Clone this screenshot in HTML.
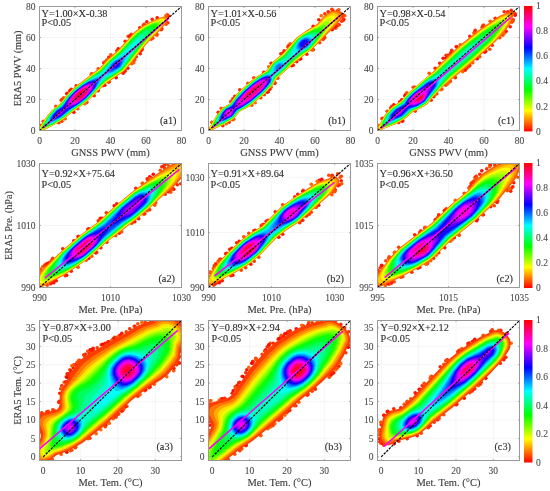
<!DOCTYPE html><html><head><meta charset="utf-8"><style>html,body{margin:0;padding:0;background:#fff;}svg{display:block;font-family:"Liberation Serif", "Times New Roman", serif;filter:blur(0.4px);} .tk{fill:#4a4a4a;stroke:#4a4a4a;stroke-width:0.1px;} .an{fill:#2e2e2e;stroke:#2e2e2e;stroke-width:0.12px;} .al{fill:#3c3c3c;stroke:#3c3c3c;stroke-width:0.12px;}</style></head><body><svg width="550" height="491" viewBox="0 0 550 491">
<defs><linearGradient id="hsv" x1="0" y1="1" x2="0" y2="0"><stop offset="0" stop-color="#ff0000"/><stop offset="0.1667" stop-color="#ffff00"/><stop offset="0.3333" stop-color="#00ff00"/><stop offset="0.5" stop-color="#00ffff"/><stop offset="0.6667" stop-color="#0000ff"/><stop offset="0.8333" stop-color="#ff00ff"/><stop offset="1" stop-color="#ff0000"/></linearGradient><filter id="bl" x="-5%" y="-5%" width="110%" height="110%"><feGaussianBlur stdDeviation="0.45"/></filter></defs>
<line x1="75.0" y1="6.5" x2="75.0" y2="130.5" stroke="#efefef" stroke-width="0.6"/><line x1="110.5" y1="6.5" x2="110.5" y2="130.5" stroke="#efefef" stroke-width="0.6"/><line x1="146.0" y1="6.5" x2="146.0" y2="130.5" stroke="#efefef" stroke-width="0.6"/><line x1="39.5" y1="99.5" x2="181.5" y2="99.5" stroke="#efefef" stroke-width="0.6"/><line x1="39.5" y1="68.5" x2="181.5" y2="68.5" stroke="#efefef" stroke-width="0.6"/><line x1="39.5" y1="37.5" x2="181.5" y2="37.5" stroke="#efefef" stroke-width="0.6"/>
<g><clipPath id="cp00"><rect x="39.5" y="6.5" width="142.0" height="124.0"/></clipPath><g clip-path="url(#cp00)"><g filter="url(#bl)"><circle cx="134.8" cy="59.8" r="1.8" fill="#ff4800"/><circle cx="65.2" cy="118.8" r="1.8" fill="#ff6200"/><circle cx="166.2" cy="23.7" r="1.8" fill="#ff5900"/><circle cx="64.2" cy="118.8" r="1.8" fill="#ff5f00"/><circle cx="151.2" cy="39.2" r="1.8" fill="#ff4700"/><circle cx="141.2" cy="50.8" r="1.8" fill="#ff1a00"/><circle cx="63.8" cy="97.8" r="1.8" fill="#ff5200"/><circle cx="142.2" cy="49.2" r="1.8" fill="#ff1700"/><circle cx="131.8" cy="63.8" r="1.8" fill="#ff5900"/><circle cx="168.2" cy="15.8" r="1.8" fill="#ff0700"/><circle cx="103.2" cy="85.8" r="1.8" fill="#ff5800"/><circle cx="103.8" cy="62.8" r="1.8" fill="#ff1200"/><circle cx="125.2" cy="41.2" r="1.8" fill="#ff2800"/><circle cx="98.2" cy="90.8" r="1.8" fill="#ff2200"/><circle cx="152.8" cy="38.2" r="1.8" fill="#ff4a00"/><circle cx="140.2" cy="53.8" r="1.8" fill="#ff1300"/><circle cx="167.8" cy="22.8" r="1.8" fill="#ff2a00"/><circle cx="118.2" cy="48.8" r="1.8" fill="#ff0100"/><circle cx="161.8" cy="28.8" r="1.8" fill="#ff1c00"/><circle cx="156.8" cy="34.2" r="1.8" fill="#ff2d00"/><circle cx="104.8" cy="85.2" r="1.8" fill="#ff0b00"/><circle cx="128.2" cy="36.2" r="1.8" fill="#ff4400"/><circle cx="108.8" cy="57.2" r="1.8" fill="#ff2900"/><circle cx="40.8" cy="125.2" r="1.8" fill="#ff4e00"/><circle cx="43.2" cy="121.2" r="1.8" fill="#ff4600"/><circle cx="108.8" cy="82.2" r="1.8" fill="#ff2e00"/><circle cx="133.8" cy="62.8" r="1.8" fill="#ff5d00"/><circle cx="130.2" cy="35.8" r="1.8" fill="#ff4400"/><circle cx="143.2" cy="25.2" r="1.8" fill="#ff5700"/><circle cx="58.8" cy="122.8" r="1.8" fill="#ff2500"/><circle cx="133.8" cy="60.2" r="1.8" fill="#ff3a00"/><circle cx="146.8" cy="21.7" r="1.8" fill="#ff1500"/><circle cx="124.8" cy="71.8" r="1.8" fill="#ff6b00"/><circle cx="71.2" cy="89.2" r="1.8" fill="#ff1a00"/><circle cx="125.2" cy="70.8" r="1.8" fill="#ff1c00"/><circle cx="73.8" cy="112.2" r="1.8" fill="#ff0800"/><circle cx="168.2" cy="16.2" r="1.8" fill="#ff1c00"/><circle cx="104.8" cy="61.8" r="1.8" fill="#ff5200"/><circle cx="110.8" cy="54.8" r="1.8" fill="#ff4b00"/><circle cx="157.2" cy="17.7" r="1.8" fill="#ff0e00"/><circle cx="91.8" cy="73.8" r="1.8" fill="#ff2800"/><circle cx="86.8" cy="102.2" r="1.8" fill="#ff2d00"/><circle cx="98.2" cy="68.8" r="1.8" fill="#ff4700"/><circle cx="131.2" cy="34.2" r="1.8" fill="#ff3100"/><circle cx="61.2" cy="100.2" r="1.8" fill="#ff3f00"/><circle cx="106.8" cy="59.8" r="1.8" fill="#ff5a00"/><circle cx="134.2" cy="59.8" r="1.8" fill="#ff4e00"/><circle cx="76.2" cy="85.8" r="1.8" fill="#ff2700"/><circle cx="144.2" cy="24.2" r="1.8" fill="#ff3000"/><circle cx="94.2" cy="95.8" r="1.8" fill="#ff2700"/><circle cx="116.2" cy="77.8" r="1.8" fill="#ff0c00"/><circle cx="69.8" cy="90.8" r="1.8" fill="#ff1600"/><circle cx="139.8" cy="27.8" r="1.8" fill="#ff1e00"/><circle cx="67.2" cy="93.2" r="1.8" fill="#ff2200"/><circle cx="152.2" cy="19.2" r="1.8" fill="#ff2200"/><circle cx="86.2" cy="102.8" r="1.8" fill="#ff3e00"/><circle cx="84.8" cy="103.8" r="1.8" fill="#ff6800"/><circle cx="55.8" cy="106.2" r="1.8" fill="#ff5300"/><circle cx="111.2" cy="55.8" r="1.8" fill="#ff5500"/><circle cx="156.8" cy="35.2" r="1.8" fill="#ff5100"/><circle cx="167.2" cy="14.8" r="1.8" fill="#ff4000"/><circle cx="91.2" cy="74.2" r="1.8" fill="#ff6200"/><circle cx="109.3" cy="81.8" r="1.8" fill="#ff4a00"/><circle cx="62.2" cy="99.2" r="1.8" fill="#ff3600"/><circle cx="129.8" cy="36.2" r="1.8" fill="#ff0800"/><circle cx="161.2" cy="29.8" r="1.8" fill="#ff3400"/><circle cx="123.2" cy="73.2" r="1.8" fill="#ff1700"/><circle cx="66.8" cy="93.8" r="1.8" fill="#ff0e00"/><circle cx="61.8" cy="121.2" r="1.8" fill="#ff3600"/><circle cx="166.2" cy="24.2" r="1.8" fill="#ff5400"/><circle cx="136.2" cy="56.8" r="1.8" fill="#ff2000"/><circle cx="77.8" cy="108.8" r="1.8" fill="#ff5200"/><circle cx="116.8" cy="50.8" r="1.8" fill="#ff3800"/><circle cx="127.8" cy="68.2" r="1.8" fill="#ff1000"/><circle cx="165.8" cy="15.8" r="1.8" fill="#ff6700"/><path d="M43.8 130.3L39.8 130.3L39.8 126.8L47.2 115.7L51.8 110.2L59.8 103.8L66.3 95.2L73.7 87.8L99.2 68.2L107.8 59.2L119.7 48.2L134.2 32.2L139.8 27.8L145.2 24.3L157.6 18.2L166.2 15.9L168.3 16.8L168.8 18.8L166.3 23.2L158.8 31.8L149.5 40.8L140.9 50.8L132.2 62.2L124.3 71.2L104.8 84.4L87.7 101.2L74.8 110.4L63.6 119.2L57.2 123.3L43.8 130.3Z" fill="#ff5c00" fill-rule="evenodd"/><path d="M43.2 130.3L40.2 130.2L39.8 129.7L39.8 127.3L47.5 115.8L52.0 110.2L59.8 104.2L67.1 94.8L73.2 88.6L99.9 68.2L108.5 59.2L119.0 49.8L134.2 33.0L141.2 27.5L150.8 22.0L161.2 17.6L164.2 17.3L166.8 18.0L167.0 20.2L165.3 23.2L157.9 31.8L148.8 40.7L124.2 70.6L104.3 84.2L86.8 101.7L74.5 110.2L62.8 119.5L56.2 123.6L43.2 130.3Z" fill="#ff9500" fill-rule="evenodd"/><path d="M42.2 130.3L41.2 130.2L40.0 129.2L40.1 127.2L47.5 116.2L52.4 110.2L60.1 104.2L67.0 95.2L73.2 88.9L100.1 68.8L108.8 59.6L119.2 50.2L135.2 32.8L142.2 27.4L151.2 22.4L161.2 18.3L164.1 18.2L165.6 19.2L165.6 21.2L164.0 23.8L158.1 30.8L150.2 38.3L143.2 46.3L130.9 62.2L123.8 70.5L104.3 83.8L87.2 100.9L74.1 110.2L63.2 118.9L55.8 123.6L42.2 130.3Z" fill="#ffcb00" fill-rule="evenodd"/><path d="M42.8 129.9L40.8 129.3L40.2 127.8L48.1 115.8L53.2 109.7L60.4 104.2L66.5 96.2L72.8 89.7L99.8 69.5L109.2 59.7L119.8 50.3L132.8 35.8L139.2 30.1L145.2 26.1L152.2 22.4L160.8 19.2L162.8 19.1L164.1 19.8L164.6 20.8L164.1 22.2L159.1 28.8L149.8 38.2L142.8 46.2L130.4 62.2L123.5 70.2L104.8 83.0L86.8 101.0L73.7 110.2L62.8 119.0L55.8 123.4L42.8 129.9Z" fill="#feff00" fill-rule="evenodd"/><path d="M43.2 129.4L41.2 129.2L40.5 128.2L40.7 127.2L48.3 115.8L53.8 109.4L60.6 104.2L67.2 95.8L73.2 89.5L100.0 69.8L109.6 59.8L119.2 51.3L132.3 36.8L139.2 30.6L145.2 26.6L151.8 23.1L159.8 20.3L161.8 20.2L162.6 20.8L162.7 22.8L158.1 29.2L149.2 38.1L142.2 46.2L130.3 61.8L123.2 70.0L116.2 75.1L109.2 79.1L103.8 83.4L88.8 98.9L83.2 103.5L74.1 109.8L60.8 120.1L54.2 124.0L43.2 129.4Z" fill="#c8ff00" fill-rule="evenodd"/><path d="M43.8 128.9L41.8 128.9L41.1 128.2L41.1 127.2L48.5 115.8L53.8 109.7L60.8 104.4L67.0 96.2L73.2 89.8L100.2 69.9L109.8 60.0L119.3 51.8L132.8 36.8L139.2 31.1L144.8 27.3L151.2 23.8L158.2 21.6L160.8 21.9L161.2 22.8L160.7 24.2L157.5 29.2L149.0 37.8L141.8 46.2L123.1 69.8L116.2 74.8L109.2 78.8L104.2 82.6L88.8 98.7L83.8 102.9L73.8 109.8L60.8 119.9L53.8 124.1L43.8 128.9Z" fill="#93ff00" fill-rule="evenodd"/><path d="M42.8 128.8L41.8 128.2L41.5 127.2L44.6 121.8L49.1 115.2L53.9 109.8L60.8 104.6L67.2 96.2L73.2 90.0L100.4 70.2L109.9 60.2L119.8 51.8L132.8 37.2L139.2 31.5L144.8 27.8L151.2 24.3L156.2 22.8L158.9 23.2L159.2 25.2L156.8 29.2L148.8 37.5L141.8 45.7L122.8 69.7L105.2 81.5L100.8 85.5L86.8 100.3L73.8 109.6L62.8 118.3L53.8 123.9L42.8 128.8Z" fill="#5dff00" fill-rule="evenodd"/><path d="M44.8 127.8L42.4 127.8L42.6 125.8L48.2 116.6L54.1 109.8L60.9 104.8L65.8 98.2L73.2 90.2L82.2 83.2L100.8 70.3L110.3 60.2L120.2 51.8L133.2 37.4L139.6 31.8L144.8 28.2L151.5 24.8L155.2 23.8L157.3 24.2L157.8 26.2L155.8 29.8L148.0 37.8L141.6 45.2L122.8 69.3L104.8 81.5L100.8 85.1L88.7 98.2L82.8 103.3L74.2 109.0L60.4 119.8L52.8 124.3L44.8 127.8Z" fill="#28ff00" fill-rule="evenodd"/><path d="M45.2 127.3L43.5 126.8L43.3 125.2L48.8 116.2L54.2 109.9L61.2 104.8L67.3 96.8L73.5 90.2L83.2 82.8L100.8 70.9L110.8 60.4L120.4 52.2L133.2 38.1L139.2 32.8L144.3 29.2L150.0 26.2L153.2 25.3L155.3 25.8L155.9 27.2L154.6 29.8L140.6 45.8L122.3 69.2L104.8 81.0L100.7 84.8L88.8 97.9L83.2 102.6L73.2 109.5L60.2 119.6L52.3 124.2L45.2 127.3Z" fill="#00ff0e" fill-rule="evenodd"/><path d="M47.2 126.3L44.8 126.3L44.0 124.8L48.8 116.8L54.3 110.2L61.2 105.1L67.6 96.8L73.3 90.8L83.2 83.1L100.8 71.5L111.0 60.8L121.2 52.2L133.8 38.5L138.8 34.0L143.5 30.8L148.2 28.3L151.2 27.4L152.8 27.9L153.0 29.2L151.8 31.2L139.4 46.2L122.2 68.8L104.8 80.4L100.2 84.7L92.0 94.2L83.8 101.9L73.1 109.2L60.8 119.0L54.6 122.8L47.2 126.3Z" fill="#00ff44" fill-rule="evenodd"/><path d="M47.2 125.8L45.3 125.2L44.9 123.8L49.5 116.2L54.7 110.2L61.4 105.2L67.9 96.8L73.7 90.8L83.8 83.0L101.2 71.8L111.1 61.2L121.0 53.2L133.8 39.5L137.9 35.8L145.0 31.2L147.2 30.6L148.8 31.1L148.2 33.2L144.3 38.8L121.8 68.6L115.2 73.2L108.2 77.0L105.2 79.3L100.2 84.1L91.6 94.2L83.2 102.0L72.8 109.2L60.2 119.0L53.1 123.2L47.2 125.8Z" fill="#00ff79" fill-rule="evenodd"/><path d="M48.8 124.8L46.8 124.8L45.8 123.2L49.4 116.8L54.8 110.5L61.8 105.3L67.8 97.2L73.5 91.2L84.8 82.6L101.2 72.6L111.2 61.7L121.9 53.2L135.8 38.8L140.8 35.2L142.8 34.5L143.8 34.8L144.1 36.2L142.3 39.8L121.5 68.2L114.8 73.0L105.2 78.5L99.8 84.1L92.2 93.2L83.8 101.3L72.8 108.9L60.2 118.7L54.4 122.2L48.8 124.8Z" fill="#00ffaf" fill-rule="evenodd"/><path d="M50.2 123.8L48.2 124.2L46.7 122.8L47.3 120.8L49.8 116.8L54.9 110.8L61.8 105.7L68.1 97.2L73.8 91.3L86.2 82.0L101.8 73.1L112.4 61.2L121.9 54.2L135.8 40.7L137.8 39.4L139.3 39.2L139.6 40.2L138.4 42.8L121.2 67.8L114.3 72.8L107.2 76.2L104.8 78.1L99.8 83.5L92.8 92.2L83.8 101.1L72.5 108.8L60.5 118.2L50.2 123.8Z" fill="#00ffe4" fill-rule="evenodd"/><path d="M49.8 123.3L48.2 122.6L47.8 121.2L50.8 116.0L55.3 110.8L62.1 105.8L68.9 96.8L74.7 90.8L87.2 81.6L102.2 74.0L113.0 61.2L121.2 55.9L128.8 49.8L130.2 49.0L131.0 49.2L130.8 51.1L128.8 55.0L123.1 64.8L120.7 67.8L113.8 72.5L104.8 76.7L93.4 91.2L83.8 100.8L72.1 108.8L60.1 118.2L54.1 121.8L49.8 123.3Z" fill="#00e4ff" fill-rule="evenodd"/><path d="M108.2 73.8L106.2 73.6L105.7 72.8L105.8 71.8L107.7 68.2L112.2 62.8L117.8 58.7L123.8 56.1L125.1 56.2L125.3 57.8L123.6 62.2L120.8 67.0L113.8 71.8L108.2 73.8ZM51.2 122.3L49.8 122.0L48.8 120.8L49.7 118.2L51.8 115.2L55.8 110.7L62.2 106.1L68.8 97.2L75.1 90.8L82.2 85.2L88.8 81.1L97.8 77.1L100.2 76.6L101.6 77.2L101.0 79.8L95.5 88.2L85.8 98.8L79.2 103.8L71.6 108.8L60.3 117.8L55.2 120.8L51.2 122.3Z" fill="#00afff" fill-rule="evenodd"/><path d="M111.8 71.9L109.2 72.2L107.8 70.8L108.7 68.2L111.6 64.2L114.0 61.8L117.2 59.7L120.2 58.8L122.1 59.2L122.8 60.2L122.7 62.2L120.7 66.2L117.7 68.8L111.8 71.9ZM52.8 121.3L51.2 121.2L50.0 119.8L50.6 117.8L52.6 114.8L56.1 110.8L62.6 106.2L69.1 97.2L74.8 91.4L82.2 85.5L88.2 81.7L95.8 78.6L97.8 78.3L98.9 78.8L99.4 79.8L99.2 80.8L95.5 87.8L85.8 98.5L79.0 103.8L70.8 109.0L60.5 117.2L52.8 121.3Z" fill="#0079ff" fill-rule="evenodd"/><path d="M112.8 70.3L110.8 70.4L109.9 69.2L110.8 66.8L112.9 63.8L117.2 60.6L119.2 60.1L120.8 60.7L121.4 61.8L121.4 63.2L119.8 66.2L117.2 68.3L112.8 70.3ZM53.2 120.3L51.8 119.6L51.2 118.2L53.8 113.8L56.6 110.8L62.8 106.6L69.2 97.4L75.2 91.2L82.3 85.8L88.8 81.8L95.2 79.8L97.2 80.5L97.6 81.2L97.2 83.2L95.1 87.8L91.1 92.8L85.2 98.6L78.8 103.6L70.2 109.0L59.9 117.2L53.2 120.3Z" fill="#0044ff" fill-rule="evenodd"/><path d="M114.8 68.3L113.2 68.3L112.6 67.8L112.4 66.8L113.2 64.8L116.2 62.0L117.8 61.5L119.2 61.9L120.1 63.2L119.5 65.2L117.3 67.2L114.8 68.3ZM55.8 118.8L53.8 118.9L52.7 117.8L52.9 116.2L54.4 113.8L57.2 110.8L63.2 106.8L69.3 97.8L75.0 91.8L82.8 85.8L88.8 82.2L93.2 80.9L95.8 81.9L96.2 84.2L94.7 87.8L90.7 92.8L85.3 98.2L78.8 103.3L68.5 109.8L60.2 116.6L55.8 118.8Z" fill="#000eff" fill-rule="evenodd"/><path d="M116.8 65.8L115.7 65.8L115.3 64.8L116.2 63.7L117.2 63.6L117.9 64.8L116.8 65.8ZM57.8 117.3L55.8 117.6L54.4 116.8L54.3 115.2L55.2 113.5L57.3 111.2L63.3 107.8L69.3 98.2L75.2 91.9L82.5 86.2L88.4 82.8L92.2 81.7L94.8 82.9L95.3 84.8L94.2 87.8L90.8 92.2L85.5 97.8L78.2 103.4L67.2 109.9L60.8 115.6L57.8 117.3Z" fill="#2800ff" fill-rule="evenodd"/><path d="M68.2 108.3L66.8 108.4L65.5 107.2L66.2 103.8L70.0 97.8L74.8 92.7L82.2 86.7L88.2 83.3L91.8 82.5L93.8 83.8L94.5 85.2L93.7 87.8L90.9 91.8L85.6 97.2L77.8 103.4L68.2 108.3ZM57.8 116.3L56.4 115.8L55.8 114.8L57.2 112.2L60.8 110.4L62.2 110.2L63.1 110.8L63.3 111.8L61.8 113.8L59.8 115.5L57.8 116.3Z" fill="#5d00ff" fill-rule="evenodd"/><path d="M69.8 106.8L68.2 106.7L67.1 105.8L67.1 103.2L70.4 97.8L75.6 92.2L82.7 86.8L87.2 84.2L90.8 83.3L93.1 84.8L93.5 86.8L92.2 89.2L85.2 97.3L77.4 103.2L69.8 106.8Z" fill="#9300ff" fill-rule="evenodd"/><path d="M71.8 105.3L69.2 105.2L68.2 104.2L68.2 102.8L70.5 98.2L75.0 93.2L79.7 89.2L85.8 85.4L89.8 84.2L91.8 85.2L92.6 86.8L91.7 89.2L85.9 96.2L77.8 102.7L71.8 105.3Z" fill="#c800ff" fill-rule="evenodd"/><path d="M72.8 104.3L70.2 103.6L69.5 102.8L69.5 101.2L71.3 97.8L75.2 93.4L79.6 89.8L85.2 86.1L88.8 85.1L90.8 86.2L91.5 87.8L90.8 89.8L85.4 96.2L77.8 102.3L72.8 104.3Z" fill="#fe00ff" fill-rule="evenodd"/><path d="M74.2 103.3L71.8 102.9L70.8 101.9L70.5 100.8L71.8 97.9L74.9 94.2L78.8 90.8L84.8 86.8L87.8 86.1L89.8 87.2L90.4 88.2L89.9 90.2L85.4 95.8L79.3 100.8L74.2 103.3Z" fill="#ff00cb" fill-rule="evenodd"/><path d="M75.8 102.3L73.2 102.3L71.7 100.8L71.9 98.8L74.1 95.8L78.1 91.8L83.2 88.2L86.2 87.1L88.2 87.8L89.1 88.8L89.1 90.2L86.3 94.2L81.5 98.8L75.8 102.3Z" fill="#ff0095" fill-rule="evenodd"/><path d="M76.2 101.3L74.2 101.2L72.8 99.2L75.7 94.8L78.9 91.8L83.8 88.7L85.8 88.2L87.2 89.0L87.8 89.8L87.7 91.2L84.7 95.2L80.8 98.7L76.2 101.3Z" fill="#ff0060" fill-rule="evenodd"/><path d="M78.2 99.3L76.2 99.7L74.9 98.8L74.8 97.8L75.8 95.8L80.8 91.2L83.2 90.1L85.0 90.2L85.9 91.8L84.6 94.2L81.8 97.2L78.2 99.3Z" fill="#ff002a" fill-rule="evenodd"/><path d="M80.2 96.8L78.3 96.8L77.9 95.2L79.8 93.2L82.0 92.8L82.8 94.2L80.2 96.8Z" fill="#ff0008" fill-rule="evenodd"/></g><line x1="43.0" y1="128.0" x2="169.1" y2="17.9" stroke="#ff00ff" stroke-width="1.6"/><line x1="39.5" y1="130.5" x2="181.5" y2="6.5" stroke="#000" stroke-width="1.15" stroke-dasharray="2.5 1.1"/></g></g>
<path d="M39.5 130.5v-1.5M39.5 6.5v1.5M75.0 130.5v-1.5M75.0 6.5v1.5M110.5 130.5v-1.5M110.5 6.5v1.5M146.0 130.5v-1.5M146.0 6.5v1.5M181.5 130.5v-1.5M181.5 6.5v1.5M39.5 130.5h1.5M181.5 130.5h-1.5M39.5 99.5h1.5M181.5 99.5h-1.5M39.5 68.5h1.5M181.5 68.5h-1.5M39.5 37.5h1.5M181.5 37.5h-1.5M39.5 6.5h1.5M181.5 6.5h-1.5" stroke="#999" stroke-width="0.8" fill="none"/>
<rect x="39.5" y="6.5" width="142.0" height="124.0" fill="none" stroke="#999" stroke-width="1"/>
<g font-size="9.5" class="tk"><text x="39.5" y="143.5" text-anchor="middle">0</text><text x="75.0" y="143.5" text-anchor="middle">20</text><text x="110.5" y="143.5" text-anchor="middle">40</text><text x="146.0" y="143.5" text-anchor="middle">60</text><text x="181.5" y="143.5" text-anchor="middle">80</text><text x="35.5" y="133.7" text-anchor="end">0</text><text x="35.5" y="102.7" text-anchor="end">20</text><text x="35.5" y="71.7" text-anchor="end">40</text><text x="35.5" y="40.7" text-anchor="end">60</text><text x="35.5" y="9.7" text-anchor="end">80</text></g>
<g font-size="10.3" class="an"><text x="41.5" y="16.5">Y=1.00×X-0.38</text><text x="41.5" y="26.3">P&lt;0.05</text><text x="176.5" y="123.5" text-anchor="end">(a1)</text></g>
<text x="110.5" y="155.5" text-anchor="middle" font-size="10.5" class="al">GNSS PWV (mm)</text>
<text transform="translate(20.7,68.5) rotate(-90)" text-anchor="middle" font-size="10.2" class="al">ERA5 PWV (mm)</text>
<line x1="244.0" y1="6.5" x2="244.0" y2="130.5" stroke="#efefef" stroke-width="0.6"/><line x1="279.5" y1="6.5" x2="279.5" y2="130.5" stroke="#efefef" stroke-width="0.6"/><line x1="315.0" y1="6.5" x2="315.0" y2="130.5" stroke="#efefef" stroke-width="0.6"/><line x1="208.5" y1="99.5" x2="350.5" y2="99.5" stroke="#efefef" stroke-width="0.6"/><line x1="208.5" y1="68.5" x2="350.5" y2="68.5" stroke="#efefef" stroke-width="0.6"/><line x1="208.5" y1="37.5" x2="350.5" y2="37.5" stroke="#efefef" stroke-width="0.6"/>
<g><clipPath id="cp01"><rect x="208.5" y="6.5" width="142.0" height="124.0"/></clipPath><g clip-path="url(#cp01)"><g filter="url(#bl)"><circle cx="313.2" cy="49.8" r="1.8" fill="#ff0300"/><circle cx="232.8" cy="119.8" r="1.8" fill="#ff4800"/><circle cx="321.2" cy="15.8" r="1.8" fill="#ff6200"/><circle cx="233.8" cy="119.2" r="1.8" fill="#ff5900"/><circle cx="335.8" cy="28.2" r="1.8" fill="#ff5f00"/><circle cx="323.2" cy="39.2" r="1.8" fill="#ff4700"/><circle cx="234.8" cy="96.2" r="1.8" fill="#ff1a00"/><circle cx="324.8" cy="37.8" r="1.8" fill="#ff5200"/><circle cx="306.8" cy="54.2" r="1.8" fill="#ff1700"/><circle cx="338.8" cy="9.7" r="1.8" fill="#ff5900"/><circle cx="274.8" cy="83.2" r="1.8" fill="#ff0700"/><circle cx="282.8" cy="53.2" r="1.8" fill="#ff5800"/><circle cx="332.2" cy="29.8" r="1.8" fill="#ff1200"/><circle cx="239.8" cy="89.8" r="1.8" fill="#ff2800"/><circle cx="334.2" cy="27.8" r="1.8" fill="#ff2200"/><circle cx="319.8" cy="42.8" r="1.8" fill="#ff4a00"/><circle cx="343.2" cy="14.8" r="1.8" fill="#ff1300"/><circle cx="324.2" cy="37.2" r="1.8" fill="#ff2a00"/><circle cx="343.2" cy="20.3" r="1.8" fill="#ff0100"/><circle cx="339.2" cy="24.8" r="1.8" fill="#ff1c00"/><circle cx="274.8" cy="82.8" r="1.8" fill="#ff2d00"/><circle cx="313.2" cy="26.3" r="1.8" fill="#ff0b00"/><circle cx="287.8" cy="46.8" r="1.8" fill="#ff4400"/><circle cx="222.8" cy="125.8" r="1.8" fill="#ff2900"/><circle cx="211.8" cy="122.2" r="1.8" fill="#ff4e00"/><circle cx="277.8" cy="78.2" r="1.8" fill="#ff4600"/><circle cx="280.8" cy="53.8" r="1.8" fill="#ff2e00"/><circle cx="337.8" cy="25.8" r="1.8" fill="#ff5d00"/><circle cx="342.2" cy="16.8" r="1.8" fill="#ff4400"/><circle cx="226.2" cy="123.8" r="1.8" fill="#ff5700"/><circle cx="284.2" cy="50.8" r="1.8" fill="#ff2500"/><circle cx="324.8" cy="13.7" r="1.8" fill="#ff3a00"/><circle cx="271.2" cy="63.2" r="1.8" fill="#ff1500"/><circle cx="271.2" cy="87.2" r="1.8" fill="#ff6b00"/><circle cx="296.8" cy="61.8" r="1.8" fill="#ff1a00"/><circle cx="218.2" cy="112.2" r="1.8" fill="#ff1c00"/><circle cx="332.8" cy="10.2" r="1.8" fill="#ff0800"/><circle cx="283.8" cy="52.2" r="1.8" fill="#ff1c00"/><circle cx="290.2" cy="43.8" r="1.8" fill="#ff5200"/><circle cx="337.2" cy="10.8" r="1.8" fill="#ff4b00"/><circle cx="291.8" cy="65.8" r="1.8" fill="#ff0e00"/><circle cx="231.2" cy="101.2" r="1.8" fill="#ff2800"/><circle cx="299.8" cy="59.2" r="1.8" fill="#ff2d00"/><circle cx="337.2" cy="24.8" r="1.8" fill="#ff4700"/><circle cx="232.8" cy="98.8" r="1.8" fill="#ff3100"/><circle cx="311.8" cy="49.8" r="1.8" fill="#ff3f00"/><circle cx="312.8" cy="49.8" r="1.8" fill="#ff5a00"/><circle cx="247.8" cy="83.2" r="1.8" fill="#ff4e00"/><circle cx="342.8" cy="15.8" r="1.8" fill="#ff2700"/><circle cx="264.2" cy="94.8" r="1.8" fill="#ff3000"/><circle cx="263.8" cy="72.2" r="1.8" fill="#ff2700"/><circle cx="269.8" cy="89.2" r="1.8" fill="#ff0c00"/><circle cx="318.8" cy="19.8" r="1.8" fill="#ff1600"/><circle cx="268.2" cy="91.8" r="1.8" fill="#ff1e00"/><circle cx="343.8" cy="19.2" r="1.8" fill="#ff2200"/><circle cx="328.2" cy="11.8" r="1.8" fill="#ff2200"/><circle cx="230.8" cy="101.8" r="1.8" fill="#ff3e00"/><circle cx="255.2" cy="102.8" r="1.8" fill="#ff6800"/><circle cx="251.8" cy="105.2" r="1.8" fill="#ff5300"/><circle cx="288.8" cy="45.2" r="1.8" fill="#ff5500"/><circle cx="335.8" cy="25.8" r="1.8" fill="#ff5100"/><circle cx="331.8" cy="9.2" r="1.8" fill="#ff4000"/><circle cx="268.8" cy="66.8" r="1.8" fill="#ff6200"/><circle cx="253.8" cy="77.8" r="1.8" fill="#ff4a00"/><circle cx="260.8" cy="97.8" r="1.8" fill="#ff3600"/><circle cx="335.8" cy="26.3" r="1.8" fill="#ff0800"/><circle cx="341.8" cy="21.2" r="1.8" fill="#ff3400"/><circle cx="293.2" cy="65.2" r="1.8" fill="#ff1700"/><circle cx="267.2" cy="92.2" r="1.8" fill="#ff0e00"/><circle cx="229.2" cy="122.2" r="1.8" fill="#ff3600"/><circle cx="344.8" cy="15.8" r="1.8" fill="#ff5400"/><circle cx="288.8" cy="46.2" r="1.8" fill="#ff2000"/><circle cx="221.2" cy="108.2" r="1.8" fill="#ff5200"/><circle cx="322.8" cy="39.2" r="1.8" fill="#ff3800"/><circle cx="300.8" cy="58.8" r="1.8" fill="#ff1000"/><path d="M211.8 130.3L209.2 130.2L208.8 129.8L208.8 127.7L210.4 125.8L216.2 115.8L220.8 109.7L223.4 107.2L229.8 103.6L236.8 93.7L249.7 81.8L255.8 77.2L266.8 70.2L272.3 62.2L282.8 53.4L296.3 37.8L306.8 30.2L317.2 24.0L323.8 16.0L330.5 11.2L332.2 10.7L337.8 11.1L339.8 10.7L342.2 12.4L343.0 14.2L341.3 19.2L335.8 25.5L312.7 48.8L296.2 61.4L277.8 77.8L276.0 79.8L273.2 84.8L264.2 94.6L250.8 105.7L239.2 112.0L235.2 117.4L232.3 119.8L224.8 124.1L211.8 130.3Z" fill="#ff5c00" fill-rule="evenodd"/><path d="M211.8 130.0L209.7 129.8L208.9 128.8L209.1 127.8L216.5 115.8L221.5 109.2L224.2 106.9L229.9 103.8L237.2 93.8L249.8 82.1L257.2 76.6L267.2 70.3L272.8 62.3L283.0 53.8L296.8 37.9L303.2 33.1L317.9 24.2L324.2 16.8L330.2 12.7L332.2 11.7L334.8 11.6L337.8 12.3L339.9 13.8L340.8 15.8L340.0 18.8L333.8 26.2L311.8 49.0L295.8 61.2L277.3 77.8L272.5 85.2L263.8 94.6L250.8 105.4L239.2 111.8L235.1 117.2L232.2 119.5L224.2 124.1L211.8 130.0Z" fill="#ff9500" fill-rule="evenodd"/><path d="M212.2 129.4L210.2 129.4L209.6 128.8L209.5 127.8L216.5 116.2L221.9 109.2L223.8 107.5L230.2 103.8L237.5 93.8L249.8 82.5L257.2 76.9L267.1 70.8L272.8 62.7L283.2 54.1L297.2 37.9L303.2 33.5L318.2 24.8L324.8 17.6L329.2 14.6L332.2 13.3L334.2 13.0L336.2 13.7L338.1 15.2L338.6 17.8L336.3 21.8L315.1 45.2L310.2 49.9L295.2 61.2L277.4 77.2L275.8 79.1L272.5 84.8L263.8 94.2L250.8 105.0L238.9 111.8L235.2 116.8L232.8 118.9L224.8 123.6L212.2 129.4Z" fill="#ffcb00" fill-rule="evenodd"/><path d="M212.2 129.0L210.4 128.8L210.2 127.2L216.1 117.2L222.1 109.2L224.2 107.4L230.2 103.9L237.4 94.2L250.2 82.4L256.8 77.5L267.5 70.8L273.0 62.8L283.5 54.2L297.3 38.2L303.8 33.6L318.8 25.0L326.8 17.4L332.2 15.3L333.8 15.5L335.3 16.8L335.9 17.8L335.9 19.2L333.4 23.8L314.6 45.2L309.8 49.9L294.7 61.2L284.8 70.7L277.0 77.2L275.3 79.2L272.6 84.2L263.8 93.9L250.2 105.1L238.8 111.7L234.9 116.8L232.2 119.0L223.8 123.9L212.2 129.0Z" fill="#feff00" fill-rule="evenodd"/><path d="M212.8 128.3L211.8 128.6L210.6 127.8L212.2 124.2L216.9 116.2L222.2 109.4L224.2 107.6L230.2 104.1L237.8 94.2L250.2 82.6L257.8 77.1L267.8 70.8L273.2 62.9L283.8 54.5L297.7 38.2L303.8 33.9L319.2 25.4L326.8 18.9L330.2 18.2L332.2 19.5L332.7 20.8L332.5 22.2L330.2 26.2L314.2 45.2L309.2 50.0L300.9 55.8L294.2 61.2L284.8 70.4L277.2 76.8L275.4 78.8L272.0 84.8L263.2 94.1L250.2 104.9L238.8 111.5L234.7 116.8L231.8 119.2L222.2 124.4L212.8 128.3Z" fill="#c8ff00" fill-rule="evenodd"/><path d="M214.8 127.3L213.2 127.7L212.0 127.2L211.7 126.2L212.2 124.8L216.5 117.2L222.1 109.8L224.3 107.8L230.3 104.2L237.9 94.2L250.8 82.4L258.2 76.9L267.8 71.1L273.2 63.2L283.9 54.8L297.8 38.6L303.2 34.5L319.2 26.1L325.2 21.8L327.2 21.3L328.9 22.2L329.5 23.2L329.3 24.8L327.3 28.8L313.9 45.2L309.2 49.7L301.1 55.2L293.8 61.2L284.6 70.2L276.8 76.9L275.2 78.6L272.1 84.2L263.8 93.4L249.8 105.0L238.8 111.3L234.5 116.8L232.2 118.6L223.8 123.5L214.8 127.3Z" fill="#93ff00" fill-rule="evenodd"/><path d="M215.8 126.8L213.8 127.2L212.8 126.8L212.3 125.8L212.7 124.2L216.7 117.2L222.2 109.8L224.5 107.8L230.5 104.2L238.1 94.2L250.8 82.7L258.2 77.1L267.9 71.2L273.5 63.2L284.2 54.8L297.9 38.8L302.8 35.1L312.2 29.9L323.2 25.0L324.8 24.9L325.9 25.8L326.3 27.8L324.3 31.8L313.6 45.2L309.2 49.4L300.7 55.2L293.9 60.8L284.3 70.2L276.6 76.8L275.2 78.2L271.9 84.2L263.1 93.8L250.2 104.4L238.8 111.2L234.3 116.8L232.2 118.5L223.8 123.3L215.8 126.8Z" fill="#5dff00" fill-rule="evenodd"/><path d="M214.2 126.8L212.9 125.8L213.7 122.8L217.2 116.7L222.8 109.5L224.8 107.8L230.7 104.2L238.2 94.4L249.8 83.7L257.8 77.7L268.2 71.2L273.7 63.2L284.2 55.2L298.2 38.8L304.8 34.2L313.8 29.7L320.8 27.4L322.2 27.5L323.4 28.2L323.8 30.2L322.2 33.7L312.8 45.8L308.4 49.8L301.2 54.5L294.2 60.0L290.2 63.5L284.5 69.8L276.3 76.8L274.9 78.2L271.3 84.8L262.3 94.2L250.2 104.2L238.8 111.0L234.2 116.6L232.2 118.3L222.5 123.8L214.2 126.8Z" fill="#28ff00" fill-rule="evenodd"/><path d="M216.8 125.8L214.2 125.7L213.6 124.8L213.9 123.2L217.5 116.8L222.8 109.8L230.8 104.4L238.2 94.7L251.2 82.8L259.2 77.0L268.2 71.7L273.8 63.7L284.8 55.4L298.2 39.2L303.2 35.5L312.8 30.8L318.2 29.5L320.8 30.8L321.3 32.8L320.2 35.2L312.2 45.8L308.2 49.5L300.2 54.8L293.2 60.3L289.8 63.4L284.1 69.8L276.2 76.3L274.6 78.2L271.8 83.8L263.1 93.2L250.8 103.6L238.2 111.2L234.2 116.3L232.2 118.1L224.2 122.7L216.8 125.8Z" fill="#00ff0e" fill-rule="evenodd"/><path d="M216.8 125.3L215.8 125.2L214.6 124.2L214.8 122.2L217.8 116.8L223.1 109.8L230.8 104.7L238.6 94.8L251.2 83.1L258.8 77.6L268.7 71.8L274.2 63.8L285.2 55.8L298.7 39.2L304.2 35.4L312.2 31.9L316.2 31.3L318.6 32.8L319.1 34.2L318.2 36.8L311.8 45.8L308.2 49.0L299.3 54.8L289.8 62.6L284.1 69.2L274.8 77.2L271.8 83.2L262.8 93.2L249.8 104.0L238.2 110.9L234.0 116.2L231.8 118.1L223.2 122.9L216.8 125.3Z" fill="#00ff44" fill-rule="evenodd"/><path d="M218.8 124.3L216.8 124.4L215.3 122.8L216.4 119.8L219.1 115.2L224.2 108.9L231.2 104.5L237.8 96.1L242.9 90.8L256.8 79.2L268.8 72.2L274.6 63.8L285.7 56.2L296.8 41.8L300.2 38.4L305.2 35.4L311.8 33.0L314.8 32.9L316.6 34.2L317.1 35.8L316.5 37.8L314.0 42.2L311.3 45.8L307.8 49.0L299.1 54.2L289.2 62.1L284.1 68.8L274.7 76.8L271.5 83.2L262.8 92.9L250.8 103.0L238.2 110.8L234.2 115.8L231.9 117.8L224.2 122.1L218.8 124.3Z" fill="#00ff79" fill-rule="evenodd"/><path d="M218.8 123.8L216.8 123.1L216.3 121.2L217.8 117.8L221.6 112.2L224.8 108.8L231.2 104.8L237.8 96.4L243.2 90.7L257.2 79.2L263.2 75.4L269.2 72.5L273.9 65.2L276.2 62.8L285.7 57.8L292.8 48.7L296.9 42.2L300.4 38.8L304.8 36.1L309.2 34.6L312.6 34.2L314.8 35.7L315.3 37.2L314.6 39.8L310.7 45.8L306.8 49.2L298.2 54.1L288.8 61.1L283.8 68.6L274.2 76.5L271.5 82.8L262.5 92.8L250.8 102.7L237.8 110.8L233.9 115.8L231.8 117.6L224.2 121.9L218.8 123.8Z" fill="#00ffaf" fill-rule="evenodd"/><path d="M292.8 55.9L291.0 55.2L291.4 52.8L296.4 43.8L299.8 39.8L303.8 37.1L308.2 35.5L311.2 35.6L313.2 37.1L313.8 38.8L313.2 41.2L311.4 44.2L308.8 47.2L304.2 50.3L292.8 55.9ZM220.8 122.9L218.2 122.8L217.1 121.8L217.0 120.8L218.2 117.8L221.1 113.2L225.1 108.8L231.6 104.8L237.8 96.8L243.0 91.2L252.2 83.2L257.8 79.1L263.8 75.5L270.0 72.8L274.2 65.5L277.0 62.8L282.8 60.3L284.2 60.3L285.8 61.2L286.3 62.2L286.1 63.8L284.3 67.2L281.8 69.9L273.8 76.0L271.2 82.8L262.8 92.2L250.8 102.4L237.8 110.5L231.9 117.2L224.9 121.2L220.8 122.9Z" fill="#00ffe4" fill-rule="evenodd"/><path d="M298.8 51.8L295.9 51.8L294.9 50.8L294.8 49.8L296.1 45.2L298.8 41.2L302.2 38.4L306.2 36.6L309.2 36.3L311.7 37.8L312.7 39.2L312.6 40.8L311.5 43.2L309.6 45.8L304.8 49.5L298.8 51.8ZM221.2 122.3L219.2 122.2L217.7 120.2L218.8 117.2L221.8 112.8L225.2 108.9L231.4 105.2L237.8 97.2L243.2 91.4L252.8 83.1L260.8 77.5L266.8 74.6L271.8 74.1L273.8 67.2L275.2 64.9L277.1 63.2L281.8 61.4L283.2 61.8L284.4 62.8L284.9 63.8L284.7 65.2L282.4 68.8L276.8 72.8L272.2 74.5L272.4 78.2L271.2 82.1L267.6 86.8L262.4 92.2L250.8 102.1L237.2 110.7L233.8 115.3L231.8 117.1L225.2 120.8L221.2 122.3Z" fill="#00e4ff" fill-rule="evenodd"/><path d="M301.8 50.3L298.8 50.5L296.5 48.8L296.5 46.2L297.9 43.2L300.4 40.2L303.8 38.1L307.2 37.1L309.7 37.8L311.7 40.2L310.6 43.8L306.8 47.8L301.8 50.3ZM276.2 71.8L274.8 71.2L273.9 69.8L275.4 65.8L276.8 64.2L279.2 62.8L280.8 62.5L282.2 63.0L283.6 64.8L282.9 67.2L279.8 70.1L276.2 71.8ZM221.2 121.8L219.2 121.0L218.5 119.2L219.5 116.8L222.4 112.2L225.2 109.2L231.7 105.2L237.8 97.5L243.8 91.2L253.8 82.6L263.2 76.4L268.2 74.7L269.8 75.0L271.2 76.2L271.9 78.8L270.8 82.2L267.2 86.8L261.8 92.5L250.8 101.8L237.2 110.3L231.8 116.8L224.8 120.7L221.2 121.8Z" fill="#00afff" fill-rule="evenodd"/><path d="M302.8 49.3L300.2 49.5L298.2 48.2L297.4 46.2L298.2 43.8L300.0 41.2L302.8 39.2L305.8 38.0L308.3 38.2L310.5 40.2L310.7 41.8L310.2 43.2L307.2 46.8L302.8 49.3ZM278.2 69.8L277.1 69.8L275.9 68.8L275.8 66.8L277.8 64.5L280.2 63.9L282.0 65.2L282.0 66.8L280.8 68.4L278.2 69.8ZM223.2 120.9L220.8 120.9L219.3 119.2L219.7 117.2L222.4 112.8L225.5 109.2L231.8 105.6L237.2 98.5L244.1 91.2L254.0 82.8L263.2 76.7L267.8 75.3L269.2 75.7L270.8 77.0L271.4 79.2L270.7 81.8L267.2 86.4L261.8 92.2L250.4 101.8L236.9 110.2L231.8 116.6L223.2 120.9Z" fill="#0079ff" fill-rule="evenodd"/><path d="M303.2 48.4L301.2 48.5L299.2 47.2L298.5 45.8L299.0 43.8L300.8 41.3L302.8 39.8L305.2 38.9L307.2 39.0L309.3 40.8L309.4 43.2L307.1 46.2L303.2 48.4ZM223.8 120.3L221.6 120.2L220.0 118.2L222.8 112.7L225.9 109.2L232.1 105.8L236.8 99.4L244.2 91.4L253.8 83.2L262.8 77.3L267.2 75.9L268.8 76.3L270.2 77.6L270.9 79.8L270.2 81.9L266.6 86.8L261.3 92.2L250.7 101.2L242.6 106.8L236.8 110.0L231.8 116.3L223.8 120.3Z" fill="#0044ff" fill-rule="evenodd"/><path d="M303.8 47.4L301.8 47.3L300.4 46.2L299.8 45.2L299.9 43.8L302.4 40.8L304.8 39.8L306.2 40.0L308.2 41.6L308.4 43.2L306.7 45.8L303.8 47.4ZM225.2 119.3L222.8 119.7L221.0 118.2L221.2 116.2L223.2 112.5L226.2 109.3L232.2 106.2L236.2 100.4L244.3 91.8L253.8 83.6L261.8 78.2L266.8 76.4L268.2 76.9L269.8 78.2L270.4 80.2L269.6 82.2L266.2 86.7L261.5 91.8L250.2 101.2L242.2 106.8L236.4 109.8L233.2 114.5L231.4 116.2L225.2 119.3Z" fill="#000eff" fill-rule="evenodd"/><path d="M304.8 45.9L302.8 45.9L301.3 44.2L302.0 42.2L304.2 41.1L306.1 41.8L307.0 43.2L306.4 44.8L304.8 45.9ZM225.2 118.8L223.2 118.7L221.8 117.2L222.1 115.2L223.8 112.2L226.8 109.3L232.8 106.6L236.2 100.9L244.7 91.8L253.9 83.8L261.4 78.8L266.2 76.9L267.8 77.4L269.2 78.7L269.7 80.8L268.5 83.2L261.1 91.8L252.5 99.2L246.2 103.8L241.2 107.0L235.8 109.5L233.4 113.8L231.6 115.8L225.2 118.8Z" fill="#2800ff" fill-rule="evenodd"/><path d="M238.2 107.8L236.2 107.9L234.8 106.9L234.3 105.8L234.8 103.8L237.2 100.1L244.5 92.2L253.7 84.2L260.2 79.7L265.2 77.6L266.8 77.7L268.2 78.8L269.1 80.2L268.3 82.8L261.7 90.8L250.7 100.2L241.9 106.2L238.2 107.8ZM226.8 117.9L224.8 118.1L222.9 116.8L222.8 115.2L223.9 112.8L227.3 109.2L230.8 108.1L232.8 108.2L234.3 110.2L233.0 113.8L230.4 116.2L226.8 117.9Z" fill="#5d00ff" fill-rule="evenodd"/><path d="M239.8 106.8L237.8 107.0L236.4 106.2L235.3 104.8L235.6 103.2L237.8 100.1L244.5 92.8L253.8 84.6L260.2 80.2L265.2 78.4L267.8 79.7L268.2 81.2L267.2 83.8L261.3 90.8L250.9 99.8L239.8 106.8ZM226.8 117.3L225.2 117.2L223.7 115.8L224.3 112.8L225.9 110.8L227.8 109.4L230.2 108.7L231.8 109.1L233.4 111.2L232.6 113.8L230.2 115.9L226.8 117.3Z" fill="#9300ff" fill-rule="evenodd"/><path d="M239.2 106.3L236.7 104.8L236.5 102.8L245.4 92.2L254.1 84.8L260.0 80.8L264.2 79.3L266.8 80.6L267.1 82.2L266.3 84.2L260.3 91.2L250.3 99.8L242.8 104.8L239.2 106.3ZM228.2 116.4L225.8 116.1L224.8 115.2L224.5 113.8L225.6 111.8L227.1 110.2L230.2 109.5L232.2 111.0L232.5 112.8L231.2 114.8L228.2 116.4Z" fill="#c800ff" fill-rule="evenodd"/><path d="M241.2 104.9L238.9 104.8L237.8 103.6L237.7 102.2L245.2 92.9L254.0 85.2L259.2 81.7L263.2 80.2L265.4 81.2L266.1 82.8L265.6 84.2L260.8 90.4L251.1 98.8L241.2 104.9ZM229.2 115.3L227.2 115.5L225.6 113.8L226.7 111.2L228.8 110.2L230.4 110.8L231.8 112.5L231.2 113.9L229.2 115.3Z" fill="#fe00ff" fill-rule="evenodd"/><path d="M242.2 103.3L241.2 103.2L240.0 102.2L239.8 100.8L246.0 92.8L254.0 85.8L258.2 82.9L261.8 81.3L263.2 81.5L264.2 82.3L264.8 83.8L264.3 85.2L259.8 90.8L250.4 98.8L242.2 103.3ZM229.8 113.9L228.8 114.2L227.4 113.2L227.6 111.8L228.8 111.4L230.0 112.2L230.4 113.2L229.8 113.9Z" fill="#ff00cb" fill-rule="evenodd"/><path d="M245.2 100.8L243.2 100.8L242.2 99.2L243.7 96.2L246.2 93.2L257.0 84.2L260.8 82.7L262.8 83.5L263.3 84.2L263.0 85.8L259.6 90.2L251.0 97.8L245.2 100.8Z" fill="#ff0095" fill-rule="evenodd"/><path d="M247.2 98.8L245.8 98.6L244.7 97.2L246.6 93.8L255.9 85.8L258.8 84.5L260.7 85.2L261.1 86.8L259.2 89.8L250.8 97.1L247.2 98.8Z" fill="#ff0060" fill-rule="evenodd"/><path d="M249.2 96.3L247.8 95.4L248.1 94.2L255.8 87.6L256.8 87.2L257.8 87.6L258.1 88.2L257.7 89.2L249.2 96.3Z" fill="#ff002a" fill-rule="evenodd"/></g><line x1="212.1" y1="128.2" x2="339.9" y2="15.5" stroke="#ff00ff" stroke-width="1.6"/><line x1="208.5" y1="130.5" x2="350.5" y2="6.5" stroke="#000" stroke-width="1.15" stroke-dasharray="2.5 1.1"/></g></g>
<path d="M208.5 130.5v-1.5M208.5 6.5v1.5M244.0 130.5v-1.5M244.0 6.5v1.5M279.5 130.5v-1.5M279.5 6.5v1.5M315.0 130.5v-1.5M315.0 6.5v1.5M350.5 130.5v-1.5M350.5 6.5v1.5M208.5 130.5h1.5M350.5 130.5h-1.5M208.5 99.5h1.5M350.5 99.5h-1.5M208.5 68.5h1.5M350.5 68.5h-1.5M208.5 37.5h1.5M350.5 37.5h-1.5M208.5 6.5h1.5M350.5 6.5h-1.5" stroke="#999" stroke-width="0.8" fill="none"/>
<rect x="208.5" y="6.5" width="142.0" height="124.0" fill="none" stroke="#999" stroke-width="1"/>
<g font-size="9.5" class="tk"><text x="208.5" y="143.5" text-anchor="middle">0</text><text x="244.0" y="143.5" text-anchor="middle">20</text><text x="279.5" y="143.5" text-anchor="middle">40</text><text x="315.0" y="143.5" text-anchor="middle">60</text><text x="350.5" y="143.5" text-anchor="middle">80</text><text x="204.5" y="133.7" text-anchor="end">0</text><text x="204.5" y="102.7" text-anchor="end">20</text><text x="204.5" y="71.7" text-anchor="end">40</text><text x="204.5" y="40.7" text-anchor="end">60</text><text x="204.5" y="9.7" text-anchor="end">80</text></g>
<g font-size="10.3" class="an"><text x="210.5" y="16.5">Y=1.01×X-0.56</text><text x="210.5" y="26.3">P&lt;0.05</text><text x="345.5" y="123.5" text-anchor="end">(b1)</text></g>
<text x="279.5" y="155.5" text-anchor="middle" font-size="10.5" class="al">GNSS PWV (mm)</text>
<line x1="413.0" y1="6.5" x2="413.0" y2="130.5" stroke="#efefef" stroke-width="0.6"/><line x1="448.5" y1="6.5" x2="448.5" y2="130.5" stroke="#efefef" stroke-width="0.6"/><line x1="484.0" y1="6.5" x2="484.0" y2="130.5" stroke="#efefef" stroke-width="0.6"/><line x1="377.5" y1="99.5" x2="519.5" y2="99.5" stroke="#efefef" stroke-width="0.6"/><line x1="377.5" y1="68.5" x2="519.5" y2="68.5" stroke="#efefef" stroke-width="0.6"/><line x1="377.5" y1="37.5" x2="519.5" y2="37.5" stroke="#efefef" stroke-width="0.6"/>
<g><clipPath id="cp02"><rect x="377.5" y="6.5" width="142.0" height="124.0"/></clipPath><g clip-path="url(#cp02)"><g filter="url(#bl)"><circle cx="448.8" cy="55.2" r="1.8" fill="#ff0700"/><circle cx="381.8" cy="118.8" r="1.8" fill="#ff5800"/><circle cx="512.2" cy="20.8" r="1.8" fill="#ff1200"/><circle cx="382.8" cy="118.2" r="1.8" fill="#ff2800"/><circle cx="469.8" cy="36.2" r="1.8" fill="#ff2200"/><circle cx="456.8" cy="46.8" r="1.8" fill="#ff4a00"/><circle cx="405.8" cy="94.2" r="1.8" fill="#ff1300"/><circle cx="492.2" cy="45.2" r="1.8" fill="#ff2a00"/><circle cx="477.2" cy="58.8" r="1.8" fill="#ff0100"/><circle cx="507.8" cy="11.8" r="1.8" fill="#ff1c00"/><circle cx="449.8" cy="81.8" r="1.8" fill="#ff2d00"/><circle cx="446.2" cy="57.8" r="1.8" fill="#ff0b00"/><circle cx="499.8" cy="37.8" r="1.8" fill="#ff4400"/><circle cx="414.8" cy="87.2" r="1.8" fill="#ff2900"/><circle cx="502.8" cy="35.2" r="1.8" fill="#ff4e00"/><circle cx="489.8" cy="49.2" r="1.8" fill="#ff4600"/><circle cx="513.2" cy="19.8" r="1.8" fill="#ff2e00"/><circle cx="460.2" cy="44.8" r="1.8" fill="#ff5d00"/><circle cx="482.8" cy="26.3" r="1.8" fill="#ff4400"/><circle cx="474.8" cy="31.8" r="1.8" fill="#ff5700"/><circle cx="450.2" cy="81.2" r="1.8" fill="#ff2500"/><circle cx="474.2" cy="33.2" r="1.8" fill="#ff3a00"/><circle cx="450.8" cy="52.8" r="1.8" fill="#ff1500"/><circle cx="379.2" cy="125.2" r="1.8" fill="#ff6b00"/><circle cx="402.8" cy="120.8" r="1.8" fill="#ff1a00"/><circle cx="455.2" cy="77.8" r="1.8" fill="#ff1c00"/><circle cx="443.2" cy="58.2" r="1.8" fill="#ff0800"/><circle cx="504.8" cy="32.8" r="1.8" fill="#ff1c00"/><circle cx="511.8" cy="22.3" r="1.8" fill="#ff5200"/><circle cx="398.8" cy="122.8" r="1.8" fill="#ff4b00"/><circle cx="447.8" cy="55.8" r="1.8" fill="#ff0e00"/><circle cx="495.2" cy="18.2" r="1.8" fill="#ff2800"/><circle cx="469.2" cy="66.2" r="1.8" fill="#ff2d00"/><circle cx="445.8" cy="85.2" r="1.8" fill="#ff4700"/><circle cx="469.8" cy="65.2" r="1.8" fill="#ff3100"/><circle cx="387.2" cy="111.2" r="1.8" fill="#ff3f00"/><circle cx="512.8" cy="12.3" r="1.8" fill="#ff5a00"/><circle cx="479.8" cy="56.8" r="1.8" fill="#ff4e00"/><circle cx="451.8" cy="50.2" r="1.8" fill="#ff2700"/><circle cx="515.2" cy="13.7" r="1.8" fill="#ff3000"/><circle cx="466.8" cy="68.2" r="1.8" fill="#ff2700"/><circle cx="401.8" cy="99.8" r="1.8" fill="#ff0c00"/><circle cx="439.8" cy="63.2" r="1.8" fill="#ff1600"/><circle cx="506.2" cy="31.2" r="1.8" fill="#ff1e00"/><circle cx="433.8" cy="96.8" r="1.8" fill="#ff2200"/><circle cx="446.2" cy="55.2" r="1.8" fill="#ff2200"/><circle cx="447.8" cy="55.2" r="1.8" fill="#ff3e00"/><circle cx="449.2" cy="81.8" r="1.8" fill="#ff6800"/><circle cx="490.2" cy="21.2" r="1.8" fill="#ff5300"/><circle cx="406.8" cy="92.8" r="1.8" fill="#ff5500"/><circle cx="429.2" cy="73.2" r="1.8" fill="#ff5100"/><circle cx="413.2" cy="87.2" r="1.8" fill="#ff4000"/><circle cx="483.8" cy="25.2" r="1.8" fill="#ff6200"/><circle cx="441.8" cy="89.2" r="1.8" fill="#ff4a00"/><circle cx="483.2" cy="25.2" r="1.8" fill="#ff3600"/><circle cx="515.2" cy="15.2" r="1.8" fill="#ff0800"/><circle cx="431.2" cy="100.2" r="1.8" fill="#ff3400"/><circle cx="399.8" cy="101.8" r="1.8" fill="#ff1700"/><circle cx="393.8" cy="104.8" r="1.8" fill="#ff0e00"/><circle cx="485.8" cy="51.2" r="1.8" fill="#ff3600"/><circle cx="474.2" cy="32.8" r="1.8" fill="#ff5400"/><circle cx="511.2" cy="10.2" r="1.8" fill="#ff2000"/><circle cx="465.8" cy="68.8" r="1.8" fill="#ff5200"/><circle cx="455.2" cy="77.2" r="1.8" fill="#ff3800"/><circle cx="404.8" cy="95.8" r="1.8" fill="#ff1000"/><circle cx="503.8" cy="33.2" r="1.8" fill="#ff6700"/><circle cx="482.2" cy="27.2" r="1.8" fill="#ff2b00"/><circle cx="435.2" cy="68.2" r="1.8" fill="#ff2000"/><circle cx="440.8" cy="89.8" r="1.8" fill="#ff5b00"/><circle cx="402.2" cy="121.2" r="1.8" fill="#ff0d00"/><circle cx="512.8" cy="21.2" r="1.8" fill="#ff4f00"/><circle cx="484.8" cy="52.2" r="1.8" fill="#ff1400"/><circle cx="390.8" cy="107.8" r="1.8" fill="#ff2a00"/><circle cx="456.2" cy="46.8" r="1.8" fill="#ff1900"/><circle cx="472.8" cy="62.8" r="1.8" fill="#ff5a00"/><circle cx="504.2" cy="11.8" r="1.8" fill="#ff2a00"/><circle cx="462.8" cy="71.8" r="1.8" fill="#ff6800"/><circle cx="415.2" cy="111.2" r="1.8" fill="#ff4300"/><circle cx="436.8" cy="93.8" r="1.8" fill="#ff4a00"/><circle cx="391.8" cy="106.2" r="1.8" fill="#ff3800"/><circle cx="465.2" cy="70.2" r="1.8" fill="#ff2100"/><circle cx="475.2" cy="30.3" r="1.8" fill="#ff2a00"/><circle cx="447.8" cy="83.8" r="1.8" fill="#ff6500"/><circle cx="510.2" cy="26.8" r="1.8" fill="#ff1600"/><circle cx="435.2" cy="94.8" r="1.8" fill="#ff6a00"/><path d="M381.2 130.3L378.2 130.2L377.8 129.8L377.8 127.2L379.1 125.8L384.2 115.7L388.8 109.9L392.8 106.2L401.2 100.8L406.6 94.2L432.8 71.9L441.2 62.8L459.2 45.8L479.8 29.2L499.7 15.8L509.0 11.8L510.8 11.8L512.8 13.2L513.6 15.2L510.8 23.3L505.8 30.3L496.2 41.0L473.3 61.8L445.2 84.8L432.4 97.8L427.2 104.2L419.9 108.8L413.2 111.4L406.5 117.8L402.8 120.2L395.2 124.2L383.2 129.0L381.2 130.3Z" fill="#ff5c00" fill-rule="evenodd"/><path d="M379.8 130.3L378.1 129.2L377.9 127.8L384.6 115.8L389.2 109.8L393.8 105.9L401.2 101.2L406.8 94.6L423.8 79.6L433.1 72.2L441.2 63.6L458.2 47.6L480.8 29.5L497.8 18.0L502.2 15.4L506.2 13.9L508.8 13.5L511.1 14.2L511.5 18.2L509.6 23.2L505.0 29.8L495.9 40.2L474.2 59.9L444.8 84.6L434.2 95.2L426.8 104.2L419.8 108.5L413.0 111.2L406.2 117.5L402.8 119.9L393.8 124.6L379.8 130.3Z" fill="#ff9500" fill-rule="evenodd"/><path d="M380.2 129.8L378.6 128.8L378.6 127.2L384.9 115.8L389.7 109.8L393.2 106.6L401.6 101.2L407.2 94.5L424.2 79.6L433.8 72.2L441.8 64.0L459.2 47.6L481.2 30.0L497.8 19.0L502.2 16.5L505.8 15.2L508.2 15.1L509.8 16.2L510.2 17.8L510.0 19.8L507.9 24.2L503.6 30.2L494.4 40.8L473.8 59.5L453.9 75.8L444.5 84.2L431.8 97.5L426.8 103.8L419.2 108.5L412.5 111.2L406.2 117.1L402.8 119.6L393.2 124.6L380.2 129.8Z" fill="#ffcb00" fill-rule="evenodd"/><path d="M380.8 129.3L379.2 128.6L379.0 127.2L384.9 116.2L389.8 110.1L393.8 106.6L401.8 101.5L405.3 96.8L408.2 93.9L424.8 79.5L433.8 72.8L459.8 47.9L480.8 31.1L496.8 20.5L504.2 16.7L506.8 16.5L508.2 17.5L508.8 18.8L508.5 20.8L506.3 25.2L501.8 31.2L493.6 40.8L478.8 54.5L453.8 75.2L444.2 83.9L431.7 97.2L426.8 103.5L419.2 108.2L412.8 110.8L405.8 117.2L402.2 119.6L392.8 124.5L380.8 129.3Z" fill="#feff00" fill-rule="evenodd"/><path d="M381.8 128.4L380.8 128.7L379.6 127.8L381.1 123.8L385.5 115.8L389.9 110.2L394.2 106.5L401.8 101.8L405.6 96.8L408.8 93.8L424.8 79.8L434.3 72.8L460.2 48.1L480.2 32.1L489.2 26.0L501.8 18.8L504.8 18.1L506.8 19.1L506.9 21.8L504.6 26.2L492.8 40.8L472.8 59.1L449.8 78.2L435.2 92.9L426.2 103.6L419.2 107.9L412.4 110.8L405.8 117.0L401.8 119.6L392.2 124.5L381.8 128.4Z" fill="#c8ff00" fill-rule="evenodd"/><path d="M382.8 127.8L381.2 127.5L380.7 126.8L381.8 122.8L386.4 114.8L391.8 108.7L402.1 101.8L405.8 96.9L409.2 93.6L424.8 80.1L434.8 72.8L457.2 51.4L469.8 40.9L482.8 30.9L492.8 24.6L501.2 20.2L503.2 19.9L504.8 20.6L505.1 22.8L503.2 26.8L497.7 34.2L492.1 40.8L472.8 58.5L450.2 77.2L434.8 93.2L426.2 103.3L418.8 108.0L412.1 110.8L405.7 116.8L401.8 119.4L391.8 124.6L382.8 127.8Z" fill="#93ff00" fill-rule="evenodd"/><path d="M383.8 127.3L382.2 127.3L381.2 126.2L382.0 122.8L386.6 114.8L392.2 108.5L402.2 101.9L405.8 97.2L410.2 92.9L425.2 80.0L434.7 73.2L458.2 51.0L469.8 41.4L482.2 31.9L490.8 26.5L499.2 22.3L501.2 21.9L502.8 22.6L502.9 24.8L501.2 28.2L491.4 40.8L473.2 57.4L450.2 76.7L434.8 92.9L426.1 103.2L418.8 107.8L411.8 110.8L405.8 116.4L402.2 118.9L392.8 123.9L383.8 127.3Z" fill="#5dff00" fill-rule="evenodd"/><path d="M384.8 126.8L382.8 126.8L381.8 126.0L382.2 122.9L386.2 115.6L391.8 109.2L402.2 102.1L406.0 97.2L410.2 93.2L425.2 80.2L436.2 72.4L458.6 51.2L470.1 41.8L482.7 32.2L489.2 28.1L497.2 24.4L499.2 24.1L500.4 24.8L500.6 26.8L498.8 30.2L495.0 35.8L490.2 41.1L472.8 57.3L450.2 76.1L434.5 92.8L425.8 103.2L418.4 107.8L411.8 110.5L405.7 116.2L401.3 119.2L392.7 123.8L384.8 126.8Z" fill="#28ff00" fill-rule="evenodd"/><path d="M384.8 126.3L383.2 126.0L382.3 124.8L383.2 121.5L387.2 114.7L392.7 108.8L402.5 102.2L406.3 97.2L410.6 93.2L425.7 80.2L436.6 72.8L459.6 51.2L469.2 43.2L481.8 33.9L487.5 30.2L493.8 27.5L495.8 27.4L496.8 28.0L497.0 29.8L495.7 32.8L489.5 40.8L473.5 55.8L450.2 75.3L442.6 83.2L425.8 103.0L418.2 107.6L411.7 110.2L405.3 116.2L401.8 118.7L392.2 123.7L384.8 126.3Z" fill="#00ff0e" fill-rule="evenodd"/><path d="M386.8 125.4L384.8 125.5L383.8 124.8L383.2 123.8L383.5 122.2L387.2 115.2L392.6 109.2L402.8 102.4L406.7 97.2L412.2 92.1L426.2 80.3L437.5 72.8L460.2 51.7L468.6 44.8L485.6 32.8L490.2 30.8L492.8 31.2L493.2 32.8L492.2 35.2L487.1 41.8L472.4 55.8L450.2 74.2L442.2 82.8L425.6 102.8L418.2 107.3L411.2 110.2L404.8 116.2L401.8 118.4L393.2 122.9L386.8 125.4Z" fill="#00ff44" fill-rule="evenodd"/><path d="M386.8 124.8L385.2 124.4L384.2 123.4L384.6 120.8L387.8 115.1L393.0 109.2L402.8 102.8L406.8 97.6L413.1 91.8L426.2 80.7L434.8 75.6L439.1 72.2L468.1 46.2L483.4 35.8L486.8 34.4L488.8 34.9L489.0 36.2L488.1 38.2L483.1 44.2L470.5 56.2L449.8 73.5L425.2 102.7L417.8 107.2L411.2 109.8L404.8 115.9L401.4 118.2L392.8 122.8L386.8 124.8Z" fill="#00ff79" fill-rule="evenodd"/><path d="M388.8 123.8L386.8 123.8L385.8 123.2L385.1 122.2L385.2 120.8L387.8 115.6L392.9 109.8L403.2 102.8L409.0 95.8L425.8 81.5L435.6 75.8L444.9 68.8L467.2 48.2L477.8 41.2L481.2 39.7L482.8 40.0L482.8 41.2L481.7 43.2L474.9 50.8L448.9 72.8L441.6 81.8L437.8 87.2L425.2 102.3L417.8 107.0L410.8 109.8L404.8 115.5L401.7 117.8L393.2 122.2L388.8 123.8Z" fill="#00ffaf" fill-rule="evenodd"/><path d="M455.2 63.9L454.7 63.2L456.5 60.8L464.8 52.2L470.9 47.8L473.2 46.7L474.6 46.8L474.6 47.8L473.7 49.2L468.3 54.8L460.6 60.8L455.2 63.9ZM390.2 122.8L387.3 122.8L386.2 121.8L386.0 120.2L388.1 115.8L392.8 110.2L395.9 107.8L403.2 103.2L407.0 98.2L410.0 95.2L426.8 81.2L443.2 72.1L445.2 71.3L446.2 71.4L446.3 72.8L444.8 75.8L438.0 86.2L425.2 102.0L417.6 106.8L410.8 109.4L401.8 117.4L390.2 122.8Z" fill="#00ffe4" fill-rule="evenodd"/><path d="M389.8 122.3L387.2 120.9L387.1 118.8L389.7 114.2L393.8 109.8L403.8 103.3L407.2 98.3L410.4 95.2L427.2 81.2L431.2 79.1L438.2 76.6L439.8 76.2L441.0 76.8L441.1 78.8L437.5 86.2L424.8 102.1L417.2 106.6L410.4 109.2L404.2 115.2L401.2 117.3L393.4 121.2L389.8 122.3Z" fill="#00e4ff" fill-rule="evenodd"/><path d="M391.8 121.3L390.2 121.4L389.0 120.8L388.1 119.8L388.0 118.2L390.2 114.2L393.8 110.2L403.8 103.8L407.3 98.8L410.7 95.2L427.2 81.7L430.2 80.0L433.8 78.9L436.2 78.8L438.0 79.8L438.5 82.2L436.9 86.2L424.8 101.8L417.2 106.3L410.2 108.9L402.2 116.3L391.8 121.3Z" fill="#00afff" fill-rule="evenodd"/><path d="M392.8 120.3L390.7 120.2L389.0 118.2L389.5 116.2L391.5 113.2L396.1 108.8L404.2 104.0L407.8 98.7L413.3 93.2L428.8 81.2L433.8 79.8L435.2 80.1L436.7 81.2L437.3 83.2L436.3 86.2L424.4 101.8L416.8 106.3L409.8 108.7L402.2 115.9L392.8 120.3Z" fill="#0079ff" fill-rule="evenodd"/><path d="M393.2 119.3L391.8 119.1L390.3 117.2L390.8 115.2L392.4 112.8L396.8 108.8L404.8 104.3L408.1 98.8L414.2 92.8L428.9 81.8L432.8 80.8L435.5 82.2L436.2 84.2L435.3 86.8L424.2 101.5L416.2 106.2L409.4 108.2L401.8 115.8L397.8 117.9L393.2 119.3Z" fill="#0044ff" fill-rule="evenodd"/><path d="M396.2 117.9L393.8 118.1L391.9 116.8L391.8 115.2L392.8 113.2L396.8 109.2L405.2 105.0L408.1 99.2L413.0 94.2L428.3 82.8L431.8 81.8L434.4 83.2L435.1 84.8L434.6 86.8L424.1 101.2L416.2 105.9L408.6 107.8L402.5 114.8L396.2 117.9Z" fill="#000eff" fill-rule="evenodd"/><path d="M413.8 106.3L409.8 106.6L407.2 105.0L407.1 102.2L408.8 99.0L415.2 92.6L426.8 84.4L430.2 82.9L432.6 83.8L433.7 85.2L433.3 87.2L424.8 100.2L420.8 103.3L413.8 106.3ZM397.2 116.8L394.8 116.8L393.2 115.3L393.4 113.8L394.7 111.8L396.9 109.8L399.8 108.2L402.8 107.4L404.8 107.9L405.4 108.8L405.4 109.8L403.7 112.8L400.9 115.2L397.2 116.8Z" fill="#2800ff" fill-rule="evenodd"/><path d="M414.2 105.8L410.8 105.9L408.2 104.2L407.7 102.2L409.0 99.2L415.6 92.8L425.2 86.2L428.8 84.5L430.8 84.9L431.9 86.2L431.7 88.2L424.8 99.8L421.1 102.8L414.2 105.8ZM399.2 115.3L396.2 115.4L395.0 114.2L395.1 112.8L398.2 109.8L401.8 109.0L403.3 110.2L403.3 111.8L401.8 113.8L399.2 115.3Z" fill="#5d00ff" fill-rule="evenodd"/><path d="M414.8 105.3L411.2 105.3L409.1 103.8L408.4 101.8L409.2 99.7L413.2 95.2L417.5 91.8L425.8 86.9L427.2 86.5L428.8 86.8L429.9 88.2L429.8 89.8L424.7 99.2L421.2 102.3L414.8 105.3ZM399.8 113.5L398.8 113.6L397.7 112.8L398.4 111.2L399.8 111.1L400.6 111.8L400.7 112.8L399.8 113.5Z" fill="#9300ff" fill-rule="evenodd"/><path d="M414.8 104.8L412.0 104.8L409.5 102.8L409.3 100.8L410.5 98.8L414.2 94.7L418.2 91.7L424.2 88.8L426.8 89.0L427.8 90.2L427.8 91.8L424.3 99.2L420.8 102.2L414.8 104.8Z" fill="#c800ff" fill-rule="evenodd"/><path d="M414.2 104.3L412.2 103.9L410.2 102.1L410.1 100.8L411.6 98.2L414.8 94.8L418.2 92.1L422.2 90.5L424.8 90.8L426.1 92.2L426.1 93.8L425.3 96.8L423.9 99.2L419.9 102.2L414.2 104.3Z" fill="#fe00ff" fill-rule="evenodd"/><path d="M415.8 103.3L413.3 103.2L411.5 101.8L411.3 100.2L412.2 98.2L414.8 95.2L418.1 92.8L421.2 91.6L423.2 91.9L425.1 94.2L424.9 96.2L423.7 98.8L420.8 101.3L415.8 103.3Z" fill="#ff00cb" fill-rule="evenodd"/><path d="M416.8 102.3L414.8 102.2L413.2 101.2L412.6 99.8L413.1 98.2L415.0 95.8L417.8 93.5L420.2 92.5L422.2 92.9L424.1 95.2L423.4 98.2L420.8 100.8L416.8 102.3Z" fill="#ff0095" fill-rule="evenodd"/><path d="M417.8 101.3L416.2 101.2L414.8 100.1L414.2 99.2L414.4 97.8L417.8 94.2L419.8 93.5L421.1 93.8L423.1 95.8L422.9 97.8L421.2 99.8L417.8 101.3Z" fill="#ff0060" fill-rule="evenodd"/><path d="M419.2 99.8L417.2 99.6L415.9 97.8L417.1 95.8L419.2 94.7L421.2 95.8L421.9 97.2L421.2 98.8L419.2 99.8Z" fill="#ff002a" fill-rule="evenodd"/></g><line x1="381.1" y1="128.3" x2="510.6" y2="17.4" stroke="#ff00ff" stroke-width="1.6"/><line x1="377.5" y1="130.5" x2="519.5" y2="6.5" stroke="#000" stroke-width="1.15" stroke-dasharray="2.5 1.1"/></g></g>
<path d="M377.5 130.5v-1.5M377.5 6.5v1.5M413.0 130.5v-1.5M413.0 6.5v1.5M448.5 130.5v-1.5M448.5 6.5v1.5M484.0 130.5v-1.5M484.0 6.5v1.5M519.5 130.5v-1.5M519.5 6.5v1.5M377.5 130.5h1.5M519.5 130.5h-1.5M377.5 99.5h1.5M519.5 99.5h-1.5M377.5 68.5h1.5M519.5 68.5h-1.5M377.5 37.5h1.5M519.5 37.5h-1.5M377.5 6.5h1.5M519.5 6.5h-1.5" stroke="#999" stroke-width="0.8" fill="none"/>
<rect x="377.5" y="6.5" width="142.0" height="124.0" fill="none" stroke="#999" stroke-width="1"/>
<g font-size="9.5" class="tk"><text x="377.5" y="143.5" text-anchor="middle">0</text><text x="413.0" y="143.5" text-anchor="middle">20</text><text x="448.5" y="143.5" text-anchor="middle">40</text><text x="484.0" y="143.5" text-anchor="middle">60</text><text x="519.5" y="143.5" text-anchor="middle">80</text><text x="373.5" y="133.7" text-anchor="end">0</text><text x="373.5" y="102.7" text-anchor="end">20</text><text x="373.5" y="71.7" text-anchor="end">40</text><text x="373.5" y="40.7" text-anchor="end">60</text><text x="373.5" y="9.7" text-anchor="end">80</text></g>
<g font-size="10.3" class="an"><text x="379.5" y="16.5">Y=0.98×X-0.54</text><text x="379.5" y="26.3">P&lt;0.05</text><text x="514.5" y="123.5" text-anchor="end">(c1)</text></g>
<text x="448.5" y="155.5" text-anchor="middle" font-size="10.5" class="al">GNSS PWV (mm)</text>
<line x1="110.5" y1="163.5" x2="110.5" y2="287.5" stroke="#efefef" stroke-width="0.6"/><line x1="39.5" y1="225.5" x2="181.5" y2="225.5" stroke="#efefef" stroke-width="0.6"/>
<g><clipPath id="cp10"><rect x="39.5" y="163.5" width="142.0" height="124.0"/></clipPath><g clip-path="url(#cp10)"><g filter="url(#bl)"><circle cx="138.2" cy="218.2" r="1.8" fill="#ff4700"/><circle cx="53.8" cy="281.3" r="1.8" fill="#ff1a00"/><circle cx="151.3" cy="177.7" r="1.8" fill="#ff5200"/><circle cx="56.3" cy="280.8" r="1.8" fill="#ff1700"/><circle cx="170.7" cy="192.2" r="1.8" fill="#ff5900"/><circle cx="114.2" cy="205.8" r="1.8" fill="#ff0700"/><circle cx="47.8" cy="263.8" r="1.8" fill="#ff5800"/><circle cx="116.8" cy="203.8" r="1.8" fill="#ff1200"/><circle cx="131.7" cy="223.2" r="1.8" fill="#ff2800"/><circle cx="163.8" cy="165.8" r="1.8" fill="#ff2200"/><circle cx="96.2" cy="252.7" r="1.8" fill="#ff4a00"/><circle cx="134.8" cy="221.7" r="1.8" fill="#ff1300"/><circle cx="165.2" cy="194.2" r="1.8" fill="#ff2a00"/><circle cx="88.8" cy="258.3" r="1.8" fill="#ff0100"/><circle cx="168.2" cy="191.8" r="1.8" fill="#ff1c00"/><circle cx="149.7" cy="209.7" r="1.8" fill="#ff2d00"/><circle cx="149.7" cy="176.7" r="1.8" fill="#ff0b00"/><circle cx="155.7" cy="202.7" r="1.8" fill="#ff4400"/><circle cx="180.8" cy="183.7" r="1.8" fill="#ff2900"/><circle cx="172.7" cy="188.3" r="1.8" fill="#ff4e00"/><circle cx="96.7" cy="252.2" r="1.8" fill="#ff4600"/><circle cx="170.7" cy="189.8" r="1.8" fill="#ff2e00"/><circle cx="143.8" cy="214.2" r="1.8" fill="#ff5d00"/><circle cx="47.3" cy="285.2" r="1.8" fill="#ff4400"/><circle cx="51.7" cy="282.8" r="1.8" fill="#ff5700"/><circle cx="62.8" cy="248.8" r="1.8" fill="#ff2500"/><circle cx="132.7" cy="222.3" r="1.8" fill="#ff3a00"/><circle cx="173.8" cy="189.2" r="1.8" fill="#ff1500"/><circle cx="147.7" cy="180.3" r="1.8" fill="#ff6b00"/><circle cx="50.7" cy="283.7" r="1.8" fill="#ff1a00"/><circle cx="138.7" cy="218.8" r="1.8" fill="#ff1c00"/><circle cx="153.3" cy="174.3" r="1.8" fill="#ff0800"/><circle cx="119.3" cy="233.2" r="1.8" fill="#ff1c00"/><circle cx="91.8" cy="256.2" r="1.8" fill="#ff5200"/><circle cx="121.7" cy="231.7" r="1.8" fill="#ff4b00"/><circle cx="66.7" cy="275.2" r="1.8" fill="#ff0e00"/><circle cx="161.8" cy="166.7" r="1.8" fill="#ff2800"/><circle cx="98.3" cy="220.8" r="1.8" fill="#ff2d00"/><circle cx="147.2" cy="210.8" r="1.8" fill="#ff4700"/><circle cx="164.7" cy="168.2" r="1.8" fill="#ff3100"/><circle cx="78.2" cy="236.3" r="1.8" fill="#ff3f00"/><circle cx="42.7" cy="266.7" r="1.8" fill="#ff5a00"/><circle cx="87.7" cy="229.3" r="1.8" fill="#ff4e00"/><circle cx="135.8" cy="188.3" r="1.8" fill="#ff2700"/><circle cx="44.8" cy="265.3" r="1.8" fill="#ff3000"/><circle cx="100.3" cy="218.2" r="1.8" fill="#ff2700"/><circle cx="101.8" cy="218.2" r="1.8" fill="#ff0c00"/><circle cx="95.7" cy="252.7" r="1.8" fill="#ff1600"/><circle cx="147.2" cy="178.8" r="1.8" fill="#ff1e00"/><circle cx="48.7" cy="262.7" r="1.8" fill="#ff2200"/><circle cx="106.8" cy="242.2" r="1.8" fill="#ff2200"/><circle cx="52.7" cy="258.3" r="1.8" fill="#ff3e00"/><circle cx="142.8" cy="183.2" r="1.8" fill="#ff6800"/><circle cx="86.2" cy="260.3" r="1.8" fill="#ff5300"/><circle cx="142.3" cy="183.2" r="1.8" fill="#ff5500"/><circle cx="160.3" cy="170.3" r="1.8" fill="#ff5100"/><circle cx="77.7" cy="266.7" r="1.8" fill="#ff4000"/><circle cx="78.2" cy="267.3" r="1.8" fill="#ff6200"/><circle cx="40.7" cy="269.3" r="1.8" fill="#ff4a00"/><circle cx="106.3" cy="212.7" r="1.8" fill="#ff3600"/><circle cx="171.2" cy="189.2" r="1.8" fill="#ff0800"/><circle cx="165.2" cy="164.2" r="1.8" fill="#ff3400"/><circle cx="78.2" cy="236.8" r="1.8" fill="#ff1700"/><circle cx="100.8" cy="247.7" r="1.8" fill="#ff0e00"/><circle cx="45.3" cy="264.7" r="1.8" fill="#ff3600"/><circle cx="171.7" cy="189.8" r="1.8" fill="#ff5400"/><circle cx="177.3" cy="184.8" r="1.8" fill="#ff2000"/><circle cx="115.8" cy="235.7" r="1.8" fill="#ff5200"/><circle cx="51.2" cy="260.8" r="1.8" fill="#ff3800"/><circle cx="53.8" cy="282.8" r="1.8" fill="#ff1000"/><circle cx="150.2" cy="178.8" r="1.8" fill="#ff6700"/><circle cx="144.8" cy="213.8" r="1.8" fill="#ff2b00"/><circle cx="71.3" cy="271.2" r="1.8" fill="#ff2000"/><circle cx="154.8" cy="205.3" r="1.8" fill="#ff5b00"/><circle cx="88.8" cy="228.7" r="1.8" fill="#ff0d00"/><circle cx="168.2" cy="165.2" r="1.8" fill="#ff4f00"/><circle cx="73.8" cy="240.7" r="1.8" fill="#ff1400"/><circle cx="65.3" cy="275.8" r="1.8" fill="#ff2a00"/><circle cx="46.8" cy="263.8" r="1.8" fill="#ff1900"/><circle cx="40.2" cy="270.2" r="1.8" fill="#ff5a00"/><path d="M41.8 287.3L39.7 287.2L39.8 272.8L43.9 267.8L62.8 249.8L80.8 234.7L98.2 221.7L114.8 206.2L132.8 191.2L159.2 172.2L172.5 163.8L181.3 163.8L181.2 178.8L173.8 186.8L158.8 199.4L150.2 207.8L136.8 219.3L108.2 240.9L84.2 261.7L64.2 275.2L41.8 287.3Z" fill="#ff5c00" fill-rule="evenodd"/><path d="M39.8 287.3L39.8 274.3L44.4 268.2L63.2 249.9L81.8 234.4L98.8 221.8L116.8 205.1L133.2 191.5L157.2 175.0L167.8 168.6L176.7 163.8L181.3 163.8L180.9 176.2L173.0 185.8L148.8 208.4L136.2 219.1L107.8 240.8L90.2 256.4L83.2 262.0L64.2 274.6L39.8 287.3Z" fill="#ff9500" fill-rule="evenodd"/><path d="M39.8 285.8L39.8 275.9L41.8 272.8L45.9 267.8L64.8 249.1L82.2 234.5L98.8 222.2L118.2 204.3L133.8 191.6L153.8 178.4L163.8 172.5L175.2 167.2L179.2 166.2L181.2 166.5L181.2 171.1L180.8 172.2L177.6 177.8L173.2 183.8L150.2 206.5L138.8 216.5L107.8 240.2L89.2 256.8L81.2 263.0L63.2 274.6L48.2 282.3L39.8 285.8Z" fill="#ffcb00" fill-rule="evenodd"/><path d="M42.8 283.3L39.8 283.0L39.8 277.9L41.1 275.2L45.7 268.8L59.7 254.2L81.2 235.6L99.9 221.8L116.8 206.1L126.2 198.0L135.2 191.0L159.8 175.8L171.8 170.9L174.8 170.6L176.6 171.8L176.9 173.8L175.7 177.2L173.1 181.8L169.6 186.2L150.0 206.2L137.8 216.9L107.3 240.2L88.8 256.9L80.8 263.0L62.8 274.4L48.8 281.2L42.8 283.3Z" fill="#feff00" fill-rule="evenodd"/><path d="M45.8 281.4L42.2 281.4L41.2 280.6L40.8 279.2L42.1 275.2L45.3 270.2L62.1 252.2L81.2 235.9L99.8 222.2L118.2 205.2L135.2 191.4L151.2 181.4L160.8 176.4L168.8 173.9L171.2 174.0L172.5 174.8L173.2 176.8L172.5 179.8L170.3 183.8L166.8 188.2L150.1 205.8L137.2 217.0L125.8 225.2L107.5 239.8L88.8 256.6L81.8 262.0L63.8 273.4L45.8 281.4Z" fill="#c8ff00" fill-rule="evenodd"/><path d="M47.2 279.8L44.2 279.8L42.7 277.8L43.7 274.2L46.5 269.8L62.0 252.8L80.8 236.6L100.2 222.3L118.8 205.1L134.8 192.0L150.2 182.6L159.2 178.1L166.2 176.2L168.2 176.4L169.8 177.4L170.4 179.2L169.6 182.2L164.6 189.8L149.7 205.8L136.8 217.0L126.0 224.8L107.1 239.8L89.2 255.9L82.8 261.0L73.2 267.4L63.8 273.0L47.2 279.8Z" fill="#93ff00" fill-rule="evenodd"/><path d="M49.2 278.3L46.2 278.3L44.5 276.2L45.2 273.2L47.6 269.2L62.4 252.8L81.2 236.5L100.1 222.8L119.2 205.0L135.2 192.0L149.8 183.5L157.8 179.7L163.8 178.1L165.8 178.3L167.3 179.2L168.0 180.8L167.6 183.2L163.0 190.8L149.3 205.8L136.2 217.1L125.6 224.8L106.8 239.7L88.8 256.0L82.2 261.1L72.8 267.4L63.2 272.8L49.2 278.3Z" fill="#5dff00" fill-rule="evenodd"/><path d="M51.2 276.8L48.2 276.9L46.2 275.2L46.7 272.2L49.2 268.2L62.7 252.8L81.2 236.7L100.2 223.0L118.8 205.7L134.8 192.6L149.2 184.2L155.8 181.2L161.8 179.7L163.8 180.0L165.2 181.0L166.0 182.8L165.6 184.8L161.4 191.8L149.4 205.2L136.2 216.8L124.8 225.0L107.2 239.0L88.8 255.8L82.2 260.8L73.2 266.8L63.6 272.2L57.8 274.8L51.2 276.8Z" fill="#28ff00" fill-rule="evenodd"/><path d="M54.2 274.8L50.8 274.9L48.8 273.2L49.0 270.8L51.0 267.2L62.7 253.2L81.1 237.2L100.8 223.0L119.8 205.3L135.2 192.8L147.8 185.8L153.8 183.1L159.2 182.0L160.9 182.2L162.3 183.2L163.1 184.8L162.7 187.2L159.2 193.2L148.9 205.2L137.2 215.5L124.8 224.6L106.8 239.0L90.8 253.7L83.2 259.7L66.8 270.0L60.2 273.1L54.2 274.8Z" fill="#00ff0e" fill-rule="evenodd"/><path d="M57.8 272.8L54.2 272.9L51.9 271.2L51.6 269.2L53.4 265.8L58.9 258.2L63.3 253.2L81.2 237.5L101.1 223.2L119.8 205.8L135.2 193.2L146.8 187.1L152.2 184.9L156.8 184.2L159.7 185.8L160.3 187.2L160.1 189.2L156.9 194.8L148.8 204.8L137.8 214.6L124.5 224.2L106.8 238.5L95.3 249.2L84.2 258.6L69.8 267.8L62.7 271.2L57.8 272.8Z" fill="#00ff44" fill-rule="evenodd"/><path d="M61.2 270.8L58.2 271.2L56.2 270.7L54.3 268.8L54.5 266.2L60.7 256.8L69.2 248.2L83.2 236.3L101.8 223.2L120.4 205.8L134.8 194.1L140.8 190.6L150.2 186.6L154.8 186.2L157.3 187.8L157.9 189.2L157.5 191.8L152.4 199.8L147.7 205.2L139.3 212.8L133.2 217.7L123.8 224.2L106.2 238.4L95.4 248.8L84.8 257.9L71.2 266.5L61.2 270.8Z" fill="#00ff79" fill-rule="evenodd"/><path d="M62.8 269.3L59.2 269.3L56.8 267.2L56.5 265.2L58.0 261.8L64.4 253.2L78.2 240.8L84.8 235.5L102.2 223.5L120.4 206.2L135.2 194.2L141.2 190.9L149.2 188.0L152.8 188.0L155.2 189.8L155.8 191.2L155.4 193.2L151.0 200.8L146.8 205.6L138.1 213.2L132.8 217.6L123.7 223.8L106.2 237.8L95.5 248.2L84.8 257.5L71.8 265.7L62.8 269.3Z" fill="#00ffaf" fill-rule="evenodd"/><path d="M65.2 267.8L62.2 268.0L60.5 267.2L58.6 265.2L58.6 262.8L60.2 259.2L62.7 255.8L71.3 247.2L83.8 236.6L102.7 223.8L121.0 206.2L135.2 194.8L141.2 191.5L147.8 189.6L150.8 189.6L153.1 191.2L153.7 192.8L153.5 194.2L150.3 200.8L146.6 205.2L139.3 211.8L132.8 217.2L123.2 223.5L106.8 236.9L95.6 247.8L85.2 256.8L73.2 264.4L65.2 267.8Z" fill="#00ffe4" fill-rule="evenodd"/><path d="M64.8 266.8L62.7 266.2L60.2 264.0L60.1 261.8L61.0 259.2L66.9 251.8L78.2 241.6L85.2 235.9L103.2 224.0L121.1 206.8L135.2 195.2L140.2 192.5L145.2 191.0L148.8 191.1L151.0 192.8L151.8 194.2L151.7 196.2L149.0 201.8L145.8 205.4L136.3 213.8L131.9 217.2L122.8 223.2L107.2 235.9L95.2 247.8L84.8 256.8L72.2 264.4L67.8 266.3L64.8 266.8Z" fill="#00e4ff" fill-rule="evenodd"/><path d="M68.2 265.3L65.8 265.6L63.6 264.8L61.7 262.8L61.6 260.2L65.2 254.2L73.9 245.8L84.8 236.6L103.8 224.3L121.7 206.8L135.2 195.7L139.8 193.3L144.2 192.1L147.2 192.4L149.6 194.2L150.3 195.8L150.3 197.2L148.3 201.8L145.3 205.2L138.0 211.8L131.9 216.8L122.2 222.9L108.2 234.3L103.2 238.8L95.3 247.2L85.2 256.1L74.2 262.8L68.2 265.3Z" fill="#00afff" fill-rule="evenodd"/><path d="M69.2 264.3L66.2 264.3L64.2 263.0L62.9 261.2L63.1 258.8L64.7 255.8L67.5 252.2L75.4 244.8L85.2 236.6L104.4 224.8L113.8 215.9L121.8 207.2L135.3 196.2L139.2 194.1L143.2 193.1L145.8 193.4L148.2 195.3L149.1 197.8L147.6 201.8L145.1 204.8L137.4 211.8L131.2 216.7L121.8 222.5L112.2 230.1L103.2 238.1L94.8 247.2L85.2 255.7L77.2 260.8L69.2 264.3Z" fill="#0079ff" fill-rule="evenodd"/><path d="M69.8 263.3L67.2 263.1L64.8 261.2L64.1 259.8L64.4 257.8L68.5 251.8L76.5 244.2L86.2 236.3L105.3 225.2L114.5 216.2L122.0 207.8L135.5 196.8L139.2 194.8L142.2 194.1L144.8 194.5L147.0 196.2L147.9 198.8L146.5 202.2L144.4 204.8L136.1 212.2L130.3 216.8L121.2 221.9L111.2 229.6L102.8 237.7L94.9 246.8L84.8 255.7L77.2 260.3L69.8 263.3Z" fill="#0044ff" fill-rule="evenodd"/><path d="M70.2 262.3L68.2 261.9L66.2 260.2L65.4 258.8L65.8 256.8L70.0 250.8L78.1 243.2L84.2 238.1L88.8 235.2L102.2 228.8L108.7 226.8L111.4 222.2L121.2 209.2L135.8 197.2L138.8 195.7L141.8 195.1L143.8 195.6L145.8 197.2L146.6 199.8L145.3 202.8L134.7 212.8L129.2 216.8L108.8 227.2L108.3 229.2L106.1 232.8L97.3 243.8L92.3 248.8L81.8 257.4L75.2 260.7L70.2 262.3Z" fill="#000eff" fill-rule="evenodd"/><path d="M123.8 218.3L120.4 218.2L118.8 216.8L118.5 215.8L119.8 212.2L123.2 208.1L132.2 200.8L137.8 196.9L141.2 196.3L144.5 198.2L145.2 199.8L145.1 201.2L142.6 204.8L131.3 214.8L127.8 216.8L123.8 218.3ZM73.2 260.8L70.8 261.1L69.2 260.6L67.2 258.8L66.8 257.2L68.6 253.2L72.9 248.2L83.8 238.9L88.2 235.9L98.8 231.7L100.8 231.6L102.2 232.5L102.8 233.8L102.3 235.2L98.3 241.8L94.0 246.8L83.2 256.1L78.2 258.9L73.2 260.8Z" fill="#2800ff" fill-rule="evenodd"/><path d="M126.2 216.4L123.2 216.4L121.1 214.2L121.5 211.8L123.6 208.8L130.2 203.2L137.2 198.2L140.2 197.6L142.8 199.2L143.6 201.2L141.8 204.2L131.5 213.8L126.2 216.4ZM73.8 259.8L71.8 259.9L70.3 259.2L68.7 257.8L68.3 256.2L69.6 252.8L73.4 248.2L83.8 239.2L88.2 236.3L95.2 234.0L97.2 234.1L98.9 235.2L99.6 236.8L98.8 239.8L96.7 243.2L93.5 246.8L83.1 255.8L78.2 258.4L73.8 259.8Z" fill="#5d00ff" fill-rule="evenodd"/><path d="M128.2 214.4L125.8 214.5L123.6 212.8L123.5 211.2L124.8 209.1L129.9 204.8L135.8 200.9L138.2 199.9L140.2 200.7L140.9 202.2L138.5 205.8L131.3 212.8L128.2 214.4ZM75.2 258.8L72.2 258.4L69.7 255.8L70.4 252.8L74.0 248.2L84.2 239.3L88.2 236.8L93.8 235.1L95.8 235.5L97.3 236.8L98.1 238.2L97.8 240.2L96.1 243.2L93.5 246.2L83.3 255.2L78.8 257.7L75.2 258.8Z" fill="#9300ff" fill-rule="evenodd"/><path d="M76.2 257.8L73.2 257.3L71.0 254.8L71.7 251.8L74.5 248.2L84.3 239.8L88.2 237.3L92.8 236.1L94.2 236.5L95.9 237.8L96.8 239.2L96.5 241.2L93.0 246.2L83.3 254.8L79.8 256.7L76.2 257.8Z" fill="#c800ff" fill-rule="evenodd"/><path d="M77.8 256.8L74.8 256.5L72.2 254.1L72.6 251.8L75.1 248.2L83.8 240.8L87.8 238.1L91.8 237.1L94.8 238.7L95.5 239.8L95.6 241.2L92.8 245.8L84.0 253.8L80.8 255.7L77.8 256.8Z" fill="#fe00ff" fill-rule="evenodd"/><path d="M78.8 255.8L75.8 255.5L73.5 253.2L73.7 251.2L75.4 248.8L86.8 239.2L90.8 238.1L93.2 239.2L94.2 240.5L94.4 241.8L92.6 245.2L83.9 253.2L78.8 255.8Z" fill="#ff00cb" fill-rule="evenodd"/><path d="M79.2 254.8L76.8 254.4L74.8 252.2L75.2 250.2L76.6 248.2L86.8 240.0L89.8 239.2L91.9 240.2L93.1 242.2L91.7 245.2L83.8 252.7L79.2 254.8Z" fill="#ff0095" fill-rule="evenodd"/><path d="M81.2 253.3L78.8 253.6L76.9 252.2L76.3 250.8L77.2 248.8L86.4 241.2L88.8 240.6L90.2 241.2L91.5 242.8L90.9 244.8L84.4 251.2L81.2 253.3Z" fill="#ff0060" fill-rule="evenodd"/><path d="M81.8 251.8L80.2 251.8L78.8 250.8L78.4 249.8L78.8 248.8L84.2 244.6L86.2 243.9L87.2 244.2L87.7 245.2L86.6 247.2L81.8 251.8Z" fill="#ff002a" fill-rule="evenodd"/></g><line x1="44.8" y1="278.2" x2="179.4" y2="169.4" stroke="#ff00ff" stroke-width="1.6"/><line x1="39.5" y1="287.5" x2="181.5" y2="163.5" stroke="#000" stroke-width="1.15" stroke-dasharray="2.5 1.1"/></g></g>
<path d="M39.5 287.5v-1.5M39.5 163.5v1.5M110.5 287.5v-1.5M110.5 163.5v1.5M181.5 287.5v-1.5M181.5 163.5v1.5M39.5 287.5h1.5M181.5 287.5h-1.5M39.5 225.5h1.5M181.5 225.5h-1.5M39.5 163.5h1.5M181.5 163.5h-1.5" stroke="#999" stroke-width="0.8" fill="none"/>
<rect x="39.5" y="163.5" width="142.0" height="124.0" fill="none" stroke="#999" stroke-width="1"/>
<g font-size="9.5" class="tk"><text x="39.5" y="300.5" text-anchor="middle">990</text><text x="110.5" y="300.5" text-anchor="middle">1010</text><text x="181.5" y="300.5" text-anchor="middle">1030</text><text x="35.5" y="290.7" text-anchor="end">990</text><text x="35.5" y="228.7" text-anchor="end">1010</text><text x="35.5" y="166.7" text-anchor="end">1030</text></g>
<g font-size="10.3" class="an"><text x="41.5" y="176.5">Y=0.92×X+75.64</text><text x="41.5" y="187.9">P&lt;0.05</text><text x="175.0" y="281.5" text-anchor="end">(a2)</text></g>
<text x="110.5" y="312.5" text-anchor="middle" font-size="10.5" class="al">Met. Pre. (hPa)</text>
<text transform="translate(11.5,225.5) rotate(-90)" text-anchor="middle" font-size="10.2" class="al">ERA5 Pre. (hPa)</text>
<line x1="271.6" y1="163.5" x2="271.6" y2="287.5" stroke="#efefef" stroke-width="0.6"/><line x1="334.7" y1="163.5" x2="334.7" y2="287.5" stroke="#efefef" stroke-width="0.6"/><line x1="208.5" y1="232.4" x2="350.5" y2="232.4" stroke="#efefef" stroke-width="0.6"/><line x1="208.5" y1="177.3" x2="350.5" y2="177.3" stroke="#efefef" stroke-width="0.6"/>
<g><clipPath id="cp11"><rect x="208.5" y="163.5" width="142.0" height="124.0"/></clipPath><g clip-path="url(#cp11)"><g filter="url(#bl)"><circle cx="302.8" cy="220.2" r="1.8" fill="#ff4700"/><circle cx="220.2" cy="281.3" r="1.8" fill="#ff1a00"/><circle cx="319.8" cy="180.7" r="1.8" fill="#ff5200"/><circle cx="222.3" cy="280.8" r="1.8" fill="#ff1700"/><circle cx="331.8" cy="194.8" r="1.8" fill="#ff5900"/><circle cx="316.2" cy="207.3" r="1.8" fill="#ff0700"/><circle cx="215.3" cy="264.7" r="1.8" fill="#ff5800"/><circle cx="318.7" cy="205.3" r="1.8" fill="#ff1200"/><circle cx="261.2" cy="225.8" r="1.8" fill="#ff2800"/><circle cx="332.2" cy="175.2" r="1.8" fill="#ff2200"/><circle cx="226.2" cy="253.8" r="1.8" fill="#ff4a00"/><circle cx="263.7" cy="224.3" r="1.8" fill="#ff1300"/><circle cx="294.8" cy="196.8" r="1.8" fill="#ff2a00"/><circle cx="220.7" cy="259.2" r="1.8" fill="#ff0100"/><circle cx="297.8" cy="194.2" r="1.8" fill="#ff1c00"/><circle cx="275.3" cy="211.8" r="1.8" fill="#ff2d00"/><circle cx="319.2" cy="180.3" r="1.8" fill="#ff0b00"/><circle cx="282.7" cy="204.7" r="1.8" fill="#ff4400"/><circle cx="339.7" cy="184.8" r="1.8" fill="#ff2900"/><circle cx="303.3" cy="190.2" r="1.8" fill="#ff4e00"/><circle cx="226.7" cy="253.3" r="1.8" fill="#ff4600"/><circle cx="333.2" cy="191.8" r="1.8" fill="#ff2e00"/><circle cx="305.8" cy="216.2" r="1.8" fill="#ff5d00"/><circle cx="213.8" cy="285.2" r="1.8" fill="#ff4400"/><circle cx="217.2" cy="282.8" r="1.8" fill="#ff5700"/><circle cx="229.7" cy="249.2" r="1.8" fill="#ff2500"/><circle cx="262.2" cy="224.7" r="1.8" fill="#ff3a00"/><circle cx="334.7" cy="191.3" r="1.8" fill="#ff1500"/><circle cx="318.2" cy="181.8" r="1.8" fill="#ff6b00"/><circle cx="215.3" cy="283.7" r="1.8" fill="#ff1a00"/><circle cx="266.2" cy="221.2" r="1.8" fill="#ff1c00"/><circle cx="321.8" cy="179.2" r="1.8" fill="#ff0800"/><circle cx="282.7" cy="234.3" r="1.8" fill="#ff1c00"/><circle cx="258.8" cy="257.2" r="1.8" fill="#ff5200"/><circle cx="248.8" cy="233.2" r="1.8" fill="#ff4b00"/><circle cx="232.8" cy="275.2" r="1.8" fill="#ff0e00"/><circle cx="331.8" cy="175.8" r="1.8" fill="#ff2800"/><circle cx="299.7" cy="222.8" r="1.8" fill="#ff2d00"/><circle cx="311.3" cy="212.3" r="1.8" fill="#ff4700"/><circle cx="341.2" cy="176.2" r="1.8" fill="#ff3100"/><circle cx="278.3" cy="236.8" r="1.8" fill="#ff3f00"/><circle cx="213.8" cy="267.8" r="1.8" fill="#ff5a00"/><circle cx="253.7" cy="230.8" r="1.8" fill="#ff4e00"/><circle cx="335.2" cy="189.8" r="1.8" fill="#ff2700"/><circle cx="214.8" cy="266.2" r="1.8" fill="#ff3000"/><circle cx="267.8" cy="220.2" r="1.8" fill="#ff2700"/><circle cx="301.7" cy="220.2" r="1.8" fill="#ff0c00"/><circle cx="225.8" cy="253.8" r="1.8" fill="#ff1600"/><circle cx="341.2" cy="180.7" r="1.8" fill="#ff1e00"/><circle cx="215.8" cy="263.8" r="1.8" fill="#ff2200"/><circle cx="236.7" cy="242.8" r="1.8" fill="#ff2200"/><circle cx="219.7" cy="259.2" r="1.8" fill="#ff3e00"/><circle cx="311.3" cy="184.3" r="1.8" fill="#ff6800"/><circle cx="218.2" cy="261.2" r="1.8" fill="#ff5300"/><circle cx="341.7" cy="183.7" r="1.8" fill="#ff5500"/><circle cx="340.2" cy="177.3" r="1.8" fill="#ff5100"/><circle cx="245.7" cy="267.8" r="1.8" fill="#ff4000"/><circle cx="213.3" cy="268.8" r="1.8" fill="#ff6200"/><circle cx="241.3" cy="270.2" r="1.8" fill="#ff4a00"/><circle cx="309.2" cy="214.2" r="1.8" fill="#ff3600"/><circle cx="302.8" cy="191.3" r="1.8" fill="#ff0800"/><circle cx="337.7" cy="173.7" r="1.8" fill="#ff3400"/><circle cx="278.8" cy="237.2" r="1.8" fill="#ff1700"/><circle cx="231.8" cy="248.3" r="1.8" fill="#ff0e00"/><circle cx="214.3" cy="265.8" r="1.8" fill="#ff3600"/><circle cx="334.7" cy="191.8" r="1.8" fill="#ff5400"/><circle cx="338.2" cy="185.7" r="1.8" fill="#ff2000"/><circle cx="243.8" cy="236.8" r="1.8" fill="#ff5200"/><circle cx="254.2" cy="261.2" r="1.8" fill="#ff3800"/><circle cx="219.2" cy="282.8" r="1.8" fill="#ff1000"/><circle cx="317.2" cy="181.3" r="1.8" fill="#ff6700"/><circle cx="306.8" cy="215.8" r="1.8" fill="#ff2b00"/><circle cx="210.2" cy="272.8" r="1.8" fill="#ff2000"/><circle cx="315.7" cy="207.3" r="1.8" fill="#ff5b00"/><circle cx="255.2" cy="230.2" r="1.8" fill="#ff0d00"/><circle cx="328.8" cy="175.2" r="1.8" fill="#ff4f00"/><circle cx="239.2" cy="241.3" r="1.8" fill="#ff1400"/><circle cx="230.8" cy="275.8" r="1.8" fill="#ff2a00"/><circle cx="250.8" cy="264.2" r="1.8" fill="#ff1900"/><circle cx="210.2" cy="271.7" r="1.8" fill="#ff5a00"/><path d="M210.2 285.8L208.8 285.9L208.8 276.0L214.8 266.8L220.8 259.8L230.5 249.8L242.8 238.8L250.2 233.2L261.8 226.2L282.2 205.8L308.8 187.7L318.1 182.2L328.2 178.4L332.2 176.3L335.2 176.3L338.6 178.8L339.5 180.8L339.1 183.2L333.2 191.2L329.9 194.8L298.8 222.2L286.8 229.9L277.2 237.3L261.5 253.8L254.2 260.2L247.8 265.3L234.2 273.2L210.2 285.8Z" fill="#ff5c00" fill-rule="evenodd"/><path d="M211.2 284.3L208.8 284.4L208.8 277.8L214.1 268.8L221.0 260.2L230.2 250.6L241.8 240.1L251.2 233.1L262.3 226.2L281.8 206.7L296.2 196.5L318.2 183.0L332.2 177.7L334.8 177.9L337.2 179.8L337.9 181.8L337.3 183.8L332.4 190.8L328.8 194.8L299.8 220.9L286.4 229.8L276.1 237.8L260.9 253.8L253.2 260.5L246.8 265.4L233.8 273.0L222.8 278.9L211.2 284.3Z" fill="#ff9500" fill-rule="evenodd"/><path d="M211.2 282.9L209.8 282.8L208.8 282.0L208.8 279.8L211.4 274.2L216.9 265.8L225.7 255.8L242.8 239.7L251.2 233.5L262.9 226.2L282.8 206.3L296.8 196.6L317.8 184.0L323.8 181.6L332.2 179.3L333.8 179.6L335.3 180.8L335.9 182.8L333.7 187.2L330.6 191.8L326.8 195.8L299.2 220.9L285.7 229.8L275.5 237.8L261.0 253.2L252.8 260.5L246.8 265.0L230.2 274.4L220.2 279.5L211.2 282.9Z" fill="#ffcb00" fill-rule="evenodd"/><path d="M216.2 280.3L212.8 280.5L211.0 278.8L211.8 275.2L215.0 269.2L219.4 263.2L227.1 254.8L242.2 240.4L251.8 233.5L262.2 227.2L281.8 207.5L296.8 197.0L312.2 187.5L320.8 183.3L328.8 181.5L330.8 181.8L332.7 183.2L333.1 185.2L331.7 188.8L328.8 192.8L325.0 196.8L299.2 220.5L285.9 229.2L275.6 237.2L261.1 252.8L254.8 258.5L249.2 263.0L243.8 266.5L225.2 276.6L216.2 280.3Z" fill="#feff00" fill-rule="evenodd"/><path d="M216.8 279.3L213.8 279.0L212.8 278.0L212.4 276.8L213.4 273.2L216.2 268.2L220.3 262.8L227.4 254.8L241.8 241.2L251.8 233.8L262.7 227.2L281.8 207.9L295.8 197.9L311.2 188.6L319.8 184.4L326.8 182.7L329.2 183.1L330.8 184.3L331.4 186.2L330.1 189.8L327.6 193.2L322.7 198.2L298.8 220.6L285.4 229.2L275.1 237.2L260.7 252.8L253.8 259.0L246.8 264.4L234.2 271.5L223.2 277.0L216.8 279.3Z" fill="#c8ff00" fill-rule="evenodd"/><path d="M217.8 278.3L215.8 278.1L214.0 276.8L213.7 275.2L214.4 272.8L218.8 265.2L226.9 255.8L234.2 248.3L243.8 239.8L251.8 234.1L263.7 226.8L283.2 206.9L297.8 197.0L316.2 186.6L320.8 184.7L324.8 183.9L327.2 184.1L329.2 185.6L329.7 187.8L328.2 191.2L320.1 200.2L298.8 220.3L285.0 229.2L274.8 237.2L260.4 252.8L253.2 259.1L246.2 264.4L233.8 271.4L223.2 276.5L217.8 278.3Z" fill="#93ff00" fill-rule="evenodd"/><path d="M218.8 277.3L216.8 277.0L215.2 275.7L214.9 274.2L215.5 271.8L219.6 264.8L227.7 255.2L243.8 240.1L252.2 234.0L263.6 227.2L283.2 207.2L297.2 197.6L315.2 187.6L319.8 185.8L323.2 185.0L325.8 185.3L327.7 186.8L328.1 189.2L325.9 193.2L311.4 208.2L297.8 220.8L285.3 228.8L274.9 236.8L260.6 252.2L254.2 258.0L246.8 263.8L234.8 270.6L224.2 275.6L218.8 277.3Z" fill="#5dff00" fill-rule="evenodd"/><path d="M220.2 276.3L217.8 275.9L216.0 273.8L216.6 270.8L218.7 266.8L222.7 261.2L229.2 253.9L242.6 241.2L252.3 234.2L263.8 227.5L281.8 208.8L294.2 199.7L308.2 191.6L317.4 187.2L322.8 186.1L324.8 186.6L326.1 187.8L326.6 190.2L324.3 194.2L310.5 208.8L296.8 221.2L285.2 228.4L274.8 236.5L260.3 252.2L254.2 257.8L247.3 263.2L241.2 266.8L228.8 273.3L220.2 276.3Z" fill="#28ff00" fill-rule="evenodd"/><path d="M222.2 274.8L219.8 274.6L217.8 272.6L217.8 270.2L219.7 266.2L229.4 254.2L242.5 241.8L252.1 234.8L263.8 227.9L282.2 208.8L294.8 199.8L308.2 192.2L315.8 188.8L320.8 187.8L322.2 188.1L323.8 189.2L324.4 190.2L324.3 191.8L322.4 195.2L309.5 209.2L297.2 220.6L284.8 228.4L274.2 236.4L260.2 251.9L254.8 257.0L248.2 262.2L243.8 265.0L230.2 272.0L222.2 274.8Z" fill="#00ff0e" fill-rule="evenodd"/><path d="M224.2 273.3L221.8 273.1L219.6 271.2L219.5 268.8L221.2 265.2L230.3 253.8L242.8 241.9L252.8 234.7L264.1 228.2L272.8 219.7L282.2 209.2L294.8 200.2L303.8 195.2L313.8 190.6L318.8 189.7L321.4 191.2L321.8 193.2L320.0 196.8L308.4 209.8L297.1 220.2L284.3 228.2L273.8 236.2L260.4 251.2L254.8 256.6L248.2 261.8L243.2 264.9L231.2 271.0L224.2 273.3Z" fill="#00ff44" fill-rule="evenodd"/><path d="M226.8 271.8L223.6 271.8L221.3 269.8L221.1 267.8L222.3 264.8L230.4 254.2L242.8 242.3L252.8 235.1L264.2 228.7L270.2 222.9L282.7 209.2L294.2 201.0L302.2 196.4L311.8 192.3L316.2 191.6L318.8 193.0L319.2 195.2L317.7 198.2L307.4 210.2L296.6 220.2L283.8 228.1L273.6 235.8L260.9 250.2L255.8 255.3L248.2 261.4L244.2 264.0L232.8 269.8L226.8 271.8Z" fill="#00ff79" fill-rule="evenodd"/><path d="M229.2 270.3L225.8 270.6L223.2 268.9L222.6 267.2L223.5 264.2L230.9 254.2L242.7 242.8L253.2 235.2L265.1 228.8L273.8 219.9L282.1 210.2L290.8 203.6L299.8 198.2L308.8 194.3L313.2 193.3L314.8 193.6L316.2 194.8L316.9 196.2L316.5 197.8L313.4 202.8L308.3 208.8L298.5 218.2L293.8 221.8L283.2 227.9L273.8 234.9L258.6 252.2L248.2 261.0L240.8 265.4L229.2 270.3Z" fill="#00ffaf" fill-rule="evenodd"/><path d="M230.2 269.3L227.2 269.3L224.9 267.8L224.1 265.8L224.9 263.2L231.3 254.2L242.8 243.1L253.8 235.3L265.4 229.2L274.0 220.2L282.1 210.8L290.8 204.0L299.2 198.9L306.8 195.8L311.2 195.0L312.8 195.5L314.2 196.8L314.6 198.2L314.2 199.8L311.1 204.8L306.8 209.8L298.0 218.2L293.2 221.8L282.8 227.7L273.0 234.8L258.7 251.8L248.1 260.8L240.8 265.0L230.2 269.3Z" fill="#00ffe4" fill-rule="evenodd"/><path d="M230.2 268.3L227.9 267.8L225.8 265.8L225.6 264.2L226.5 261.8L232.7 253.2L243.2 243.0L253.8 235.7L266.2 229.6L282.0 211.2L290.2 204.7L298.2 199.9L304.8 197.2L309.2 196.5L312.1 198.2L312.4 200.8L310.7 204.2L301.3 214.8L294.2 220.7L282.8 227.1L272.2 234.3L264.0 245.2L254.8 255.1L247.8 260.7L243.8 263.2L234.5 267.2L230.2 268.3Z" fill="#00e4ff" fill-rule="evenodd"/><path d="M233.8 266.8L230.8 267.1L228.9 266.2L227.2 264.2L227.4 261.8L229.6 257.8L232.7 253.8L242.8 243.8L254.8 235.5L267.2 230.4L281.6 212.2L285.2 208.8L289.8 205.5L297.8 200.7L303.6 198.2L307.8 197.9L310.2 199.5L310.9 201.8L308.9 205.8L297.6 217.8L292.2 221.6L282.8 226.5L271.8 233.1L270.2 234.7L264.7 243.8L255.8 253.8L245.2 261.9L239.8 264.7L233.8 266.8Z" fill="#00afff" fill-rule="evenodd"/><path d="M276.2 228.8L274.2 229.0L273.2 228.2L272.6 227.2L273.1 225.2L279.6 215.2L284.8 209.6L292.2 204.3L300.8 199.9L305.8 199.0L308.7 200.8L309.4 202.8L307.8 206.2L297.1 217.8L290.2 222.3L276.2 228.8ZM234.8 265.8L232.2 266.0L230.5 265.2L228.6 263.2L228.6 261.2L232.0 255.2L239.5 247.2L246.2 241.4L256.2 235.2L263.8 233.0L265.8 233.2L267.3 234.2L267.9 235.2L267.9 236.8L266.2 240.8L263.4 244.8L256.5 252.8L245.2 261.6L239.8 264.2L234.8 265.8Z" fill="#0079ff" fill-rule="evenodd"/><path d="M280.2 225.8L277.2 225.8L276.1 224.8L276.0 223.2L279.8 215.8L285.1 209.8L292.2 204.8L300.1 200.8L304.2 200.1L307.2 201.8L307.9 203.8L306.7 206.8L297.2 217.2L290.2 221.9L280.2 225.8ZM235.8 264.8L233.2 264.8L231.8 264.1L230.1 262.2L229.9 260.2L232.9 254.8L239.9 247.2L246.8 241.4L256.2 235.7L262.2 234.1L264.2 234.6L265.7 235.8L266.5 237.8L265.2 241.2L260.5 247.8L256.2 252.6L245.2 261.2L240.2 263.6L235.8 264.8Z" fill="#0044ff" fill-rule="evenodd"/><path d="M284.2 223.8L281.8 224.1L280.3 223.8L278.8 222.5L278.3 221.2L279.8 216.8L284.2 211.0L289.8 206.7L298.8 201.9L302.8 201.2L305.6 202.8L306.5 204.8L305.5 207.2L298.2 215.8L292.2 220.4L284.2 223.8ZM237.8 263.8L233.8 263.5L231.6 261.8L231.0 259.8L233.1 255.2L238.3 249.2L245.8 242.5L255.2 236.7L260.8 235.1L262.8 235.6L264.3 236.8L265.2 238.8L264.3 241.8L256.7 251.8L246.1 260.2L242.2 262.3L237.8 263.8Z" fill="#000eff" fill-rule="evenodd"/><path d="M284.8 222.8L281.6 222.2L280.1 220.8L279.7 219.2L281.4 215.2L285.1 210.8L290.8 206.6L298.2 202.8L301.8 202.4L304.2 204.0L305.0 205.8L304.3 207.8L297.7 215.8L291.8 220.2L284.8 222.8ZM239.2 262.8L235.1 262.8L233.1 261.2L232.2 259.8L233.1 256.2L237.4 250.8L245.8 242.8L254.8 237.4L259.8 236.1L261.2 236.4L263.1 237.8L264.0 239.8L263.3 242.2L256.7 251.2L246.2 259.7L239.2 262.8Z" fill="#2800ff" fill-rule="evenodd"/><path d="M285.8 221.8L282.8 221.0L281.5 219.8L281.0 218.2L282.3 214.8L285.2 211.2L290.5 207.2L297.2 204.1L300.2 203.6L302.8 205.2L303.3 206.8L302.6 208.8L297.1 215.8L291.8 219.7L285.8 221.8ZM238.8 262.3L236.8 262.1L235.1 261.2L233.6 259.8L233.3 257.8L235.3 253.8L240.7 247.8L247.1 242.2L255.2 237.8L259.2 237.1L262.0 238.8L262.8 240.2L262.3 242.8L259.1 247.8L255.8 251.8L245.8 259.6L242.2 261.4L238.8 262.3Z" fill="#5d00ff" fill-rule="evenodd"/><path d="M286.8 220.8L284.2 220.1L282.3 217.8L282.8 215.2L285.3 211.8L289.8 208.3L294.8 205.8L298.2 205.1L300.6 206.2L301.4 207.8L301.2 209.2L297.4 214.8L292.2 218.9L286.8 220.8ZM240.8 261.3L237.2 261.1L234.4 258.2L235.0 255.2L238.0 251.2L244.8 244.4L250.2 240.8L256.8 238.1L258.8 238.2L260.3 239.2L261.5 240.8L261.4 242.8L259.3 246.8L256.3 250.8L252.5 254.2L246.2 258.8L240.8 261.3Z" fill="#9300ff" fill-rule="evenodd"/><path d="M289.8 219.3L286.8 219.6L284.2 218.0L283.6 216.2L284.5 213.8L287.2 210.8L291.2 208.1L295.2 206.7L297.8 207.1L299.5 209.2L298.2 212.8L294.2 216.9L289.8 219.3ZM241.8 260.4L238.3 260.2L235.6 257.8L235.8 255.2L238.1 251.8L244.3 245.2L249.2 241.8L255.8 239.3L257.2 239.3L258.8 240.1L260.2 241.8L260.1 243.2L258.7 246.8L256.2 250.2L249.2 256.3L244.8 259.2L241.8 260.4Z" fill="#c800ff" fill-rule="evenodd"/><path d="M290.2 218.3L287.8 218.4L285.8 217.0L285.1 215.8L285.5 213.8L287.6 211.2L290.6 209.2L293.8 208.2L295.8 208.5L297.5 210.2L297.1 212.8L294.0 216.2L290.2 218.3ZM243.2 259.3L239.8 259.5L236.9 257.2L236.7 255.2L238.4 252.2L243.8 246.2L248.4 242.8L253.8 240.5L255.8 240.5L257.2 241.2L258.6 242.8L258.8 244.2L258.0 246.8L256.1 249.8L250.6 254.8L243.2 259.3Z" fill="#fe00ff" fill-rule="evenodd"/><path d="M291.2 216.8L289.8 217.1L288.2 216.5L287.0 215.2L287.0 213.8L289.8 210.8L293.2 210.0L295.0 211.2L295.4 212.8L293.8 215.2L291.2 216.8ZM243.8 258.3L240.8 258.5L238.2 256.5L237.9 254.8L239.5 251.8L243.9 246.8L248.2 243.3L252.8 241.6L255.8 242.2L257.2 243.6L257.6 244.8L257.3 246.8L255.8 249.4L251.2 253.8L243.8 258.3Z" fill="#ff00cb" fill-rule="evenodd"/><path d="M243.8 257.3L241.2 257.0L239.3 254.8L239.9 252.8L241.9 249.8L245.7 245.8L248.8 243.6L252.2 242.5L254.6 243.2L256.4 245.8L256.0 247.8L254.8 249.8L249.8 254.2L243.8 257.3Z" fill="#ff0095" fill-rule="evenodd"/><path d="M244.8 255.8L242.8 255.4L241.3 253.8L241.6 251.8L243.2 249.2L245.9 246.2L248.8 244.3L251.2 243.6L253.4 244.2L254.8 245.5L255.2 246.8L254.0 249.8L249.4 253.8L244.8 255.8Z" fill="#ff0060" fill-rule="evenodd"/><path d="M246.8 253.8L245.2 253.6L243.7 252.2L243.6 250.8L244.3 249.2L248.2 245.5L250.2 244.9L251.8 245.2L253.7 247.2L253.3 249.2L250.2 252.2L246.8 253.8Z" fill="#ff002a" fill-rule="evenodd"/><path d="M249.8 250.8L248.2 251.2L246.6 249.8L247.4 247.8L249.2 246.8L250.8 247.4L251.6 248.8L251.2 249.8L249.8 250.8Z" fill="#ff0008" fill-rule="evenodd"/></g><line x1="214.5" y1="276.0" x2="334.5" y2="182.4" stroke="#ff00ff" stroke-width="1.6"/><line x1="208.5" y1="287.5" x2="350.5" y2="163.5" stroke="#000" stroke-width="1.15" stroke-dasharray="2.5 1.1"/></g></g>
<path d="M208.5 287.5v-1.5M208.5 163.5v1.5M271.6 287.5v-1.5M271.6 163.5v1.5M334.7 287.5v-1.5M334.7 163.5v1.5M208.5 287.5h1.5M350.5 287.5h-1.5M208.5 232.4h1.5M350.5 232.4h-1.5M208.5 177.3h1.5M350.5 177.3h-1.5" stroke="#999" stroke-width="0.8" fill="none"/>
<rect x="208.5" y="163.5" width="142.0" height="124.0" fill="none" stroke="#999" stroke-width="1"/>
<g font-size="9.5" class="tk"><text x="208.5" y="300.5" text-anchor="middle">990</text><text x="271.6" y="300.5" text-anchor="middle">1010</text><text x="334.7" y="300.5" text-anchor="middle">1030</text><text x="204.5" y="290.7" text-anchor="end">990</text><text x="204.5" y="235.6" text-anchor="end">1010</text><text x="204.5" y="180.5" text-anchor="end">1030</text></g>
<g font-size="10.3" class="an"><text x="210.5" y="176.5">Y=0.91×X+89.64</text><text x="210.5" y="187.9">P&lt;0.05</text><text x="344.0" y="281.5" text-anchor="end">(b2)</text></g>
<text x="279.5" y="312.5" text-anchor="middle" font-size="10.5" class="al">Met. Pre. (hPa)</text>
<line x1="448.5" y1="163.5" x2="448.5" y2="287.5" stroke="#efefef" stroke-width="0.6"/><line x1="377.5" y1="225.5" x2="519.5" y2="225.5" stroke="#efefef" stroke-width="0.6"/>
<g><clipPath id="cp12"><rect x="377.5" y="163.5" width="142.0" height="124.0"/></clipPath><g clip-path="url(#cp12)"><g filter="url(#bl)"><circle cx="483.3" cy="214.7" r="1.8" fill="#ff0700"/><circle cx="394.3" cy="281.7" r="1.8" fill="#ff5800"/><circle cx="475.2" cy="177.3" r="1.8" fill="#ff1200"/><circle cx="392.3" cy="281.7" r="1.8" fill="#ff2800"/><circle cx="510.7" cy="191.3" r="1.8" fill="#ff2200"/><circle cx="497.3" cy="202.2" r="1.8" fill="#ff4a00"/><circle cx="427.3" cy="263.8" r="1.8" fill="#ff1300"/><circle cx="497.8" cy="200.7" r="1.8" fill="#ff2a00"/><circle cx="476.7" cy="220.8" r="1.8" fill="#ff0100"/><circle cx="490.2" cy="165.8" r="1.8" fill="#ff1c00"/><circle cx="438.8" cy="252.7" r="1.8" fill="#ff2d00"/><circle cx="477.2" cy="219.3" r="1.8" fill="#ff0b00"/><circle cx="464.3" cy="193.2" r="1.8" fill="#ff4400"/><circle cx="433.7" cy="258.3" r="1.8" fill="#ff2900"/><circle cx="507.2" cy="190.7" r="1.8" fill="#ff4e00"/><circle cx="494.3" cy="205.8" r="1.8" fill="#ff4600"/><circle cx="476.2" cy="176.2" r="1.8" fill="#ff2e00"/><circle cx="455.3" cy="200.3" r="1.8" fill="#ff5d00"/><circle cx="472.3" cy="182.2" r="1.8" fill="#ff4400"/><circle cx="469.2" cy="187.3" r="1.8" fill="#ff5700"/><circle cx="394.8" cy="252.2" r="1.8" fill="#ff2500"/><circle cx="508.2" cy="188.8" r="1.8" fill="#ff3a00"/><circle cx="444.3" cy="210.8" r="1.8" fill="#ff1500"/><circle cx="385.3" cy="285.7" r="1.8" fill="#ff6b00"/><circle cx="391.3" cy="283.2" r="1.8" fill="#ff1a00"/><circle cx="444.8" cy="247.7" r="1.8" fill="#ff1c00"/><circle cx="435.2" cy="219.7" r="1.8" fill="#ff0800"/><circle cx="511.3" cy="188.3" r="1.8" fill="#ff1c00"/><circle cx="475.2" cy="178.8" r="1.8" fill="#ff5200"/><circle cx="389.2" cy="284.3" r="1.8" fill="#ff4b00"/><circle cx="438.8" cy="215.8" r="1.8" fill="#ff0e00"/><circle cx="479.8" cy="174.3" r="1.8" fill="#ff2800"/><circle cx="419.8" cy="232.2" r="1.8" fill="#ff2d00"/><circle cx="389.2" cy="256.8" r="1.8" fill="#ff4700"/><circle cx="420.8" cy="230.8" r="1.8" fill="#ff3100"/><circle cx="402.8" cy="276.7" r="1.8" fill="#ff3f00"/><circle cx="489.7" cy="166.7" r="1.8" fill="#ff5a00"/><circle cx="437.3" cy="217.8" r="1.8" fill="#ff4e00"/><circle cx="490.7" cy="206.8" r="1.8" fill="#ff2700"/><circle cx="486.7" cy="168.8" r="1.8" fill="#ff3000"/><circle cx="458.7" cy="234.8" r="1.8" fill="#ff2700"/><circle cx="419.8" cy="267.3" r="1.8" fill="#ff0c00"/><circle cx="424.7" cy="227.8" r="1.8" fill="#ff1600"/><circle cx="512.8" cy="186.8" r="1.8" fill="#ff1e00"/><circle cx="381.7" cy="265.8" r="1.8" fill="#ff2200"/><circle cx="438.8" cy="214.7" r="1.8" fill="#ff2200"/><circle cx="482.3" cy="214.7" r="1.8" fill="#ff3e00"/><circle cx="394.3" cy="252.7" r="1.8" fill="#ff6800"/><circle cx="517.8" cy="177.3" r="1.8" fill="#ff5300"/><circle cx="427.8" cy="262.7" r="1.8" fill="#ff5500"/><circle cx="450.2" cy="241.3" r="1.8" fill="#ff5100"/><circle cx="388.7" cy="258.3" r="1.8" fill="#ff4000"/><circle cx="474.3" cy="181.3" r="1.8" fill="#ff6200"/><circle cx="385.8" cy="260.8" r="1.8" fill="#ff4a00"/><circle cx="473.8" cy="181.3" r="1.8" fill="#ff3600"/><circle cx="481.8" cy="170.7" r="1.8" fill="#ff0800"/><circle cx="380.2" cy="267.8" r="1.8" fill="#ff3400"/><circle cx="417.8" cy="268.2" r="1.8" fill="#ff1700"/><circle cx="377.8" cy="270.2" r="1.8" fill="#ff0e00"/><circle cx="446.3" cy="208.8" r="1.8" fill="#ff3600"/><circle cx="469.2" cy="188.3" r="1.8" fill="#ff5400"/><circle cx="490.2" cy="164.2" r="1.8" fill="#ff2000"/><circle cx="459.2" cy="235.2" r="1.8" fill="#ff5200"/><circle cx="398.7" cy="247.2" r="1.8" fill="#ff3800"/><circle cx="381.7" cy="265.3" r="1.8" fill="#ff1000"/><circle cx="509.7" cy="188.8" r="1.8" fill="#ff6700"/><circle cx="471.3" cy="183.3" r="1.8" fill="#ff2b00"/><circle cx="414.7" cy="234.8" r="1.8" fill="#ff2000"/><circle cx="430.8" cy="260.8" r="1.8" fill="#ff5b00"/><circle cx="387.7" cy="283.7" r="1.8" fill="#ff0d00"/><circle cx="476.7" cy="177.7" r="1.8" fill="#ff4f00"/><circle cx="444.8" cy="210.3" r="1.8" fill="#ff1400"/><circle cx="411.8" cy="272.3" r="1.8" fill="#ff2a00"/><circle cx="496.8" cy="202.2" r="1.8" fill="#ff1900"/><circle cx="425.2" cy="227.2" r="1.8" fill="#ff5a00"/><circle cx="494.8" cy="165.2" r="1.8" fill="#ff2a00"/><circle cx="452.2" cy="239.8" r="1.8" fill="#ff6800"/><circle cx="400.8" cy="277.3" r="1.8" fill="#ff4300"/><circle cx="425.7" cy="263.8" r="1.8" fill="#ff4a00"/><circle cx="378.2" cy="271.2" r="1.8" fill="#ff3800"/><circle cx="454.3" cy="237.8" r="1.8" fill="#ff2100"/><circle cx="470.7" cy="185.8" r="1.8" fill="#ff2a00"/><circle cx="436.3" cy="255.3" r="1.8" fill="#ff6500"/><circle cx="513.8" cy="182.8" r="1.8" fill="#ff1600"/><circle cx="426.2" cy="264.2" r="1.8" fill="#ff6a00"/><path d="M381.8 286.3L379.8 286.7L377.8 286.4L377.8 273.5L391.7 255.8L400.2 247.2L431.2 223.5L451.3 204.2L467.2 191.2L474.2 182.2L482.7 173.2L498.3 163.8L519.3 163.8L519.2 171.2L516.6 177.2L513.2 182.3L500.0 198.2L477.2 219.2L450.8 240.6L435.1 256.2L429.8 260.7L416.8 268.7L398.8 278.2L381.8 286.3Z" fill="#ff5c00" fill-rule="evenodd"/><path d="M382.2 284.8L379.8 285.2L377.8 284.6L377.8 275.6L389.1 259.8L399.8 248.4L431.8 223.8L452.8 203.6L468.5 190.8L475.8 182.0L484.2 174.0L496.8 166.6L503.3 163.8L517.8 163.8L518.6 166.8L516.2 173.2L514.3 177.2L510.5 182.8L497.6 199.2L476.2 219.4L450.9 239.8L434.2 256.4L429.2 260.5L418.8 267.0L403.8 274.9L382.2 284.8Z" fill="#ff9500" fill-rule="evenodd"/><path d="M381.2 283.3L379.5 283.2L377.8 282.0L377.8 278.4L382.7 269.8L388.3 261.8L395.0 253.8L400.2 248.5L432.4 223.8L453.8 203.3L468.7 191.2L476.2 182.7L483.8 175.9L495.8 169.1L502.8 165.9L509.8 164.6L512.2 165.0L513.8 166.0L514.6 167.8L514.6 169.8L512.8 175.8L500.8 193.8L494.1 201.8L474.8 220.2L450.2 239.8L434.2 255.9L429.2 260.0L418.8 266.5L403.2 274.5L394.2 278.6L381.2 283.3Z" fill="#ffcb00" fill-rule="evenodd"/><path d="M387.8 279.8L383.8 280.2L381.7 279.2L380.8 277.2L381.7 273.8L384.6 268.2L390.1 260.2L400.2 249.0L432.4 224.2L452.8 204.7L468.8 191.8L476.2 183.7L483.2 177.6L488.2 174.6L501.8 168.3L506.8 167.5L508.8 167.8L510.2 168.8L511.4 171.8L510.3 176.2L499.3 194.2L492.7 202.2L476.2 218.4L450.2 239.2L433.9 255.8L429.2 259.6L418.2 266.4L404.2 273.5L394.8 277.6L387.8 279.8Z" fill="#feff00" fill-rule="evenodd"/><path d="M389.2 278.3L386.2 278.2L383.8 276.6L383.1 274.8L383.8 271.8L390.7 260.2L400.8 249.0L432.4 224.8L453.2 204.7L468.8 192.2L476.8 184.1L482.8 179.1L488.2 175.9L499.8 171.2L504.2 170.5L507.1 171.8L508.0 174.2L507.1 177.8L497.6 195.2L491.1 203.2L475.8 218.4L449.7 239.2L433.8 255.4L428.8 259.6L418.2 266.1L404.2 273.0L395.2 276.7L389.2 278.3Z" fill="#c8ff00" fill-rule="evenodd"/><path d="M391.8 276.8L388.2 276.8L385.9 275.2L385.0 273.2L385.4 270.8L391.3 260.2L400.9 249.2L432.3 225.2L454.2 204.1L469.3 192.2L476.8 184.9L482.2 180.5L487.8 177.3L496.2 174.4L500.8 173.7L503.4 174.8L504.3 176.8L503.6 180.2L499.4 190.2L496.7 195.2L490.0 203.8L475.8 218.0L449.2 239.2L433.6 255.2L429.2 258.9L413.8 268.0L401.2 273.8L391.8 276.8Z" fill="#93ff00" fill-rule="evenodd"/><path d="M394.8 275.3L391.2 275.7L388.8 274.9L386.8 272.8L386.7 270.2L388.5 265.8L391.4 260.8L400.8 249.8L432.7 225.2L454.8 204.1L469.2 192.7L480.8 182.5L485.8 179.4L491.2 177.4L496.8 176.6L499.9 177.8L500.9 179.8L500.7 182.8L498.5 189.8L495.8 195.2L489.5 203.8L476.2 217.2L449.4 238.8L433.7 254.8L429.2 258.6L415.2 267.0L402.8 272.7L394.8 275.3Z" fill="#5dff00" fill-rule="evenodd"/><path d="M395.8 274.3L392.8 274.5L390.2 273.7L388.2 271.6L388.2 268.8L389.7 264.8L392.6 259.8L401.2 249.8L415.6 238.2L432.2 226.1L455.0 204.2L469.2 193.1L478.8 184.7L484.2 181.2L489.2 179.2L494.2 178.8L497.3 180.2L498.4 182.2L498.3 186.2L496.9 191.2L494.8 195.7L489.2 203.4L475.8 217.3L449.8 238.0L433.3 254.8L429.2 258.3L414.0 267.2L402.8 272.3L395.8 274.3Z" fill="#28ff00" fill-rule="evenodd"/><path d="M398.2 272.8L395.2 273.0L392.8 272.2L390.3 269.8L390.0 267.2L391.1 263.8L393.4 259.8L397.5 254.2L401.7 249.8L415.2 239.0L433.2 225.7L455.5 204.2L478.2 186.1L483.8 182.8L488.2 181.3L492.2 181.5L494.8 183.1L495.9 185.2L496.0 188.8L495.1 192.2L493.3 196.2L487.4 204.8L475.2 217.2L448.8 238.3L433.2 254.3L428.8 258.2L414.8 266.5L403.8 271.2L398.2 272.8Z" fill="#00ff0e" fill-rule="evenodd"/><path d="M400.8 271.3L397.2 271.5L394.9 270.8L392.3 268.2L391.8 265.8L392.6 262.8L394.2 259.8L398.2 254.2L401.8 250.2L415.8 239.1L433.4 226.2L456.1 204.2L476.8 188.3L482.2 185.0L486.2 183.6L489.8 183.7L492.3 185.2L493.7 187.8L493.8 190.8L492.9 194.2L490.7 198.8L486.2 205.2L475.2 216.8L448.2 238.1L432.8 254.2L428.8 257.8L415.8 265.5L405.8 269.7L400.8 271.3Z" fill="#00ff44" fill-rule="evenodd"/><path d="M400.2 270.3L397.8 269.9L395.2 268.3L393.8 266.6L393.4 264.2L394.3 261.2L396.6 257.2L403.0 249.8L415.8 239.5L433.8 226.6L456.2 204.7L475.8 190.0L480.8 187.1L485.2 185.7L488.2 185.9L490.7 187.8L491.8 189.8L491.8 192.8L488.7 200.8L484.6 206.2L473.8 217.5L448.0 237.8L432.8 253.8L428.2 257.7L414.2 265.7L404.8 269.4L400.2 270.3Z" fill="#00ff79" fill-rule="evenodd"/><path d="M403.8 268.8L400.8 269.0L398.3 268.2L395.5 265.8L394.8 263.8L395.3 261.2L397.4 257.2L403.2 250.1L416.2 239.6L434.3 226.8L455.1 206.2L464.2 198.9L475.8 190.9L480.2 188.6L485.2 187.7L487.2 188.2L488.8 189.5L489.8 191.2L490.0 193.8L489.0 197.8L487.5 201.2L483.9 206.2L474.0 216.8L447.8 237.3L428.8 256.9L415.8 264.6L403.8 268.8Z" fill="#00ffaf" fill-rule="evenodd"/><path d="M404.2 267.8L401.8 267.8L399.8 267.1L397.1 264.8L396.3 262.8L396.8 260.2L398.4 256.8L403.8 250.2L416.2 240.1L434.8 227.0L455.1 206.8L463.8 199.8L474.8 192.4L478.8 190.3L483.2 189.5L485.2 190.1L486.8 191.2L488.0 193.2L488.2 195.8L486.3 201.8L481.5 208.2L473.4 216.8L447.2 237.1L432.2 253.2L428.2 256.8L415.2 264.4L409.8 266.5L404.2 267.8Z" fill="#00ffe4" fill-rule="evenodd"/><path d="M404.2 266.8L402.2 266.5L400.2 265.2L398.2 263.2L397.7 261.2L398.3 258.8L399.7 255.8L404.8 249.8L416.8 240.1L435.3 227.2L455.2 207.2L463.8 200.3L474.2 193.5L478.2 191.7L482.2 191.3L485.4 193.2L486.3 194.8L486.7 197.2L484.9 202.8L479.1 210.2L472.3 217.2L446.8 236.8L432.2 252.8L427.8 256.8L414.8 264.1L408.8 266.1L404.2 266.8Z" fill="#00e4ff" fill-rule="evenodd"/><path d="M406.2 265.8L403.8 265.4L401.8 264.3L399.7 262.2L399.1 260.2L399.5 257.8L400.8 255.2L405.2 249.9L417.2 240.2L435.8 227.6L455.2 207.8L463.2 201.2L472.8 195.2L477.2 193.1L480.8 192.8L483.8 194.8L484.9 196.2L485.3 198.2L484.0 202.8L478.9 209.8L472.2 216.8L446.2 236.4L432.2 252.2L427.8 256.2L415.7 263.2L410.8 265.0L406.2 265.8Z" fill="#00afff" fill-rule="evenodd"/><path d="M408.8 264.8L405.9 264.8L403.8 263.9L401.2 261.7L400.3 259.8L400.4 257.8L401.5 255.2L405.5 250.2L417.8 240.3L436.2 228.1L455.3 208.2L463.2 201.7L470.8 197.1L476.2 194.6L479.8 194.5L482.8 196.6L483.8 199.8L482.6 203.8L477.8 210.2L472.2 216.2L445.8 236.0L432.1 251.8L427.9 255.8L416.8 262.3L408.8 264.8Z" fill="#0079ff" fill-rule="evenodd"/><path d="M410.8 263.8L407.8 264.0L405.8 263.5L403.2 261.7L401.6 259.8L401.4 257.8L402.2 255.2L406.2 250.2L417.8 240.7L437.2 228.3L455.4 208.8L463.2 202.3L469.8 198.4L475.2 196.0L478.2 195.9L481.2 198.0L482.3 200.8L481.5 203.8L477.5 209.8L472.1 215.8L466.2 220.5L445.2 235.4L432.1 251.2L427.8 255.4L416.8 261.8L410.8 263.8Z" fill="#0044ff" fill-rule="evenodd"/><path d="M412.2 262.9L409.2 263.2L406.9 262.8L404.1 260.8L402.8 259.0L402.5 257.2L403.0 255.2L406.9 250.2L418.8 240.5L437.8 229.2L455.1 209.8L462.8 203.2L468.8 199.6L474.2 197.5L477.2 197.7L479.8 199.6L480.7 202.2L479.6 205.2L476.0 210.8L471.4 215.8L465.1 220.8L444.8 234.4L432.4 250.2L427.8 255.0L417.2 261.0L412.2 262.9Z" fill="#000eff" fill-rule="evenodd"/><path d="M411.8 262.3L409.2 262.3L407.2 261.6L404.8 259.5L403.7 257.8L403.8 255.8L404.6 253.8L408.6 249.2L420.8 239.7L430.2 234.2L439.8 230.3L445.7 221.8L453.5 212.2L458.2 207.4L462.8 203.8L468.2 200.6L472.8 199.2L475.3 199.2L478.0 201.2L478.8 203.2L477.8 206.8L474.9 211.2L470.7 215.8L461.2 222.7L442.9 233.2L437.2 243.2L431.4 250.8L427.4 254.8L416.8 260.7L411.8 262.3Z" fill="#2800ff" fill-rule="evenodd"/><path d="M450.2 227.3L448.2 227.1L446.8 225.8L446.7 223.2L452.3 214.8L458.1 208.2L463.8 203.8L469.2 201.1L473.0 200.8L476.0 202.8L476.9 204.8L476.2 207.8L473.7 211.8L470.5 215.2L461.8 221.6L454.2 225.8L450.2 227.3ZM413.2 261.3L410.8 261.5L408.8 261.0L405.1 257.8L405.0 254.8L407.4 251.2L417.8 242.2L427.8 236.3L434.2 234.0L436.1 234.2L437.8 235.4L438.7 237.2L437.8 240.8L429.5 252.2L423.7 256.8L413.2 261.3Z" fill="#5d00ff" fill-rule="evenodd"/><path d="M453.8 223.8L452.2 223.5L450.8 222.3L450.7 219.8L453.7 214.2L458.9 208.2L464.2 204.3L468.8 202.4L471.8 202.4L474.3 204.2L475.2 206.2L474.8 208.2L473.2 211.2L470.1 214.8L461.8 220.7L457.2 222.8L453.8 223.8ZM414.2 260.4L410.0 260.2L406.4 257.2L405.9 255.8L406.2 254.2L408.6 250.8L417.2 243.1L423.2 239.4L431.2 236.0L433.2 236.0L435.3 237.2L436.6 239.2L436.1 241.8L429.4 251.8L423.8 256.2L414.2 260.4Z" fill="#9300ff" fill-rule="evenodd"/><path d="M458.8 220.8L455.8 220.5L453.8 218.2L454.2 215.8L456.7 211.8L460.5 207.8L464.8 204.9L468.8 203.7L471.2 204.6L472.9 206.2L473.4 207.8L472.9 209.8L471.4 212.2L465.8 217.4L458.8 220.8ZM415.2 259.3L411.2 259.4L407.8 256.5L407.4 254.2L409.5 250.8L417.2 243.6L422.2 240.5L429.8 237.7L431.8 237.9L433.2 238.9L434.5 240.8L434.3 242.8L431.7 247.8L429.2 251.2L423.8 255.7L415.2 259.3Z" fill="#c800ff" fill-rule="evenodd"/><path d="M461.8 218.3L459.2 218.4L457.0 216.8L456.5 215.2L457.4 212.8L460.1 209.2L463.2 206.8L466.2 205.6L468.8 205.8L471.2 208.2L470.8 211.2L467.2 215.2L461.8 218.3ZM415.2 258.3L411.8 258.0L409.0 255.2L409.0 253.2L411.4 249.8L417.8 243.9L422.2 241.2L428.2 239.6L429.8 239.8L431.2 240.9L432.3 242.2L432.1 244.8L430.6 248.2L428.0 251.8L422.8 255.6L415.2 258.3Z" fill="#fe00ff" fill-rule="evenodd"/><path d="M464.2 215.4L462.8 215.7L461.3 215.2L459.8 213.8L459.8 212.7L460.7 210.8L462.8 208.8L464.8 207.9L466.2 207.9L468.2 209.4L468.7 211.2L467.2 213.4L464.2 215.4ZM417.8 256.8L414.2 257.0L411.6 255.2L410.7 253.2L411.7 250.8L415.9 246.2L420.6 242.8L425.2 241.2L428.2 241.8L429.9 243.2L430.6 244.8L430.2 247.2L428.8 249.8L424.8 253.8L417.8 256.8Z" fill="#ff00cb" fill-rule="evenodd"/><path d="M419.8 255.3L416.8 255.6L414.7 254.8L412.9 252.8L413.4 250.2L416.4 246.8L420.2 243.8L423.8 242.5L426.2 242.9L428.9 245.8L428.2 249.2L425.1 252.8L419.8 255.3Z" fill="#ff0095" fill-rule="evenodd"/><path d="M420.8 253.9L418.8 254.0L416.9 253.2L415.2 251.5L415.4 249.8L419.5 245.2L421.8 244.2L424.2 244.1L426.9 246.2L427.2 248.8L425.0 251.8L420.8 253.9Z" fill="#ff0060" fill-rule="evenodd"/><path d="M421.8 251.8L419.5 251.2L418.2 249.2L419.8 246.8L421.8 246.0L423.7 246.8L425.0 248.8L423.9 250.8L421.8 251.8Z" fill="#ff002a" fill-rule="evenodd"/></g><line x1="384.6" y1="277.6" x2="516.0" y2="167.8" stroke="#ff00ff" stroke-width="1.6"/><line x1="377.5" y1="287.5" x2="519.5" y2="163.5" stroke="#000" stroke-width="1.15" stroke-dasharray="2.5 1.1"/></g></g>
<path d="M377.5 287.5v-1.5M377.5 163.5v1.5M448.5 287.5v-1.5M448.5 163.5v1.5M519.5 287.5v-1.5M519.5 163.5v1.5M377.5 287.5h1.5M519.5 287.5h-1.5M377.5 225.5h1.5M519.5 225.5h-1.5M377.5 163.5h1.5M519.5 163.5h-1.5" stroke="#999" stroke-width="0.8" fill="none"/>
<rect x="377.5" y="163.5" width="142.0" height="124.0" fill="none" stroke="#999" stroke-width="1"/>
<g font-size="9.5" class="tk"><text x="377.5" y="300.5" text-anchor="middle">995</text><text x="448.5" y="300.5" text-anchor="middle">1015</text><text x="519.5" y="300.5" text-anchor="middle">1035</text><text x="373.5" y="290.7" text-anchor="end">995</text><text x="373.5" y="228.7" text-anchor="end">1015</text><text x="373.5" y="166.7" text-anchor="end">1035</text></g>
<g font-size="10.3" class="an"><text x="379.5" y="176.5">Y=0.96×X+36.50</text><text x="379.5" y="187.9">P&lt;0.05</text><text x="513.0" y="281.5" text-anchor="end">(c2)</text></g>
<text x="448.5" y="312.5" text-anchor="middle" font-size="10.5" class="al">Met. Pre. (hPa)</text>
<line x1="43.2" y1="320.5" x2="43.2" y2="460.5" stroke="#efefef" stroke-width="0.6"/><line x1="80.6" y1="320.5" x2="80.6" y2="460.5" stroke="#efefef" stroke-width="0.6"/><line x1="118.0" y1="320.5" x2="118.0" y2="460.5" stroke="#efefef" stroke-width="0.6"/><line x1="155.3" y1="320.5" x2="155.3" y2="460.5" stroke="#efefef" stroke-width="0.6"/><line x1="39.5" y1="456.8" x2="181.5" y2="456.8" stroke="#efefef" stroke-width="0.6"/><line x1="39.5" y1="438.4" x2="181.5" y2="438.4" stroke="#efefef" stroke-width="0.6"/><line x1="39.5" y1="420.0" x2="181.5" y2="420.0" stroke="#efefef" stroke-width="0.6"/><line x1="39.5" y1="401.6" x2="181.5" y2="401.6" stroke="#efefef" stroke-width="0.6"/><line x1="39.5" y1="383.1" x2="181.5" y2="383.1" stroke="#efefef" stroke-width="0.6"/><line x1="39.5" y1="364.7" x2="181.5" y2="364.7" stroke="#efefef" stroke-width="0.6"/><line x1="39.5" y1="346.3" x2="181.5" y2="346.3" stroke="#efefef" stroke-width="0.6"/><line x1="39.5" y1="327.9" x2="181.5" y2="327.9" stroke="#efefef" stroke-width="0.6"/>
<g><clipPath id="cp20"><rect x="39.5" y="320.5" width="142.0" height="140.0"/></clipPath><g clip-path="url(#cp20)"><g filter="url(#bl)"><circle cx="69.8" cy="373.8" r="1.8" fill="#ff0800"/><circle cx="75.2" cy="447.8" r="1.8" fill="#ff1c00"/><circle cx="119.8" cy="336.2" r="1.8" fill="#ff5200"/><circle cx="75.8" cy="447.2" r="1.8" fill="#ff4b00"/><circle cx="85.2" cy="354.2" r="1.8" fill="#ff0e00"/><circle cx="176.7" cy="364.8" r="1.8" fill="#ff2800"/><circle cx="117.2" cy="414.8" r="1.8" fill="#ff2d00"/><circle cx="179.2" cy="363.2" r="1.8" fill="#ff4700"/><circle cx="67.8" cy="377.8" r="1.8" fill="#ff3100"/><circle cx="145.2" cy="322.2" r="1.8" fill="#ff3f00"/><circle cx="125.8" cy="406.8" r="1.8" fill="#ff5a00"/><circle cx="66.2" cy="376.8" r="1.8" fill="#ff4e00"/><circle cx="84.2" cy="355.8" r="1.8" fill="#ff2700"/><circle cx="122.8" cy="410.2" r="1.8" fill="#ff3000"/><circle cx="89.2" cy="353.2" r="1.8" fill="#ff2700"/><circle cx="73.2" cy="367.8" r="1.8" fill="#ff0c00"/><circle cx="119.8" cy="335.2" r="1.8" fill="#ff1600"/><circle cx="179.2" cy="362.8" r="1.8" fill="#ff1e00"/><circle cx="105.2" cy="343.2" r="1.8" fill="#ff2200"/><circle cx="93.2" cy="349.8" r="1.8" fill="#ff2200"/><circle cx="126.8" cy="406.2" r="1.8" fill="#ff3e00"/><circle cx="91.8" cy="351.2" r="1.8" fill="#ff6800"/><circle cx="173.8" cy="370.8" r="1.8" fill="#ff5300"/><circle cx="61.2" cy="454.2" r="1.8" fill="#ff5500"/><circle cx="71.8" cy="450.2" r="1.8" fill="#ff5100"/><circle cx="58.8" cy="402.2" r="1.8" fill="#ff4000"/><circle cx="166.8" cy="376.8" r="1.8" fill="#ff6200"/><circle cx="87.8" cy="351.2" r="1.8" fill="#ff4a00"/><circle cx="114.8" cy="338.2" r="1.8" fill="#ff3600"/><circle cx="66.8" cy="452.2" r="1.8" fill="#ff0800"/><circle cx="69.2" cy="374.2" r="1.8" fill="#ff3400"/><circle cx="121.8" cy="333.2" r="1.8" fill="#ff1700"/><circle cx="61.8" cy="385.8" r="1.8" fill="#ff0e00"/><circle cx="52.8" cy="409.8" r="1.8" fill="#ff3600"/><circle cx="154.2" cy="384.2" r="1.8" fill="#ff5400"/><circle cx="89.8" cy="438.2" r="1.8" fill="#ff2000"/><circle cx="137.8" cy="323.8" r="1.8" fill="#ff5200"/><circle cx="67.8" cy="375.8" r="1.8" fill="#ff3800"/><circle cx="173.8" cy="368.2" r="1.8" fill="#ff1000"/><circle cx="134.2" cy="326.2" r="1.8" fill="#ff6700"/><circle cx="149.2" cy="387.8" r="1.8" fill="#ff2b00"/><circle cx="108.8" cy="422.8" r="1.8" fill="#ff2000"/><circle cx="64.2" cy="382.2" r="1.8" fill="#ff5b00"/><circle cx="90.2" cy="349.8" r="1.8" fill="#ff0d00"/><circle cx="113.2" cy="418.8" r="1.8" fill="#ff4f00"/><circle cx="67.2" cy="373.8" r="1.8" fill="#ff1400"/><circle cx="68.8" cy="373.8" r="1.8" fill="#ff2a00"/><circle cx="125.2" cy="406.8" r="1.8" fill="#ff1900"/><circle cx="117.8" cy="336.8" r="1.8" fill="#ff5a00"/><circle cx="41.8" cy="412.8" r="1.8" fill="#ff2a00"/><circle cx="140.2" cy="394.8" r="1.8" fill="#ff6800"/><circle cx="54.2" cy="410.2" r="1.8" fill="#ff4300"/><circle cx="108.8" cy="341.8" r="1.8" fill="#ff4a00"/><circle cx="48.2" cy="411.2" r="1.8" fill="#ff3800"/><circle cx="108.2" cy="341.8" r="1.8" fill="#ff2100"/><circle cx="129.8" cy="328.8" r="1.8" fill="#ff2a00"/><circle cx="109.2" cy="423.2" r="1.8" fill="#ff6500"/><circle cx="105.8" cy="425.2" r="1.8" fill="#ff1600"/><circle cx="100.8" cy="429.8" r="1.8" fill="#ff6a00"/><circle cx="69.8" cy="369.8" r="1.8" fill="#ff5100"/><circle cx="91.8" cy="350.8" r="1.8" fill="#ff2700"/><circle cx="179.8" cy="320.8" r="1.8" fill="#ff4500"/><circle cx="60.8" cy="388.8" r="1.8" fill="#ff2900"/><circle cx="59.2" cy="401.2" r="1.8" fill="#ff2900"/><circle cx="115.8" cy="417.2" r="1.8" fill="#ff3600"/><circle cx="181.2" cy="351.2" r="1.8" fill="#ff0200"/><circle cx="101.2" cy="344.8" r="1.8" fill="#ff3500"/><circle cx="61.8" cy="387.8" r="1.8" fill="#ff6800"/><circle cx="121.8" cy="411.2" r="1.8" fill="#ff1f00"/><circle cx="70.2" cy="450.8" r="1.8" fill="#ff5000"/><circle cx="114.8" cy="337.2" r="1.8" fill="#ff2f00"/><circle cx="70.8" cy="370.8" r="1.8" fill="#ff1600"/><circle cx="96.2" cy="433.8" r="1.8" fill="#ff6100"/><circle cx="75.2" cy="364.8" r="1.8" fill="#ff0200"/><circle cx="65.8" cy="381.8" r="1.8" fill="#ff2100"/><circle cx="141.8" cy="322.2" r="1.8" fill="#ff6b00"/><circle cx="59.8" cy="393.2" r="1.8" fill="#ff1c00"/><circle cx="88.2" cy="438.8" r="1.8" fill="#ff5b00"/><circle cx="118.2" cy="414.2" r="1.8" fill="#ff4100"/><circle cx="39.8" cy="432.2" r="1.8" fill="#ff5600"/><circle cx="144.8" cy="390.8" r="1.8" fill="#ff4400"/><circle cx="93.2" cy="348.2" r="1.8" fill="#ff2700"/><circle cx="123.8" cy="408.8" r="1.8" fill="#ff5100"/><circle cx="102.8" cy="344.2" r="1.8" fill="#ff0300"/><circle cx="115.8" cy="416.2" r="1.8" fill="#ff3000"/><circle cx="134.8" cy="326.2" r="1.8" fill="#ff2800"/><circle cx="118.8" cy="413.8" r="1.8" fill="#ff3300"/><circle cx="113.2" cy="338.8" r="1.8" fill="#ff0e00"/><circle cx="79.2" cy="360.2" r="1.8" fill="#ff1800"/><circle cx="83.8" cy="354.8" r="1.8" fill="#ff3c00"/><circle cx="137.8" cy="396.2" r="1.8" fill="#ff2a00"/><circle cx="111.8" cy="340.2" r="1.8" fill="#ff5500"/><circle cx="77.2" cy="362.2" r="1.8" fill="#ff4100"/><circle cx="150.8" cy="320.8" r="1.8" fill="#ff5c00"/><circle cx="73.8" cy="364.8" r="1.8" fill="#ff4e00"/><circle cx="126.2" cy="331.8" r="1.8" fill="#ff4000"/><circle cx="150.2" cy="386.8" r="1.8" fill="#ff1f00"/><circle cx="78.8" cy="360.8" r="1.8" fill="#ff5400"/><circle cx="59.2" cy="402.2" r="1.8" fill="#ff1b00"/><circle cx="145.8" cy="389.8" r="1.8" fill="#ff0800"/><circle cx="71.8" cy="365.8" r="1.8" fill="#ff6700"/><circle cx="105.2" cy="426.8" r="1.8" fill="#ff3a00"/><circle cx="62.8" cy="386.8" r="1.8" fill="#ff5300"/><circle cx="46.8" cy="411.8" r="1.8" fill="#ff3900"/><circle cx="181.2" cy="356.8" r="1.8" fill="#ff4200"/><circle cx="66.8" cy="377.2" r="1.8" fill="#ff0400"/><circle cx="108.2" cy="342.2" r="1.8" fill="#ff1400"/><circle cx="52.2" cy="459.2" r="1.8" fill="#ff4800"/><circle cx="97.2" cy="347.8" r="1.8" fill="#ff3d00"/><circle cx="92.2" cy="349.2" r="1.8" fill="#ff1100"/><path d="M49.8 460.3L39.7 460.2L39.8 439.6L40.6 437.8L40.7 435.8L40.6 433.2L39.8 431.5L39.8 414.0L42.6 412.8L55.2 410.2L57.2 409.2L58.6 407.8L59.6 404.2L59.8 394.3L60.8 391.2L72.8 369.2L79.2 360.8L87.8 354.2L124.8 333.6L134.8 327.3L143.2 323.2L151.7 320.8L179.0 320.8L181.2 322.6L181.2 348.8L180.8 349.8L180.2 358.2L178.8 361.8L168.2 374.3L161.3 379.8L148.2 387.4L137.8 395.4L131.2 400.8L105.2 425.2L82.8 442.8L69.0 450.8L56.8 454.9L49.8 460.3Z" fill="#ff3d00" fill-rule="evenodd"/><path d="M45.2 460.3L39.8 460.2L39.8 443.4L42.1 440.2L43.4 434.8L42.8 431.2L39.8 424.8L40.2 419.2L41.5 417.2L43.7 415.8L56.8 412.3L60.6 409.8L61.8 406.8L61.5 396.8L63.0 391.2L78.2 369.7L83.2 363.8L92.8 356.6L110.8 345.5L126.6 336.8L137.2 330.2L144.8 326.4L154.2 323.4L158.1 320.8L172.7 320.8L176.8 322.9L180.2 325.8L181.2 327.0L181.2 344.5L178.9 347.8L177.7 357.2L174.6 362.2L165.2 373.2L160.2 377.3L145.8 386.8L133.9 396.2L105.2 422.6L81.8 441.3L70.8 448.0L64.2 451.0L55.2 454.1L50.2 458.0L45.2 460.3Z" fill="#ff7700" fill-rule="evenodd"/><path d="M44.2 458.8L41.8 458.6L39.8 457.0L39.8 446.8L43.3 441.8L45.3 435.2L45.2 431.8L43.0 424.8L43.5 421.8L45.1 419.2L47.2 417.6L58.2 413.6L62.2 410.7L63.7 407.2L63.1 396.8L64.7 391.2L67.2 387.6L75.4 378.8L85.8 366.2L92.8 360.5L112.2 347.5L128.3 338.8L140.2 331.5L146.2 328.6L156.2 325.3L160.8 322.6L165.2 321.7L168.8 322.0L172.2 323.1L178.4 327.2L181.2 331.9L181.2 339.6L179.9 342.8L177.4 346.2L176.1 355.8L172.3 361.8L163.8 371.9L158.8 376.1L144.9 385.8L131.2 396.8L104.8 421.1L80.2 441.0L67.2 448.5L54.8 453.1L49.2 457.1L44.2 458.8Z" fill="#ffac00" fill-rule="evenodd"/><path d="M46.8 456.8L44.2 457.2L42.2 456.5L40.8 454.5L40.2 451.8L41.1 447.8L44.4 442.8L46.7 436.2L47.0 432.2L46.0 425.8L46.6 422.8L50.2 418.8L59.9 414.2L64.0 410.8L65.4 407.2L64.5 396.8L65.9 391.8L68.9 387.8L78.7 378.2L87.8 368.2L94.2 362.7L114.2 348.4L146.8 330.6L157.8 327.0L161.8 324.6L165.2 323.9L168.2 324.1L171.8 325.1L177.1 328.8L179.3 332.2L179.9 336.8L178.9 340.8L176.1 344.8L174.8 354.8L170.2 361.8L162.2 371.2L129.7 396.8L106.2 418.4L80.2 439.9L71.2 445.4L62.8 449.4L53.8 452.4L50.2 455.1L46.8 456.8Z" fill="#ffe200" fill-rule="evenodd"/><path d="M47.2 455.3L44.8 455.5L43.4 454.8L42.2 452.8L42.0 450.8L42.8 447.8L45.4 443.8L48.1 436.2L48.6 424.2L51.8 420.2L61.8 414.2L65.9 410.2L66.9 406.8L65.9 399.8L66.1 394.8L67.6 391.2L71.0 387.2L81.3 378.2L93.4 366.2L111.8 351.9L118.8 347.4L131.7 341.2L146.2 332.9L152.8 330.4L159.8 328.4L163.2 326.4L166.2 325.9L169.8 326.4L172.8 327.8L175.8 330.0L177.7 333.2L178.1 336.8L177.2 340.2L174.9 343.8L173.6 353.8L168.3 361.8L160.8 370.7L128.3 396.8L106.8 416.6L79.2 439.7L70.2 445.0L61.8 448.8L53.2 451.6L49.8 454.1L47.2 455.3Z" fill="#e7ff00" fill-rule="evenodd"/><path d="M46.8 453.8L44.6 452.8L44.0 449.8L44.8 447.5L46.4 445.2L49.2 436.6L50.4 424.8L53.6 420.8L63.8 413.8L67.6 409.8L68.4 406.8L67.1 399.8L67.3 395.2L68.8 391.6L72.0 387.8L84.0 378.2L93.2 369.2L106.5 357.8L113.8 351.9L119.2 348.4L133.2 342.2L147.8 334.2L154.8 331.6L161.2 330.1L164.2 328.4L166.8 328.0L169.2 328.3L171.8 329.3L174.3 331.2L175.9 333.8L176.3 336.8L175.5 339.8L173.8 342.2L173.2 349.2L172.3 353.2L166.7 361.8L159.2 370.4L127.1 396.8L107.8 414.6L78.2 439.6L72.8 443.0L65.2 446.5L52.2 450.9L49.2 453.0L46.8 453.8Z" fill="#b1ff00" fill-rule="evenodd"/><path d="M48.8 451.4L47.1 451.2L46.5 449.2L47.8 446.8L50.5 436.2L51.8 425.2L55.3 420.8L65.6 413.2L68.9 409.8L69.8 406.2L68.3 399.8L68.6 395.2L70.0 391.8L73.1 388.2L86.1 378.8L107.7 358.2L114.2 352.8L119.2 349.5L133.8 343.6L146.2 336.7L154.2 333.5L163.2 331.8L166.8 330.3L169.8 330.8L172.8 332.8L174.1 334.8L174.3 336.8L173.9 338.8L172.4 341.2L172.2 347.8L171.2 352.2L165.5 361.2L157.8 370.2L137.8 387.6L126.0 396.8L109.2 412.2L90.2 428.1L78.2 438.9L72.8 442.4L64.2 446.1L56.8 448.8L51.2 449.9L48.8 451.4Z" fill="#7cff00" fill-rule="evenodd"/><path d="M54.8 448.3L51.2 448.2L50.1 447.2L49.6 445.8L49.9 442.8L51.9 435.2L52.7 426.2L53.9 423.8L56.1 421.2L67.4 412.8L70.5 409.2L71.3 405.8L69.7 400.2L69.6 396.8L70.9 392.8L73.6 389.2L77.3 386.2L88.2 379.2L108.0 359.2L114.2 353.9L119.2 350.5L124.2 348.1L135.2 344.4L146.8 338.2L154.2 335.3L159.2 334.1L165.2 334.1L167.8 333.4L170.9 334.8L171.7 336.8L170.7 339.2L171.0 346.2L169.9 351.8L164.0 361.2L156.3 370.2L138.2 386.4L124.3 397.2L108.2 412.1L89.8 427.5L78.2 438.3L70.2 442.9L60.8 446.7L54.8 448.3Z" fill="#46ff00" fill-rule="evenodd"/><path d="M57.2 446.8L53.2 447.0L52.1 446.2L51.4 444.8L53.8 426.4L55.0 423.8L57.7 420.8L69.2 412.2L71.9 409.2L72.8 405.8L71.0 399.8L71.0 396.8L72.4 392.8L74.8 389.8L78.2 387.0L86.2 382.7L90.2 379.8L98.2 371.9L108.8 359.8L114.8 354.5L119.8 351.1L125.2 348.6L136.2 345.4L147.8 339.5L155.2 336.7L162.8 336.0L165.7 336.8L167.8 338.2L169.1 340.8L169.6 344.2L169.4 348.2L168.4 351.8L164.9 357.8L160.6 363.8L149.9 375.2L136.8 387.0L123.9 396.8L108.2 411.1L89.8 426.5L77.5 438.2L70.2 442.3L57.2 446.8Z" fill="#11ff00" fill-rule="evenodd"/><path d="M59.8 444.8L55.8 445.1L54.8 444.6L54.0 443.2L54.9 426.8L56.3 423.8L58.9 420.8L71.7 411.8L74.0 409.2L74.9 407.2L75.2 404.8L73.2 399.2L73.1 396.8L74.2 393.7L76.5 390.8L80.0 388.2L88.4 384.2L92.4 381.2L99.2 374.2L109.3 360.8L115.3 355.2L120.2 351.8L126.2 349.4L137.8 346.8L148.8 341.5L154.8 339.5L161.2 338.9L163.8 339.6L165.8 341.1L167.1 343.8L167.3 347.2L166.7 350.2L164.6 354.8L157.8 364.8L146.1 377.8L135.8 386.9L123.7 395.8L107.8 410.2L90.2 424.7L77.8 437.3L70.8 441.4L59.8 444.8Z" fill="#00ff25" fill-rule="evenodd"/><path d="M61.2 442.8L57.8 442.2L56.4 439.8L55.7 429.8L56.1 426.8L57.2 424.2L59.7 421.2L63.2 418.3L73.8 412.2L76.1 410.2L77.9 407.2L78.6 404.2L78.4 401.8L76.6 397.2L77.5 394.2L80.8 391.2L90.8 386.6L96.2 382.0L100.8 376.9L106.9 365.8L111.8 359.8L118.8 353.9L125.2 350.8L139.2 348.7L149.8 344.4L154.2 343.2L159.2 343.2L162.5 344.8L163.5 346.8L163.5 349.2L160.7 356.8L150.5 371.2L143.9 378.8L134.8 386.7L122.2 395.5L107.8 408.5L89.8 423.3L81.1 433.2L77.2 436.8L70.8 440.5L61.2 442.8Z" fill="#00ff5b" fill-rule="evenodd"/><path d="M66.8 440.8L61.2 440.8L59.8 440.1L58.7 438.8L57.5 435.2L56.8 430.8L57.0 427.8L58.1 424.8L60.3 421.8L64.8 418.1L68.8 415.9L76.7 412.8L79.2 410.8L82.9 403.8L85.0 395.8L94.2 388.7L101.2 381.5L103.5 377.8L107.4 367.2L112.7 360.2L119.8 354.4L126.2 351.6L130.8 351.0L141.3 350.8L152.8 347.8L155.8 348.1L157.8 349.2L158.8 352.2L157.0 357.8L148.9 371.2L143.2 378.2L133.8 386.6L120.8 395.2L107.2 407.2L89.2 421.7L86.2 424.9L81.0 432.2L77.2 435.9L72.2 439.1L66.8 440.8Z" fill="#00ff90" fill-rule="evenodd"/><path d="M67.2 439.8L62.2 439.4L59.6 436.8L58.4 433.8L57.8 430.2L58.1 427.2L59.0 424.8L62.2 420.9L67.2 417.5L71.8 415.8L79.6 414.2L82.7 412.2L92.2 397.6L104.2 383.5L105.6 380.2L108.1 368.8L110.2 364.8L113.5 360.8L120.8 354.8L124.2 353.2L127.8 352.3L132.8 352.1L148.8 353.6L152.0 354.8L152.8 356.2L152.7 358.2L149.8 366.8L146.7 372.8L142.2 378.2L132.8 386.4L119.2 394.7L105.2 406.8L88.4 419.8L85.9 422.8L80.9 431.2L76.8 435.5L72.2 438.3L67.2 439.8Z" fill="#00ffc6" fill-rule="evenodd"/><path d="M94.2 410.8L93.7 410.8L93.3 409.2L95.3 404.2L107.6 386.8L108.2 383.8L108.1 374.8L108.8 370.2L111.0 365.2L114.7 360.8L121.8 355.2L125.2 353.8L128.8 353.1L133.2 353.3L138.2 354.4L144.2 356.5L147.2 358.5L148.8 361.8L147.9 367.8L145.2 373.2L140.7 378.8L132.2 385.9L118.2 393.4L102.8 405.7L94.2 410.8ZM68.2 438.8L65.2 438.9L63.2 438.3L61.3 436.8L60.0 434.8L59.0 431.8L58.8 428.8L59.3 426.2L60.6 423.8L65.2 419.4L70.8 416.9L76.8 416.5L82.6 418.2L83.9 419.8L83.9 422.2L82.5 426.8L80.3 430.8L74.7 436.2L71.8 437.8L68.2 438.8Z" fill="#00fffb" fill-rule="evenodd"/><path d="M118.8 390.9L115.8 391.0L113.9 389.2L112.0 385.2L109.9 378.2L109.4 374.2L109.9 370.2L111.1 366.8L113.1 363.8L120.2 357.0L123.8 355.1L127.2 354.2L131.2 354.1L135.2 354.9L139.8 356.6L143.5 358.8L146.2 361.8L146.9 365.2L145.8 370.2L142.8 375.2L137.0 381.2L131.8 385.5L126.2 388.4L118.8 390.9ZM69.8 437.8L64.9 437.8L61.8 435.4L59.7 430.8L59.7 428.2L60.3 425.8L63.4 421.8L68.2 418.6L73.2 417.5L77.8 418.4L80.2 419.8L81.8 421.8L82.0 424.2L81.1 427.8L79.1 431.2L76.2 434.2L73.2 436.4L69.8 437.8Z" fill="#00cdff" fill-rule="evenodd"/><path d="M123.2 388.4L120.2 388.7L118.2 388.3L115.8 386.2L113.8 383.3L111.8 379.2L110.7 375.2L110.6 371.8L111.4 368.2L113.0 365.2L115.4 362.2L119.2 358.7L122.8 356.4L125.8 355.3L129.2 354.9L135.8 356.2L141.2 359.1L144.3 362.2L145.4 366.2L144.5 370.8L141.1 376.2L134.8 382.4L129.2 386.1L123.2 388.4ZM68.2 437.3L64.8 436.6L61.8 433.8L60.5 429.8L61.1 425.8L63.8 422.2L68.2 419.3L72.8 418.4L76.8 419.3L79.2 421.1L80.6 423.2L80.7 425.8L79.8 428.8L77.9 431.8L74.6 434.8L71.2 436.6L68.2 437.3Z" fill="#0098ff" fill-rule="evenodd"/><path d="M122.8 387.3L120.2 387.0L118.2 385.8L115.8 383.2L113.5 379.8L111.6 373.8L112.4 368.2L115.9 362.8L119.7 359.2L122.8 357.2L125.8 356.1L128.8 355.7L134.8 356.9L139.9 359.8L143.2 363.2L144.2 366.8L143.4 371.2L140.2 376.2L133.3 382.8L128.2 385.8L122.8 387.3ZM69.8 436.3L66.2 436.2L63.3 434.2L61.5 430.8L61.4 427.2L63.2 423.8L66.8 420.8L70.2 419.4L74.2 419.5L76.9 420.8L78.9 422.8L79.7 424.8L79.5 427.2L78.1 430.2L76.0 432.8L72.8 435.2L69.8 436.3Z" fill="#0062ff" fill-rule="evenodd"/><path d="M125.8 385.8L123.2 386.1L121.0 385.8L116.8 382.3L113.2 376.2L112.6 373.2L112.7 370.2L113.7 367.2L115.2 364.8L120.8 359.4L125.8 356.9L131.2 356.7L136.2 358.7L140.8 362.1L142.8 365.2L143.0 369.2L141.2 373.8L136.9 378.8L131.2 383.4L125.8 385.8ZM70.8 435.3L67.2 435.6L64.6 434.2L62.5 431.2L62.1 427.8L63.4 424.8L66.2 421.9L69.2 420.4L72.8 420.1L75.2 421.0L77.2 422.4L78.4 424.2L78.7 426.8L77.9 429.2L76.1 431.8L73.2 434.2L70.8 435.3Z" fill="#002dff" fill-rule="evenodd"/><path d="M126.2 384.9L121.8 384.7L117.8 381.6L114.1 375.8L113.5 372.8L113.6 370.2L115.8 365.2L120.8 360.2L125.2 357.8L130.2 357.4L134.8 358.9L139.4 362.2L141.8 365.8L142.1 369.2L140.7 373.2L137.1 377.8L131.2 382.7L126.2 384.9ZM69.8 434.8L67.2 434.7L64.8 433.1L63.1 430.2L63.0 427.2L64.3 424.8L67.0 422.2L69.8 421.1L72.8 421.0L75.2 422.1L77.0 423.8L77.7 425.8L77.6 427.8L76.4 430.2L74.6 432.2L72.2 434.0L69.8 434.8Z" fill="#0900ff" fill-rule="evenodd"/><path d="M127.2 383.8L123.2 384.0L119.2 381.6L115.4 376.2L114.4 371.2L116.0 366.2L120.2 361.6L124.8 358.8L129.2 358.1L133.8 359.4L138.2 362.5L140.7 365.8L141.2 369.2L140.1 372.8L137.2 376.8L131.8 381.6L127.2 383.8ZM70.8 433.8L68.2 434.0L65.8 432.8L64.2 430.8L63.7 428.2L64.5 425.8L66.8 423.3L69.2 422.0L71.8 421.8L73.8 422.3L75.7 423.8L76.6 425.2L76.8 427.2L76.2 429.2L74.8 431.2L70.8 433.8Z" fill="#3e00ff" fill-rule="evenodd"/><path d="M127.8 382.8L123.8 383.1L119.9 380.8L116.2 375.8L115.3 371.2L116.7 366.8L120.2 362.6L124.2 359.8L128.8 358.9L132.8 359.9L137.1 362.8L139.6 365.8L140.3 369.2L139.3 372.8L136.7 376.2L131.8 380.8L127.8 382.8ZM71.2 432.8L69.2 433.2L67.2 432.7L65.6 431.2L64.7 428.8L65.0 426.8L66.4 424.8L68.4 423.2L70.8 422.6L74.2 423.8L75.4 425.2L75.8 426.8L74.8 429.9L71.2 432.8Z" fill="#7400ff" fill-rule="evenodd"/><path d="M126.2 382.3L122.8 381.6L119.4 378.8L116.7 374.2L116.3 370.2L118.0 366.2L122.2 361.9L125.8 360.1L129.8 359.9L133.5 361.2L137.3 364.2L139.1 367.2L139.3 370.2L137.5 374.2L133.8 378.2L129.8 381.2L126.2 382.3ZM71.2 431.8L69.2 432.2L67.8 431.7L66.3 430.2L65.8 428.8L66.8 425.8L68.6 424.2L70.2 423.7L73.2 424.5L74.7 426.8L74.1 429.2L71.2 431.8Z" fill="#aa00ff" fill-rule="evenodd"/><path d="M127.2 381.3L124.2 381.1L120.7 378.8L117.9 374.8L117.1 370.8L118.3 367.2L121.8 363.4L125.2 361.2L128.8 360.6L132.2 361.6L136.0 364.2L137.9 366.8L138.4 369.8L137.5 372.8L134.8 376.2L130.8 379.7L127.2 381.3ZM70.2 430.8L68.1 430.2L67.2 428.2L68.2 426.1L70.8 425.1L72.8 426.0L73.3 427.8L72.2 429.6L70.2 430.8Z" fill="#df00ff" fill-rule="evenodd"/><path d="M127.2 380.3L124.2 380.0L121.2 377.9L118.8 374.2L118.1 370.8L119.2 367.5L122.2 364.1L125.2 362.1L128.8 361.6L131.8 362.4L135.1 364.8L137.0 367.2L137.5 369.8L136.6 372.8L134.3 375.8L130.8 378.8L127.2 380.3Z" fill="#ff00e9" fill-rule="evenodd"/><path d="M127.2 379.3L124.8 379.0L122.2 377.2L119.8 373.8L119.2 370.8L120.3 367.8L123.0 364.8L125.8 363.0L128.8 362.6L131.8 363.6L134.6 365.8L136.0 367.8L136.4 370.2L135.5 372.8L133.2 375.6L130.2 378.1L127.2 379.3Z" fill="#ff00b4" fill-rule="evenodd"/><path d="M128.8 377.8L126.2 378.1L123.8 377.1L121.4 374.2L120.5 371.8L120.8 369.2L122.2 367.0L124.8 364.8L127.8 363.8L130.2 364.2L132.9 365.8L134.6 367.8L135.2 369.8L134.9 371.8L133.7 373.8L131.2 376.2L128.8 377.8Z" fill="#ff007e" fill-rule="evenodd"/><path d="M128.8 376.4L126.8 376.7L124.4 375.8L122.8 373.7L122.0 371.2L122.2 369.7L123.5 367.8L125.8 365.9L127.8 365.3L129.8 365.6L131.9 366.8L133.2 368.2L133.8 369.8L132.8 373.0L128.8 376.4Z" fill="#ff0049" fill-rule="evenodd"/><path d="M128.8 374.3L127.2 374.6L125.9 374.2L124.4 371.8L125.1 369.2L127.8 367.6L130.5 368.2L131.7 370.2L131.0 372.2L128.8 374.3Z" fill="#ff001f" fill-rule="evenodd"/></g><line x1="39.5" y1="449.0" x2="177.8" y2="330.4" stroke="#ff00ff" stroke-width="1.6"/><line x1="43.2" y1="456.8" x2="181.5" y2="320.5" stroke="#000" stroke-width="1.15" stroke-dasharray="2.5 1.1"/></g></g>
<path d="M43.2 460.5v-1.5M43.2 320.5v1.5M80.6 460.5v-1.5M80.6 320.5v1.5M118.0 460.5v-1.5M118.0 320.5v1.5M155.3 460.5v-1.5M155.3 320.5v1.5M39.5 456.8h1.5M181.5 456.8h-1.5M39.5 438.4h1.5M181.5 438.4h-1.5M39.5 420.0h1.5M181.5 420.0h-1.5M39.5 401.6h1.5M181.5 401.6h-1.5M39.5 383.1h1.5M181.5 383.1h-1.5M39.5 364.7h1.5M181.5 364.7h-1.5M39.5 346.3h1.5M181.5 346.3h-1.5M39.5 327.9h1.5M181.5 327.9h-1.5" stroke="#999" stroke-width="0.8" fill="none"/>
<rect x="39.5" y="320.5" width="142.0" height="140.0" fill="none" stroke="#999" stroke-width="1"/>
<g font-size="9.5" class="tk"><text x="43.2" y="473.5" text-anchor="middle">0</text><text x="80.6" y="473.5" text-anchor="middle">10</text><text x="118.0" y="473.5" text-anchor="middle">20</text><text x="155.3" y="473.5" text-anchor="middle">30</text><text x="35.5" y="460.0" text-anchor="end">0</text><text x="35.5" y="441.6" text-anchor="end">5</text><text x="35.5" y="423.2" text-anchor="end">10</text><text x="35.5" y="404.8" text-anchor="end">15</text><text x="35.5" y="386.3" text-anchor="end">20</text><text x="35.5" y="367.9" text-anchor="end">25</text><text x="35.5" y="349.5" text-anchor="end">30</text><text x="35.5" y="331.1" text-anchor="end">35</text></g>
<g font-size="10.3" class="an"><text x="42.5" y="330.5">Y=0.87×X+3.00</text><text x="42.5" y="341.8">P&lt;0.05</text><text x="173.0" y="449.5" text-anchor="end">(a3)</text></g>
<text x="110.5" y="485.5" text-anchor="middle" font-size="10.5" class="al">Met. Tem. (°C)</text>
<text transform="translate(20.7,390.5) rotate(-90)" text-anchor="middle" font-size="10.2" class="al">ERA5 Tem. (°C)</text>
<line x1="212.2" y1="320.5" x2="212.2" y2="460.5" stroke="#efefef" stroke-width="0.6"/><line x1="249.6" y1="320.5" x2="249.6" y2="460.5" stroke="#efefef" stroke-width="0.6"/><line x1="287.0" y1="320.5" x2="287.0" y2="460.5" stroke="#efefef" stroke-width="0.6"/><line x1="324.3" y1="320.5" x2="324.3" y2="460.5" stroke="#efefef" stroke-width="0.6"/><line x1="208.5" y1="456.8" x2="350.5" y2="456.8" stroke="#efefef" stroke-width="0.6"/><line x1="208.5" y1="438.4" x2="350.5" y2="438.4" stroke="#efefef" stroke-width="0.6"/><line x1="208.5" y1="420.0" x2="350.5" y2="420.0" stroke="#efefef" stroke-width="0.6"/><line x1="208.5" y1="401.6" x2="350.5" y2="401.6" stroke="#efefef" stroke-width="0.6"/><line x1="208.5" y1="383.1" x2="350.5" y2="383.1" stroke="#efefef" stroke-width="0.6"/><line x1="208.5" y1="364.7" x2="350.5" y2="364.7" stroke="#efefef" stroke-width="0.6"/><line x1="208.5" y1="346.3" x2="350.5" y2="346.3" stroke="#efefef" stroke-width="0.6"/><line x1="208.5" y1="327.9" x2="350.5" y2="327.9" stroke="#efefef" stroke-width="0.6"/>
<g><clipPath id="cp21"><rect x="208.5" y="320.5" width="142.0" height="140.0"/></clipPath><g clip-path="url(#cp21)"><g filter="url(#bl)"><circle cx="333.8" cy="372.8" r="1.8" fill="#ff1c00"/><circle cx="245.8" cy="445.8" r="1.8" fill="#ff5200"/><circle cx="287.8" cy="331.8" r="1.8" fill="#ff4b00"/><circle cx="246.2" cy="445.2" r="1.8" fill="#ff0e00"/><circle cx="264.8" cy="350.8" r="1.8" fill="#ff2800"/><circle cx="252.2" cy="363.2" r="1.8" fill="#ff2d00"/><circle cx="281.8" cy="417.8" r="1.8" fill="#ff4700"/><circle cx="253.2" cy="361.8" r="1.8" fill="#ff3100"/><circle cx="329.2" cy="377.2" r="1.8" fill="#ff3f00"/><circle cx="308.8" cy="322.2" r="1.8" fill="#ff5a00"/><circle cx="210.8" cy="400.8" r="1.8" fill="#ff4e00"/><circle cx="242.2" cy="376.2" r="1.8" fill="#ff2700"/><circle cx="345.8" cy="352.8" r="1.8" fill="#ff3000"/><circle cx="295.8" cy="405.8" r="1.8" fill="#ff2700"/><circle cx="265.8" cy="349.8" r="1.8" fill="#ff0c00"/><circle cx="338.8" cy="366.2" r="1.8" fill="#ff1600"/><circle cx="290.2" cy="330.8" r="1.8" fill="#ff1e00"/><circle cx="252.8" cy="361.2" r="1.8" fill="#ff2200"/><circle cx="280.2" cy="337.8" r="1.8" fill="#ff2200"/><circle cx="349.2" cy="345.2" r="1.8" fill="#ff3e00"/><circle cx="219.2" cy="400.2" r="1.8" fill="#ff6800"/><circle cx="268.8" cy="347.2" r="1.8" fill="#ff5300"/><circle cx="335.8" cy="369.8" r="1.8" fill="#ff5500"/><circle cx="234.8" cy="454.2" r="1.8" fill="#ff5100"/><circle cx="241.8" cy="448.8" r="1.8" fill="#ff4000"/><circle cx="221.2" cy="398.8" r="1.8" fill="#ff6200"/><circle cx="329.8" cy="376.2" r="1.8" fill="#ff4a00"/><circle cx="348.8" cy="346.8" r="1.8" fill="#ff3600"/><circle cx="286.8" cy="333.2" r="1.8" fill="#ff0800"/><circle cx="239.8" cy="450.8" r="1.8" fill="#ff3400"/><circle cx="332.8" cy="373.2" r="1.8" fill="#ff1700"/><circle cx="296.2" cy="328.8" r="1.8" fill="#ff0e00"/><circle cx="235.2" cy="386.8" r="1.8" fill="#ff3600"/><circle cx="298.8" cy="402.2" r="1.8" fill="#ff5400"/><circle cx="237.2" cy="385.2" r="1.8" fill="#ff2000"/><circle cx="260.8" cy="435.2" r="1.8" fill="#ff5200"/><circle cx="312.2" cy="322.8" r="1.8" fill="#ff3800"/><circle cx="331.2" cy="374.8" r="1.8" fill="#ff1000"/><circle cx="248.8" cy="367.2" r="1.8" fill="#ff6700"/><circle cx="308.2" cy="324.2" r="1.8" fill="#ff2b00"/><circle cx="315.2" cy="388.8" r="1.8" fill="#ff2000"/><circle cx="274.8" cy="423.8" r="1.8" fill="#ff5b00"/><circle cx="238.8" cy="382.8" r="1.8" fill="#ff0d00"/><circle cx="269.2" cy="345.2" r="1.8" fill="#ff4f00"/><circle cx="208.8" cy="421.8" r="1.8" fill="#ff1400"/><circle cx="245.8" cy="372.8" r="1.8" fill="#ff2a00"/><circle cx="332.8" cy="372.8" r="1.8" fill="#ff1900"/><circle cx="210.2" cy="400.8" r="1.8" fill="#ff5a00"/><circle cx="348.8" cy="331.8" r="1.8" fill="#ff2a00"/><circle cx="284.8" cy="415.2" r="1.8" fill="#ff6800"/><circle cx="308.2" cy="394.2" r="1.8" fill="#ff4300"/><circle cx="294.2" cy="405.8" r="1.8" fill="#ff4a00"/><circle cx="283.8" cy="336.2" r="1.8" fill="#ff3800"/><circle cx="289.8" cy="410.2" r="1.8" fill="#ff2100"/><circle cx="303.2" cy="325.8" r="1.8" fill="#ff2a00"/><circle cx="273.2" cy="424.2" r="1.8" fill="#ff6500"/><circle cx="209.8" cy="425.2" r="1.8" fill="#ff1600"/><circle cx="270.2" cy="427.2" r="1.8" fill="#ff6a00"/><circle cx="337.2" cy="368.2" r="1.8" fill="#ff5100"/><circle cx="267.2" cy="346.8" r="1.8" fill="#ff2700"/><circle cx="335.8" cy="320.8" r="1.8" fill="#ff4500"/><circle cx="315.2" cy="389.2" r="1.8" fill="#ff2900"/><circle cx="224.8" cy="398.2" r="1.8" fill="#ff2900"/><circle cx="278.8" cy="420.2" r="1.8" fill="#ff3600"/><circle cx="348.2" cy="347.2" r="1.8" fill="#ff0200"/><circle cx="278.2" cy="339.2" r="1.8" fill="#ff3500"/><circle cx="235.2" cy="388.8" r="1.8" fill="#ff6800"/><circle cx="288.2" cy="411.2" r="1.8" fill="#ff1f00"/><circle cx="240.8" cy="449.2" r="1.8" fill="#ff5000"/><circle cx="288.8" cy="332.2" r="1.8" fill="#ff2f00"/><circle cx="246.8" cy="369.8" r="1.8" fill="#ff1600"/><circle cx="209.8" cy="430.2" r="1.8" fill="#ff6100"/><circle cx="251.8" cy="363.2" r="1.8" fill="#ff0200"/><circle cx="239.8" cy="382.2" r="1.8" fill="#ff2100"/><circle cx="317.2" cy="321.8" r="1.8" fill="#ff6b00"/><circle cx="232.2" cy="393.2" r="1.8" fill="#ff1c00"/><circle cx="260.8" cy="435.8" r="1.8" fill="#ff5b00"/><circle cx="280.8" cy="417.8" r="1.8" fill="#ff4100"/><circle cx="267.8" cy="428.8" r="1.8" fill="#ff5600"/><circle cx="312.2" cy="391.2" r="1.8" fill="#ff4400"/><circle cx="273.2" cy="343.2" r="1.8" fill="#ff2700"/><circle cx="208.8" cy="401.8" r="1.8" fill="#ff5100"/><circle cx="278.8" cy="338.8" r="1.8" fill="#ff0300"/><circle cx="280.8" cy="418.8" r="1.8" fill="#ff3000"/><circle cx="340.8" cy="324.2" r="1.8" fill="#ff2800"/><circle cx="281.2" cy="417.2" r="1.8" fill="#ff3300"/><circle cx="284.8" cy="333.8" r="1.8" fill="#ff0e00"/><circle cx="255.8" cy="358.2" r="1.8" fill="#ff1800"/><circle cx="265.2" cy="351.2" r="1.8" fill="#ff3c00"/><circle cx="307.2" cy="395.2" r="1.8" fill="#ff2a00"/><circle cx="281.2" cy="335.2" r="1.8" fill="#ff5500"/><circle cx="256.8" cy="360.2" r="1.8" fill="#ff4100"/><circle cx="321.2" cy="320.8" r="1.8" fill="#ff5c00"/><circle cx="340.2" cy="362.8" r="1.8" fill="#ff4e00"/><circle cx="344.8" cy="327.8" r="1.8" fill="#ff4000"/><circle cx="236.8" cy="387.8" r="1.8" fill="#ff1f00"/><circle cx="255.8" cy="358.8" r="1.8" fill="#ff5400"/><circle cx="222.2" cy="398.8" r="1.8" fill="#ff1b00"/><circle cx="233.2" cy="390.8" r="1.8" fill="#ff0800"/><circle cx="340.8" cy="363.8" r="1.8" fill="#ff6700"/><circle cx="272.8" cy="425.8" r="1.8" fill="#ff3a00"/><circle cx="235.8" cy="387.8" r="1.8" fill="#ff5300"/><circle cx="286.8" cy="412.8" r="1.8" fill="#ff3900"/><circle cx="262.2" cy="354.2" r="1.8" fill="#ff4200"/><circle cx="243.2" cy="376.8" r="1.8" fill="#ff0400"/><circle cx="283.2" cy="336.8" r="1.8" fill="#ff1400"/><circle cx="228.2" cy="459.2" r="1.8" fill="#ff4800"/><circle cx="270.2" cy="343.2" r="1.8" fill="#ff3d00"/><circle cx="268.8" cy="344.8" r="1.8" fill="#ff1100"/><circle cx="301.8" cy="325.2" r="1.8" fill="#ff6600"/><path d="M225.8 460.3L208.7 460.2L208.8 433.1L210.6 429.2L211.2 426.2L210.6 423.8L208.8 421.3L208.8 403.2L224.8 399.1L228.2 397.7L231.2 395.6L234.6 391.8L249.2 369.2L262.2 354.7L274.7 342.8L290.7 332.2L299.2 327.8L304.2 325.8L311.6 323.2L321.7 320.8L334.3 320.8L341.8 325.3L346.8 330.2L348.2 332.6L349.8 336.2L350.2 341.3L349.3 344.8L347.4 347.2L343.8 356.0L339.8 362.8L334.7 369.8L321.2 382.7L299.2 400.9L288.8 410.8L271.2 425.7L252.8 440.7L239.8 449.5L225.8 460.3Z" fill="#ff3d00" fill-rule="evenodd"/><path d="M223.2 460.3L208.7 460.2L208.8 437.7L213.1 430.2L214.5 425.8L213.8 422.0L210.1 416.8L209.1 414.2L209.2 410.2L210.7 407.2L215.1 404.8L228.9 400.8L233.8 397.8L237.3 393.8L251.9 372.8L268.9 353.8L279.2 344.4L292.8 335.5L299.8 331.5L306.8 328.4L314.8 325.5L323.2 323.6L327.2 321.9L330.8 322.0L334.2 323.0L338.2 325.1L342.2 328.1L345.2 331.2L347.2 334.8L348.1 338.2L347.8 341.8L341.4 355.2L336.4 363.2L332.2 368.8L316.2 384.6L298.9 398.8L285.2 411.1L255.2 436.5L249.2 441.2L237.0 449.2L223.2 460.3Z" fill="#ff7700" fill-rule="evenodd"/><path d="M220.8 460.3L208.7 460.2L208.8 441.0L215.2 430.4L216.9 425.8L216.7 421.8L213.7 414.2L214.2 411.8L216.1 408.8L220.2 406.1L231.2 402.5L235.8 399.4L239.2 395.3L254.1 374.8L270.5 356.2L279.2 347.9L290.2 340.1L299.8 334.4L306.8 331.0L314.8 327.9L325.2 325.4L328.2 324.0L331.2 324.0L334.8 325.0L338.2 326.8L341.8 329.6L344.2 332.4L345.9 335.8L346.5 338.8L346.0 341.8L340.8 352.8L335.6 361.2L331.5 366.8L322.4 376.8L311.8 386.9L297.4 398.2L252.8 437.1L236.7 447.8L220.8 460.3Z" fill="#ffac00" fill-rule="evenodd"/><path d="M219.2 460.3L208.7 460.2L208.8 443.8L216.6 431.2L218.5 427.2L219.1 422.8L217.8 414.8L218.4 412.8L220.2 410.2L223.2 408.1L232.8 404.1L237.2 400.8L255.1 377.2L272.1 357.8L279.8 350.2L288.8 343.5L301.2 335.9L308.2 332.5L316.8 329.2L326.8 326.9L329.2 325.7L331.8 325.6L334.8 326.4L338.2 328.3L341.2 330.7L344.2 334.8L345.1 338.8L344.7 340.8L340.7 349.8L332.4 363.2L319.1 378.8L309.2 387.9L295.7 398.2L251.8 436.8L235.5 447.2L219.2 460.3Z" fill="#ffe200" fill-rule="evenodd"/><path d="M217.2 460.3L208.7 460.2L208.8 446.5L219.8 428.0L220.8 423.8L220.8 416.2L221.6 413.8L224.2 411.0L234.5 405.2L239.2 401.3L256.2 379.1L276.2 355.9L283.2 349.5L291.2 343.9L304.8 336.1L315.2 331.6L331.8 327.2L336.2 328.5L340.7 331.8L343.1 335.2L343.7 338.8L339.0 350.2L331.6 362.2L317.0 379.8L307.8 388.2L294.2 398.2L262.8 425.5L250.8 436.7L235.2 446.2L217.2 460.3Z" fill="#e7ff00" fill-rule="evenodd"/><path d="M215.8 460.3L208.7 460.2L208.8 449.5L220.8 429.0L221.9 425.2L222.9 417.8L223.8 415.2L226.2 412.5L236.2 406.0L240.5 402.2L256.8 381.4L277.9 356.2L284.2 350.5L290.8 345.9L305.8 337.5L314.8 333.4L321.2 331.2L329.8 329.8L332.2 328.9L335.8 329.7L339.8 332.4L341.8 335.2L342.4 338.2L337.9 349.8L330.9 361.2L316.1 379.8L307.2 387.8L293.5 397.8L262.2 424.8L250.2 436.3L245.8 439.4L234.4 445.8L215.8 460.3Z" fill="#b1ff00" fill-rule="evenodd"/><path d="M213.2 460.3L210.8 460.2L208.8 458.4L208.8 453.2L212.9 444.2L221.7 429.8L224.3 418.8L225.7 415.8L228.2 413.1L238.3 406.2L242.1 402.8L279.6 356.2L285.2 351.2L291.2 347.0L307.8 338.2L316.2 334.5L323.2 332.3L333.2 330.7L336.2 331.5L339.2 333.7L340.6 335.8L340.8 338.2L336.4 350.2L329.9 360.8L319.1 375.2L314.8 380.2L306.8 387.5L292.8 397.3L262.2 423.7L249.8 436.0L245.2 439.1L234.2 444.8L213.2 460.3Z" fill="#7cff00" fill-rule="evenodd"/><path d="M212.8 458.8L211.2 458.6L209.9 456.8L211.2 451.2L214.6 443.8L222.4 430.8L225.3 419.8L226.7 416.8L230.0 413.2L239.6 406.8L243.5 403.2L258.2 384.8L267.8 373.9L275.8 362.2L280.8 356.6L286.2 351.7L291.8 347.9L316.2 336.1L322.8 334.0L328.2 333.1L335.2 333.2L337.9 334.8L338.9 336.8L338.2 341.8L335.1 350.2L330.3 358.2L319.4 373.8L313.5 380.8L305.8 387.6L291.7 397.2L262.2 422.6L253.3 432.2L249.2 435.8L244.2 439.0L233.5 444.2L218.8 455.2L212.8 458.8Z" fill="#46ff00" fill-rule="evenodd"/><path d="M216.2 454.8L214.2 455.2L213.3 454.2L213.1 452.2L213.8 449.3L216.4 443.2L223.2 431.5L226.0 420.8L227.7 417.2L231.6 413.2L241.6 406.8L245.2 403.4L268.6 375.2L276.7 362.8L281.9 356.8L287.2 352.0L292.8 348.4L317.2 337.3L323.2 335.5L328.8 334.8L332.8 335.4L335.8 337.2L336.6 339.2L336.5 342.8L333.5 350.8L318.4 374.2L312.8 380.8L305.2 387.3L291.1 396.8L261.8 422.0L253.2 431.6L248.6 435.8L244.2 438.5L233.2 443.4L220.8 452.3L216.2 454.8Z" fill="#11ff00" fill-rule="evenodd"/><path d="M220.2 449.8L218.8 450.1L218.0 449.8L217.5 448.2L217.8 446.2L224.2 433.0L226.9 421.8L228.8 417.8L233.2 413.3L243.7 407.2L247.5 403.8L269.8 377.3L277.5 363.8L282.9 357.2L288.2 352.6L293.2 349.5L317.2 339.6L323.2 337.9L327.2 337.5L330.8 338.0L333.2 339.6L334.1 341.8L334.0 344.2L331.1 351.8L317.5 374.2L311.9 380.8L304.2 387.3L291.2 395.4L263.2 419.2L259.2 423.1L252.7 431.2L248.2 435.3L243.2 438.3L232.2 442.5L220.2 449.8Z" fill="#00ff25" fill-rule="evenodd"/><path d="M226.2 442.8L224.8 442.6L224.4 440.8L226.1 433.8L227.5 423.8L229.8 418.5L234.8 413.6L245.8 408.2L250.1 404.8L271.2 379.8L273.2 376.4L278.1 365.2L280.9 361.2L284.2 357.6L289.2 353.3L294.2 350.4L307.8 346.3L317.2 342.7L325.2 341.4L327.8 341.8L329.8 343.1L330.4 344.8L330.3 346.8L327.8 353.2L322.2 362.8L317.1 373.2L310.9 380.8L303.2 387.1L290.0 394.8L262.8 417.7L258.8 421.7L252.2 430.8L247.2 435.2L241.8 438.1L226.2 442.8Z" fill="#00ff5b" fill-rule="evenodd"/><path d="M237.8 438.3L231.2 438.6L229.8 437.9L228.8 436.4L228.1 432.8L228.0 427.2L228.7 423.2L230.1 419.8L232.8 416.5L236.2 413.8L240.2 411.9L248.8 409.2L253.2 405.8L273.1 382.2L274.8 378.8L278.4 367.2L280.7 363.2L283.8 359.6L290.8 353.6L297.2 350.5L309.8 348.4L319.2 346.1L322.7 346.2L324.8 347.2L325.7 349.8L324.6 353.8L316.9 371.8L311.9 378.8L303.2 386.3L288.4 394.2L261.8 416.3L258.2 420.0L252.1 429.8L247.8 434.0L243.2 436.7L237.8 438.3Z" fill="#00ff90" fill-rule="evenodd"/><path d="M238.2 437.3L232.8 436.8L231.2 435.7L230.0 433.8L229.2 430.8L229.0 426.8L229.6 423.2L230.9 420.2L234.2 416.4L238.2 413.8L243.2 412.3L252.3 411.2L254.6 410.2L256.2 408.7L275.2 385.6L276.8 381.8L278.0 372.8L279.0 368.8L281.3 364.2L284.8 359.9L291.8 354.1L298.8 351.3L304.2 350.7L314.8 351.2L317.8 351.7L319.5 352.8L320.2 354.2L320.1 356.2L317.4 368.2L314.9 373.8L311.0 378.8L302.2 386.1L290.2 391.5L286.4 393.8L261.2 413.6L257.8 417.3L253.3 426.8L249.9 431.2L244.2 435.5L238.2 437.3Z" fill="#00ffc6" fill-rule="evenodd"/><path d="M281.2 393.4L280.2 393.4L279.7 392.2L279.3 372.8L281.2 366.2L285.2 360.8L292.2 354.8L295.8 353.1L299.2 352.2L303.8 352.1L308.2 352.8L312.7 354.2L315.7 356.2L316.8 357.8L317.3 360.2L316.7 367.2L314.7 372.8L310.8 378.1L305.2 383.2L300.2 386.5L281.2 393.4ZM239.8 436.3L236.8 436.4L234.2 435.9L232.6 434.8L231.1 432.8L230.2 429.8L229.9 426.8L230.4 423.8L231.6 420.8L235.7 416.2L240.8 413.8L246.8 413.4L252.2 414.9L254.2 416.7L254.7 418.8L253.9 423.2L252.1 427.2L249.8 430.5L246.2 433.6L243.2 435.3L239.8 436.3Z" fill="#00fffb" fill-rule="evenodd"/><path d="M291.8 388.3L287.8 388.6L285.8 388.0L283.8 385.7L282.0 382.2L280.7 377.8L280.4 373.2L281.0 369.2L282.8 365.2L285.4 361.8L289.5 357.8L292.8 355.5L296.2 353.9L299.8 353.2L303.8 353.3L307.2 354.1L310.9 355.8L314.5 358.8L315.8 362.2L315.5 368.2L313.3 373.8L309.3 378.8L303.2 384.0L298.2 386.6L291.8 388.3ZM240.8 435.4L235.8 435.2L232.8 433.0L230.9 428.8L231.3 423.2L233.8 419.1L238.2 415.6L242.8 414.4L247.8 414.9L250.8 416.5L252.7 418.8L253.1 421.2L252.5 424.8L250.7 428.2L247.8 431.6L244.2 434.1L240.8 435.4Z" fill="#00cdff" fill-rule="evenodd"/><path d="M294.8 386.8L290.8 387.2L288.2 386.7L284.4 382.8L282.6 379.2L281.6 375.2L281.5 371.8L282.3 368.2L286.0 362.2L289.8 358.6L293.2 356.1L296.2 354.8L299.8 354.1L306.2 355.1L311.0 357.8L314.0 361.2L314.9 365.8L314.0 370.8L310.8 376.2L305.2 381.7L300.2 385.0L294.8 386.8ZM239.8 434.8L235.8 434.1L232.8 431.2L231.6 427.2L232.2 422.9L234.6 419.2L238.2 416.4L242.2 415.3L246.8 415.9L249.8 417.6L251.5 419.8L252.0 422.2L251.5 425.2L249.6 428.8L246.7 431.8L243.2 433.9L239.8 434.8Z" fill="#0098ff" fill-rule="evenodd"/><path d="M295.8 385.8L292.2 386.1L289.8 385.6L286.0 382.2L284.1 379.2L282.8 375.8L282.5 372.2L282.9 369.2L284.1 366.2L286.2 363.2L292.8 357.3L298.2 355.2L304.2 355.6L308.8 357.7L312.5 361.2L313.9 365.2L313.5 369.8L311.1 374.8L306.0 380.2L301.2 383.7L295.8 385.8ZM241.2 433.9L237.8 433.9L234.8 432.2L232.7 428.8L232.5 424.8L233.9 421.2L237.2 417.9L240.8 416.4L244.8 416.3L247.2 417.3L249.8 419.3L250.8 421.2L250.9 424.2L249.8 427.2L247.4 430.2L244.2 432.7L241.2 433.9Z" fill="#0062ff" fill-rule="evenodd"/><path d="M296.8 384.8L291.2 384.8L289.2 383.8L287.2 381.8L285.1 378.8L283.9 375.8L283.4 372.8L283.7 369.8L286.3 364.2L292.2 358.6L297.2 356.2L302.8 356.2L307.2 358.1L311.4 361.8L312.9 365.2L312.8 369.2L311.0 373.8L307.2 378.3L301.8 382.7L296.8 384.8ZM240.8 433.3L237.2 432.8L234.8 430.8L233.3 427.8L233.4 424.2L234.8 421.2L237.8 418.4L240.8 417.1L244.2 417.1L246.9 418.2L249.1 420.2L250.0 422.2L250.0 424.8L248.7 427.8L246.6 430.2L243.8 432.3L240.8 433.3Z" fill="#002dff" fill-rule="evenodd"/><path d="M294.8 384.3L290.5 383.2L286.4 378.8L284.4 373.8L284.8 368.8L287.7 363.8L293.2 358.8L298.2 356.9L303.2 357.3L307.2 359.3L310.8 362.8L312.1 366.2L311.7 370.8L309.2 375.2L303.8 380.6L299.2 383.3L294.8 384.3ZM241.8 432.3L238.8 432.4L236.4 431.2L234.5 428.8L233.9 425.8L234.7 422.8L236.8 420.2L239.8 418.2L242.8 417.8L245.2 418.4L247.8 420.2L249.0 422.2L249.2 424.2L248.5 426.8L246.8 429.2L244.2 431.3L241.8 432.3Z" fill="#0900ff" fill-rule="evenodd"/><path d="M296.8 383.3L292.2 382.9L288.4 379.8L285.6 374.8L285.4 369.8L287.8 364.9L292.8 360.0L297.2 357.9L301.8 357.8L305.8 359.5L309.8 363.0L311.2 366.2L311.2 369.8L309.2 374.2L305.2 378.6L301.0 381.8L296.8 383.3ZM240.8 431.8L238.2 431.4L236.2 429.8L234.9 427.2L234.9 424.8L235.9 422.2L238.2 419.9L240.8 418.8L243.2 418.7L245.2 419.4L247.4 421.2L248.3 423.2L248.2 425.2L247.2 427.5L245.2 429.7L243.2 431.0L240.8 431.8Z" fill="#3e00ff" fill-rule="evenodd"/><path d="M297.8 382.3L293.8 382.4L290.2 380.3L286.9 375.8L286.1 370.8L287.8 366.2L292.2 361.4L296.2 359.0L300.8 358.5L304.8 359.9L308.8 363.2L310.2 365.9L310.5 369.2L309.2 372.9L306.2 376.7L301.8 380.6L297.8 382.3ZM241.8 430.8L239.8 430.9L237.8 430.0L236.2 428.2L235.6 425.8L236.3 423.2L237.9 421.2L239.8 420.0L242.2 419.5L244.2 420.0L246.1 421.2L247.1 422.8L247.4 424.8L245.7 428.2L241.8 430.8Z" fill="#7400ff" fill-rule="evenodd"/><path d="M296.2 381.8L292.8 381.0L289.2 377.7L287.2 373.8L287.1 369.8L289.0 365.8L293.2 361.5L297.2 359.6L301.2 359.5L304.8 361.0L308.4 364.2L309.6 367.2L309.5 370.2L307.6 374.2L303.8 378.3L300.1 380.8L296.2 381.8ZM242.2 429.8L240.2 430.0L238.5 429.2L237.2 427.8L236.6 425.8L237.1 423.8L238.2 422.2L239.8 421.0L241.8 420.5L244.8 421.5L246.4 424.2L245.5 427.2L242.2 429.8Z" fill="#aa00ff" fill-rule="evenodd"/><path d="M297.8 380.8L294.2 380.6L291.4 378.8L288.5 374.8L287.8 370.8L289.3 366.8L293.0 362.8L296.8 360.6L300.2 360.2L303.8 361.5L307.1 364.2L308.6 366.8L308.8 369.8L307.7 372.8L304.9 376.2L301.2 379.3L297.8 380.8ZM241.8 428.8L239.2 428.3L237.8 425.8L238.1 424.2L239.2 422.8L241.8 421.7L244.2 422.7L245.2 424.8L244.2 427.2L241.8 428.8Z" fill="#df00ff" fill-rule="evenodd"/><path d="M298.2 379.8L294.8 379.8L292.2 378.2L289.4 374.2L288.8 370.8L290.0 367.2L293.2 363.7L296.2 361.7L299.8 361.1L302.8 362.0L305.8 364.2L307.6 366.8L308.0 369.2L307.1 372.2L305.2 374.9L301.6 378.2L298.2 379.8ZM242.2 426.8L240.8 426.9L239.8 425.8L240.2 424.3L241.2 423.6L242.4 423.8L243.3 424.8L243.2 425.8L242.2 426.8Z" fill="#ff00e9" fill-rule="evenodd"/><path d="M298.8 378.8L295.8 379.0L293.3 377.8L290.8 374.7L289.8 371.2L290.5 368.2L292.9 365.2L296.2 362.8L299.2 362.1L301.9 362.8L304.8 364.8L306.5 366.8L307.0 369.2L306.4 371.8L304.8 374.2L301.6 377.2L298.8 378.8Z" fill="#ff00b4" fill-rule="evenodd"/><path d="M298.8 377.8L296.2 378.0L293.8 376.6L291.6 373.8L291.0 370.8L291.8 368.2L294.2 365.4L296.8 363.7L299.2 363.3L301.8 363.9L304.2 365.8L305.7 367.8L306.0 369.8L305.4 371.8L303.8 374.1L301.2 376.5L298.8 377.8Z" fill="#ff007e" fill-rule="evenodd"/><path d="M297.8 376.8L295.8 376.4L293.9 374.8L292.6 372.8L292.4 370.2L293.3 368.2L295.8 365.8L297.8 364.8L299.8 364.7L301.8 365.5L303.8 367.2L304.6 368.8L304.7 370.2L303.9 372.2L301.8 374.7L299.8 376.2L297.8 376.8Z" fill="#ff0049" fill-rule="evenodd"/><path d="M299.2 374.8L297.8 375.1L296.2 374.6L294.8 372.8L294.3 371.2L294.5 369.8L295.6 368.2L298.8 366.5L301.8 367.7L303.0 369.8L302.1 372.2L299.2 374.8Z" fill="#ff001f" fill-rule="evenodd"/></g><line x1="209.2" y1="448.6" x2="343.0" y2="331.2" stroke="#ff00ff" stroke-width="1.6"/><line x1="212.2" y1="456.8" x2="350.5" y2="320.5" stroke="#000" stroke-width="1.15" stroke-dasharray="2.5 1.1"/></g></g>
<path d="M212.2 460.5v-1.5M212.2 320.5v1.5M249.6 460.5v-1.5M249.6 320.5v1.5M287.0 460.5v-1.5M287.0 320.5v1.5M324.3 460.5v-1.5M324.3 320.5v1.5M208.5 456.8h1.5M350.5 456.8h-1.5M208.5 438.4h1.5M350.5 438.4h-1.5M208.5 420.0h1.5M350.5 420.0h-1.5M208.5 401.6h1.5M350.5 401.6h-1.5M208.5 383.1h1.5M350.5 383.1h-1.5M208.5 364.7h1.5M350.5 364.7h-1.5M208.5 346.3h1.5M350.5 346.3h-1.5M208.5 327.9h1.5M350.5 327.9h-1.5" stroke="#999" stroke-width="0.8" fill="none"/>
<rect x="208.5" y="320.5" width="142.0" height="140.0" fill="none" stroke="#999" stroke-width="1"/>
<g font-size="9.5" class="tk"><text x="212.2" y="473.5" text-anchor="middle">0</text><text x="249.6" y="473.5" text-anchor="middle">10</text><text x="287.0" y="473.5" text-anchor="middle">20</text><text x="324.3" y="473.5" text-anchor="middle">30</text><text x="204.5" y="460.0" text-anchor="end">0</text><text x="204.5" y="441.6" text-anchor="end">5</text><text x="204.5" y="423.2" text-anchor="end">10</text><text x="204.5" y="404.8" text-anchor="end">15</text><text x="204.5" y="386.3" text-anchor="end">20</text><text x="204.5" y="367.9" text-anchor="end">25</text><text x="204.5" y="349.5" text-anchor="end">30</text><text x="204.5" y="331.1" text-anchor="end">35</text></g>
<g font-size="10.3" class="an"><text x="211.5" y="330.5">Y=0.89×X+2.94</text><text x="211.5" y="341.8">P&lt;0.05</text><text x="342.0" y="449.5" text-anchor="end">(b3)</text></g>
<text x="279.5" y="485.5" text-anchor="middle" font-size="10.5" class="al">Met. Tem. (°C)</text>
<line x1="381.2" y1="320.5" x2="381.2" y2="460.5" stroke="#efefef" stroke-width="0.6"/><line x1="418.6" y1="320.5" x2="418.6" y2="460.5" stroke="#efefef" stroke-width="0.6"/><line x1="456.0" y1="320.5" x2="456.0" y2="460.5" stroke="#efefef" stroke-width="0.6"/><line x1="493.3" y1="320.5" x2="493.3" y2="460.5" stroke="#efefef" stroke-width="0.6"/><line x1="377.5" y1="456.8" x2="519.5" y2="456.8" stroke="#efefef" stroke-width="0.6"/><line x1="377.5" y1="438.4" x2="519.5" y2="438.4" stroke="#efefef" stroke-width="0.6"/><line x1="377.5" y1="420.0" x2="519.5" y2="420.0" stroke="#efefef" stroke-width="0.6"/><line x1="377.5" y1="401.6" x2="519.5" y2="401.6" stroke="#efefef" stroke-width="0.6"/><line x1="377.5" y1="383.1" x2="519.5" y2="383.1" stroke="#efefef" stroke-width="0.6"/><line x1="377.5" y1="364.7" x2="519.5" y2="364.7" stroke="#efefef" stroke-width="0.6"/><line x1="377.5" y1="346.3" x2="519.5" y2="346.3" stroke="#efefef" stroke-width="0.6"/><line x1="377.5" y1="327.9" x2="519.5" y2="327.9" stroke="#efefef" stroke-width="0.6"/>
<g><clipPath id="cp22"><rect x="377.5" y="320.5" width="142.0" height="140.0"/></clipPath><g clip-path="url(#cp22)"><g filter="url(#bl)"><circle cx="419.8" cy="389.2" r="1.8" fill="#ff4700"/><circle cx="379.8" cy="441.8" r="1.8" fill="#ff1a00"/><circle cx="469.8" cy="342.8" r="1.8" fill="#ff5200"/><circle cx="398.8" cy="441.2" r="1.8" fill="#ff1700"/><circle cx="443.8" cy="364.2" r="1.8" fill="#ff5900"/><circle cx="485.8" cy="378.2" r="1.8" fill="#ff0700"/><circle cx="430.2" cy="425.8" r="1.8" fill="#ff5800"/><circle cx="431.8" cy="376.8" r="1.8" fill="#ff1200"/><circle cx="415.8" cy="393.8" r="1.8" fill="#ff2800"/><circle cx="500.8" cy="330.2" r="1.8" fill="#ff2200"/><circle cx="384.2" cy="415.2" r="1.8" fill="#ff4a00"/><circle cx="415.2" cy="392.8" r="1.8" fill="#ff1300"/><circle cx="440.2" cy="366.8" r="1.8" fill="#ff2a00"/><circle cx="437.8" cy="419.8" r="1.8" fill="#ff0100"/><circle cx="500.2" cy="363.2" r="1.8" fill="#ff1c00"/><circle cx="481.2" cy="382.2" r="1.8" fill="#ff2d00"/><circle cx="472.8" cy="341.2" r="1.8" fill="#ff0b00"/><circle cx="431.2" cy="376.2" r="1.8" fill="#ff4400"/><circle cx="459.2" cy="350.2" r="1.8" fill="#ff2900"/><circle cx="504.8" cy="357.8" r="1.8" fill="#ff4e00"/><circle cx="443.8" cy="414.8" r="1.8" fill="#ff4600"/><circle cx="445.8" cy="360.8" r="1.8" fill="#ff2e00"/><circle cx="478.2" cy="385.8" r="1.8" fill="#ff5d00"/><circle cx="383.8" cy="445.2" r="1.8" fill="#ff4400"/><circle cx="380.8" cy="443.2" r="1.8" fill="#ff5700"/><circle cx="387.2" cy="411.8" r="1.8" fill="#ff2500"/><circle cx="469.8" cy="392.8" r="1.8" fill="#ff3a00"/><circle cx="503.8" cy="359.8" r="1.8" fill="#ff1500"/><circle cx="467.8" cy="344.8" r="1.8" fill="#ff6b00"/><circle cx="394.2" cy="443.8" r="1.8" fill="#ff1a00"/><circle cx="473.2" cy="389.8" r="1.8" fill="#ff1c00"/><circle cx="474.8" cy="339.2" r="1.8" fill="#ff0800"/><circle cx="407.2" cy="402.2" r="1.8" fill="#ff1c00"/><circle cx="439.2" cy="418.2" r="1.8" fill="#ff5200"/><circle cx="407.2" cy="401.2" r="1.8" fill="#ff4b00"/><circle cx="378.8" cy="438.8" r="1.8" fill="#ff0e00"/><circle cx="490.8" cy="331.2" r="1.8" fill="#ff2800"/><circle cx="471.8" cy="391.2" r="1.8" fill="#ff2d00"/><circle cx="424.2" cy="383.2" r="1.8" fill="#ff4700"/><circle cx="506.8" cy="333.2" r="1.8" fill="#ff3100"/><circle cx="456.8" cy="404.2" r="1.8" fill="#ff3f00"/><circle cx="379.8" cy="429.8" r="1.8" fill="#ff5a00"/><circle cx="410.8" cy="398.8" r="1.8" fill="#ff4e00"/><circle cx="505.8" cy="357.2" r="1.8" fill="#ff2700"/><circle cx="428.2" cy="427.8" r="1.8" fill="#ff3000"/><circle cx="474.8" cy="388.8" r="1.8" fill="#ff2700"/><circle cx="419.2" cy="389.2" r="1.8" fill="#ff0c00"/><circle cx="383.8" cy="415.2" r="1.8" fill="#ff1600"/><circle cx="468.2" cy="343.2" r="1.8" fill="#ff1e00"/><circle cx="381.2" cy="424.8" r="1.8" fill="#ff2200"/><circle cx="393.8" cy="408.8" r="1.8" fill="#ff2200"/><circle cx="436.8" cy="419.8" r="1.8" fill="#ff3e00"/><circle cx="462.2" cy="348.8" r="1.8" fill="#ff6800"/><circle cx="380.8" cy="422.2" r="1.8" fill="#ff5300"/><circle cx="461.8" cy="348.8" r="1.8" fill="#ff5500"/><circle cx="483.2" cy="335.2" r="1.8" fill="#ff5100"/><circle cx="378.8" cy="430.2" r="1.8" fill="#ff4000"/><circle cx="378.8" cy="431.2" r="1.8" fill="#ff6200"/><circle cx="421.2" cy="433.2" r="1.8" fill="#ff4a00"/><circle cx="480.2" cy="384.2" r="1.8" fill="#ff3600"/><circle cx="447.2" cy="359.8" r="1.8" fill="#ff0800"/><circle cx="492.2" cy="329.8" r="1.8" fill="#ff3400"/><circle cx="456.2" cy="404.8" r="1.8" fill="#ff1700"/><circle cx="387.8" cy="411.2" r="1.8" fill="#ff0e00"/><circle cx="428.2" cy="427.2" r="1.8" fill="#ff3600"/><circle cx="446.8" cy="360.8" r="1.8" fill="#ff5400"/><circle cx="457.8" cy="351.8" r="1.8" fill="#ff2000"/><circle cx="404.2" cy="404.2" r="1.8" fill="#ff5200"/><circle cx="434.2" cy="422.2" r="1.8" fill="#ff3800"/><circle cx="382.2" cy="443.2" r="1.8" fill="#ff1000"/><circle cx="511.2" cy="343.2" r="1.8" fill="#ff6700"/><circle cx="422.2" cy="385.8" r="1.8" fill="#ff2b00"/><circle cx="417.2" cy="435.8" r="1.8" fill="#ff2000"/><circle cx="430.2" cy="378.2" r="1.8" fill="#ff5b00"/><circle cx="464.2" cy="398.2" r="1.8" fill="#ff0d00"/><circle cx="498.8" cy="330.2" r="1.8" fill="#ff4f00"/><circle cx="400.8" cy="407.8" r="1.8" fill="#ff1400"/><circle cx="407.2" cy="438.8" r="1.8" fill="#ff2a00"/><circle cx="429.8" cy="425.8" r="1.8" fill="#ff1900"/><circle cx="378.2" cy="434.8" r="1.8" fill="#ff5a00"/><path d="M389.2 445.3L385.2 445.3L383.2 444.2L380.2 440.2L379.0 435.2L379.3 431.8L381.1 426.8L382.8 418.2L384.2 415.7L387.2 412.8L390.2 410.8L398.2 409.1L402.8 406.6L413.1 396.8L440.8 367.4L450.7 357.8L458.7 351.2L472.2 341.8L482.2 335.8L487.8 333.5L491.2 331.2L494.7 330.2L498.2 330.3L501.8 331.2L505.2 333.2L507.2 335.1L509.8 338.7L510.7 342.8L510.3 347.2L509.3 349.8L502.2 360.8L489.2 374.8L474.2 388.7L454.2 406.2L433.8 421.9L420.8 433.2L416.3 435.8L412.3 437.2L395.8 441.4L392.8 443.8L389.2 445.3Z" fill="#ff3d00" fill-rule="evenodd"/><path d="M388.2 443.8L385.8 443.4L383.7 441.8L381.9 438.8L381.2 435.2L384.3 419.8L385.6 417.2L387.9 414.8L391.8 412.3L400.2 410.3L404.2 407.7L414.5 398.2L442.0 368.8L452.8 358.3L459.2 352.9L473.8 342.9L482.8 337.4L494.2 332.1L497.2 331.9L500.8 332.7L503.8 334.2L506.2 336.2L508.5 340.2L509.0 345.2L507.9 348.8L503.4 356.8L499.7 361.8L492.7 369.2L474.8 386.4L453.2 405.2L433.1 420.8L423.8 429.5L419.2 433.0L412.8 436.1L394.8 440.6L391.2 443.0L388.2 443.8Z" fill="#ff7700" fill-rule="evenodd"/><path d="M389.2 442.3L386.8 442.1L385.2 441.0L383.5 438.2L382.9 435.2L385.5 420.8L386.7 418.2L389.0 415.8L392.8 413.5L401.2 411.3L406.8 407.2L416.2 398.5L443.3 369.2L453.8 358.9L460.2 353.5L472.8 345.0L483.2 338.5L494.2 333.5L497.2 333.2L500.2 333.8L503.2 335.3L505.5 337.2L507.4 340.8L507.8 345.2L506.9 348.2L502.3 356.8L498.5 361.8L491.8 368.9L473.8 386.0L451.8 405.1L432.2 420.2L423.5 428.8L418.8 432.5L412.2 435.4L394.2 439.8L389.2 442.3Z" fill="#ffac00" fill-rule="evenodd"/><path d="M390.8 440.8L388.2 441.1L386.8 440.4L385.2 438.2L384.5 435.2L386.7 421.2L388.0 418.8L389.9 416.8L393.1 414.8L399.2 413.2L402.2 411.8L412.5 403.8L419.8 396.5L449.5 364.2L456.8 357.4L463.8 352.0L482.2 340.1L493.8 334.7L496.2 334.2L499.2 334.5L502.2 335.8L504.6 337.8L506.6 341.2L506.8 345.2L505.9 348.2L501.5 356.8L498.0 361.2L491.2 368.3L473.2 385.4L451.2 404.5L432.1 419.2L423.2 428.2L418.8 431.8L413.2 434.5L393.2 439.2L390.8 440.8Z" fill="#ffe200" fill-rule="evenodd"/><path d="M389.8 439.8L388.2 439.6L387.3 438.8L386.1 435.2L387.4 423.2L389.2 419.2L393.2 416.0L399.8 413.9L403.1 412.2L414.5 403.2L447.7 367.2L456.2 358.7L465.8 351.5L480.8 341.9L486.8 338.7L493.8 335.7L496.8 335.1L500.8 336.0L503.9 338.2L505.7 341.2L506.0 345.2L503.0 352.8L500.8 356.8L497.2 361.2L490.2 368.4L472.2 385.5L450.8 404.1L431.8 418.7L423.1 427.8L418.2 431.6L412.2 434.3L392.8 438.4L389.8 439.8Z" fill="#e7ff00" fill-rule="evenodd"/><path d="M391.2 437.8L389.8 438.1L388.7 437.2L387.9 431.8L388.3 424.2L390.2 419.9L393.8 417.0L403.2 412.9L415.8 403.2L449.0 366.8L456.8 359.0L465.2 352.5L486.8 339.4L494.2 336.4L496.8 336.0L500.2 336.7L503.3 338.8L505.0 341.8L505.2 345.2L502.4 352.8L500.1 356.8L496.5 361.2L488.6 369.2L471.2 385.7L449.8 404.1L431.8 417.9L422.8 427.5L417.8 431.5L411.2 434.2L391.2 437.8Z" fill="#b1ff00" fill-rule="evenodd"/><path d="M397.8 436.3L392.2 436.5L389.8 434.2L389.0 431.2L388.9 426.8L389.5 423.8L390.8 421.1L394.5 417.8L403.8 413.3L417.2 403.0L456.2 360.2L465.2 353.2L486.8 340.0L496.8 336.8L499.8 337.3L502.8 339.3L504.4 342.2L504.5 345.2L502.1 352.2L499.9 356.2L494.9 362.2L473.8 382.8L450.2 403.0L431.2 417.6L422.9 426.8L418.8 430.3L412.2 433.5L397.8 436.3Z" fill="#7cff00" fill-rule="evenodd"/><path d="M396.8 435.8L392.8 435.3L390.5 432.2L389.9 426.2L390.5 423.8L391.8 421.6L394.8 418.7L403.2 414.3L418.1 403.2L450.5 366.8L457.2 359.9L465.8 353.4L486.8 340.7L496.8 337.5L499.8 338.1L502.2 339.8L503.6 342.2L503.8 345.2L501.5 352.2L499.4 356.2L494.8 361.7L472.8 383.1L449.2 403.1L431.2 416.9L422.4 426.8L418.2 430.3L411.8 433.3L396.8 435.8Z" fill="#46ff00" fill-rule="evenodd"/><path d="M398.8 434.8L394.5 434.8L393.0 433.8L391.8 432.0L390.8 426.8L391.4 424.2L392.5 422.2L395.5 419.2L403.2 414.9L419.2 403.2L450.7 367.2L457.2 360.5L466.2 353.6L486.8 341.2L496.8 338.3L499.4 338.8L501.8 340.4L503.0 342.8L503.0 345.8L501.3 351.8L498.9 356.2L494.8 361.1L472.6 382.8L448.8 402.9L430.8 416.6L422.4 426.2L418.2 429.9L411.8 432.9L398.8 434.8Z" fill="#11ff00" fill-rule="evenodd"/><path d="M399.8 433.8L395.8 433.4L393.1 430.8L392.4 426.2L394.3 422.2L397.5 419.2L417.2 406.2L420.2 403.7L437.8 383.9L451.5 367.2L457.8 360.8L465.8 354.6L487.2 341.8L496.8 339.4L499.2 339.9L501.1 341.2L502.1 343.2L502.1 345.8L500.6 351.8L498.2 356.2L494.8 360.4L472.8 381.9L448.5 402.2L430.8 415.7L427.8 418.7L422.2 425.8L417.8 429.7L414.8 431.4L411.2 432.6L399.8 433.8Z" fill="#00ff25" fill-rule="evenodd"/><path d="M409.8 432.3L400.2 432.5L396.6 431.2L394.9 429.2L394.4 427.2L394.9 424.8L396.4 422.2L398.9 419.8L408.8 412.4L418.2 406.9L421.6 404.2L439.8 383.2L452.9 366.8L462.2 357.8L467.2 354.4L487.8 342.4L491.8 341.2L496.8 340.8L499.8 341.9L500.9 344.8L500.1 351.2L497.8 355.8L494.2 360.0L470.2 383.3L447.8 401.9L429.8 415.4L422.5 424.8L419.5 427.8L414.8 430.9L409.8 432.3Z" fill="#00ff5b" fill-rule="evenodd"/><path d="M409.2 431.8L401.8 431.5L398.4 429.8L397.3 428.2L396.9 426.2L398.3 422.2L401.2 419.2L408.8 413.2L419.2 407.7L423.1 404.8L441.2 383.0L452.5 368.2L457.5 362.8L465.8 356.1L487.2 343.5L493.2 341.9L495.8 342.2L498.4 343.2L499.6 345.8L499.9 348.2L499.2 351.8L497.7 354.8L494.6 358.8L480.6 372.8L467.2 385.1L446.6 401.8L429.8 414.1L426.8 417.4L422.2 424.2L418.8 427.8L414.2 430.6L409.2 431.8Z" fill="#00ff90" fill-rule="evenodd"/><path d="M408.8 431.3L403.2 430.7L400.2 428.8L399.3 427.2L399.0 425.2L400.6 421.2L409.8 413.3L413.2 411.4L420.8 408.5L424.2 405.9L442.8 382.8L452.5 369.2L458.3 362.8L466.2 356.4L477.2 350.5L487.8 344.1L490.8 343.1L493.8 342.8L496.2 343.4L497.8 344.5L498.9 346.8L499.0 349.2L498.3 352.2L496.7 355.2L478.3 374.2L469.2 382.7L447.8 399.8L429.2 413.0L426.4 416.2L422.0 423.8L418.2 427.6L413.8 430.3L408.8 431.3Z" fill="#00ffc6" fill-rule="evenodd"/><path d="M411.8 430.4L406.2 430.5L403.8 429.8L402.3 428.8L401.1 427.2L400.6 425.2L400.9 423.2L401.9 421.2L405.7 417.2L411.2 413.1L415.2 411.4L422.8 409.5L425.5 407.8L444.2 382.5L452.6 370.2L458.6 363.2L466.2 357.1L477.8 351.2L487.8 344.9L493.2 343.7L495.2 344.1L497.0 345.2L497.9 346.8L498.2 349.2L497.6 352.2L496.2 354.8L478.6 373.2L468.8 382.4L446.8 399.5L428.4 411.8L426.2 414.3L422.9 421.2L420.2 425.1L416.2 428.5L411.8 430.4Z" fill="#00fffb" fill-rule="evenodd"/><path d="M432.8 406.3L431.5 405.8L431.5 404.2L434.4 398.2L445.2 382.9L453.3 370.2L459.8 362.9L466.8 357.4L478.2 351.8L487.8 345.7L492.8 344.6L494.8 345.0L496.2 346.0L497.2 347.8L497.4 350.2L495.2 355.2L472.8 378.2L466.8 383.3L444.8 399.7L437.8 404.2L432.8 406.3ZM411.8 429.9L406.8 429.9L403.4 428.2L402.4 426.8L401.9 424.8L403.3 420.8L408.4 415.8L413.2 412.9L419.2 411.7L423.8 412.5L424.4 413.8L424.1 416.2L421.1 423.2L416.8 427.6L411.8 429.9Z" fill="#00cdff" fill-rule="evenodd"/><path d="M439.2 401.3L437.8 401.6L436.8 400.8L437.0 398.8L438.3 395.8L453.4 371.2L459.8 363.6L467.2 357.8L478.8 352.4L487.8 346.6L492.2 345.4L495.6 346.8L496.4 348.2L496.6 350.2L494.8 354.8L486.2 363.1L475.6 374.8L465.2 383.8L444.8 398.2L439.2 401.3ZM411.8 429.3L407.2 429.3L404.4 427.8L403.0 424.8L403.9 421.2L408.2 416.6L412.8 413.8L417.8 412.8L421.6 413.8L422.6 414.8L422.9 416.8L422.2 419.8L420.8 422.8L416.4 427.2L411.8 429.3Z" fill="#0098ff" fill-rule="evenodd"/><path d="M444.2 396.4L442.8 396.7L442.0 395.8L443.2 391.8L453.5 372.2L460.2 363.9L467.2 358.4L479.1 353.2L488.2 347.2L491.8 346.3L494.8 347.4L495.5 348.8L495.7 350.8L494.0 354.8L485.8 362.6L474.9 374.8L464.8 383.4L444.2 396.4ZM411.8 428.8L408.0 428.8L405.2 427.2L404.0 424.2L404.9 421.2L408.4 417.2L412.2 414.7L416.8 413.7L420.2 414.6L421.4 415.8L421.8 417.8L420.1 422.8L416.2 426.8L411.8 428.8Z" fill="#0062ff" fill-rule="evenodd"/><path d="M449.8 391.3L447.8 391.5L447.2 390.2L450.1 381.2L454.6 371.8L460.6 364.2L467.8 358.8L479.8 354.0L488.2 348.1L491.8 347.3L494.0 348.2L494.7 349.8L494.7 351.2L493.1 354.8L485.5 361.8L474.8 374.2L464.8 382.7L449.8 391.3ZM411.2 428.3L407.8 427.9L405.7 426.2L405.0 423.8L406.0 420.8L409.3 417.2L412.8 415.2L416.2 414.5L419.2 415.4L420.6 416.8L420.9 418.2L419.5 422.8L415.8 426.5L411.2 428.3Z" fill="#002dff" fill-rule="evenodd"/><path d="M453.2 387.8L451.4 387.8L450.7 386.2L452.2 378.8L455.6 371.2L461.2 364.4L467.8 359.4L471.8 357.6L480.2 354.9L488.2 349.2L491.2 348.5L493.1 349.2L493.6 351.8L492.2 354.5L485.2 360.8L478.8 369.2L473.2 375.0L464.2 382.4L457.8 386.0L453.2 387.8ZM410.8 427.8L408.2 427.2L406.5 425.8L405.9 423.2L406.9 420.8L409.8 417.7L412.8 415.9L415.8 415.4L418.6 416.2L419.6 417.2L420.0 418.8L418.8 422.8L415.2 426.2L410.8 427.8Z" fill="#0900ff" fill-rule="evenodd"/><path d="M456.2 385.4L454.2 385.4L453.2 384.2L452.9 381.8L453.5 378.2L456.4 371.2L461.2 365.1L465.2 361.7L469.2 359.3L473.2 357.8L480.8 356.1L488.2 350.5L490.2 349.8L491.8 350.2L492.3 351.8L491.2 354.2L484.8 359.7L479.3 367.8L474.2 373.4L465.2 381.0L460.2 383.8L456.2 385.4ZM412.8 426.8L409.8 426.9L407.8 425.9L406.9 423.8L407.3 421.8L409.1 419.2L411.8 417.1L414.8 416.2L417.2 416.7L419.1 418.8L418.6 421.8L416.3 424.8L412.8 426.8Z" fill="#3e00ff" fill-rule="evenodd"/><path d="M487.8 354.9L486.8 354.8L487.2 353.6L488.8 352.4L489.8 352.4L489.4 353.8L487.8 354.9ZM458.8 383.4L456.8 383.6L455.2 382.8L454.6 381.2L454.7 378.2L456.6 372.2L460.9 366.2L465.8 362.0L470.8 359.3L476.2 358.1L482.2 358.3L482.6 359.8L481.0 363.8L475.6 371.2L466.8 379.3L462.8 381.8L458.8 383.4ZM411.8 426.3L409.8 426.1L408.2 424.8L407.9 423.2L408.5 421.2L412.2 417.7L414.8 417.1L416.8 417.6L418.1 419.2L417.6 422.2L414.8 425.2L411.8 426.3Z" fill="#7400ff" fill-rule="evenodd"/><path d="M460.2 381.9L458.2 382.1L456.8 381.3L455.9 377.8L457.4 372.2L461.2 366.8L465.8 362.8L470.8 360.1L475.8 359.2L479.8 360.1L480.4 361.8L479.7 364.2L475.4 370.8L467.2 378.3L460.2 381.9ZM412.8 425.3L411.2 425.4L409.7 424.8L409.0 423.2L409.3 421.8L412.2 418.7L414.2 418.1L415.8 418.4L417.1 419.8L416.9 421.8L415.4 423.8L412.8 425.3Z" fill="#aa00ff" fill-rule="evenodd"/><path d="M462.2 380.3L458.8 380.5L457.6 379.2L457.2 377.2L458.1 372.8L461.2 367.8L465.5 363.8L469.8 361.2L474.8 360.3L478.2 361.2L478.8 362.2L478.7 364.2L475.5 369.8L468.2 376.8L462.2 380.3ZM413.2 424.0L411.2 424.0L410.6 422.2L412.2 420.0L414.8 419.6L415.8 420.5L415.7 421.8L413.2 424.0Z" fill="#df00ff" fill-rule="evenodd"/><path d="M462.2 379.3L460.8 379.4L459.4 378.8L458.4 375.8L459.4 371.8L462.1 367.8L465.9 364.2L469.8 362.1L473.8 361.3L476.8 362.2L477.5 363.8L477.3 365.2L474.2 370.2L467.8 376.4L462.2 379.3Z" fill="#ff00e9" fill-rule="evenodd"/><path d="M463.8 377.8L461.2 377.9L459.8 375.8L460.3 372.2L462.3 368.8L465.8 365.4L469.2 363.2L472.8 362.5L475.4 363.2L476.0 364.2L476.0 365.8L473.8 369.8L468.2 375.2L463.8 377.8Z" fill="#ff00b4" fill-rule="evenodd"/><path d="M464.8 376.3L462.2 376.3L461.3 374.8L461.5 372.2L463.1 369.2L465.8 366.5L468.8 364.6L471.2 363.9L473.8 364.3L474.6 366.2L473.1 369.2L468.8 373.8L464.8 376.3Z" fill="#ff007e" fill-rule="evenodd"/><path d="M464.8 374.8L463.5 374.2L463.1 372.8L464.8 369.1L468.8 366.0L470.8 365.5L472.2 365.9L472.6 367.8L471.0 370.2L467.8 373.4L464.8 374.8Z" fill="#ff0049" fill-rule="evenodd"/><path d="M467.2 371.3L466.7 371.2L466.8 370.2L468.8 369.2L468.4 370.2L467.2 371.3Z" fill="#ff001f" fill-rule="evenodd"/></g><line x1="384.2" y1="446.3" x2="509.0" y2="333.1" stroke="#ff00ff" stroke-width="1.6"/><line x1="381.2" y1="456.8" x2="519.5" y2="320.5" stroke="#000" stroke-width="1.15" stroke-dasharray="2.5 1.1"/></g></g>
<path d="M381.2 460.5v-1.5M381.2 320.5v1.5M418.6 460.5v-1.5M418.6 320.5v1.5M456.0 460.5v-1.5M456.0 320.5v1.5M493.3 460.5v-1.5M493.3 320.5v1.5M377.5 456.8h1.5M519.5 456.8h-1.5M377.5 438.4h1.5M519.5 438.4h-1.5M377.5 420.0h1.5M519.5 420.0h-1.5M377.5 401.6h1.5M519.5 401.6h-1.5M377.5 383.1h1.5M519.5 383.1h-1.5M377.5 364.7h1.5M519.5 364.7h-1.5M377.5 346.3h1.5M519.5 346.3h-1.5M377.5 327.9h1.5M519.5 327.9h-1.5" stroke="#999" stroke-width="0.8" fill="none"/>
<rect x="377.5" y="320.5" width="142.0" height="140.0" fill="none" stroke="#999" stroke-width="1"/>
<g font-size="9.5" class="tk"><text x="381.2" y="473.5" text-anchor="middle">0</text><text x="418.6" y="473.5" text-anchor="middle">10</text><text x="456.0" y="473.5" text-anchor="middle">20</text><text x="493.3" y="473.5" text-anchor="middle">30</text><text x="373.5" y="460.0" text-anchor="end">0</text><text x="373.5" y="441.6" text-anchor="end">5</text><text x="373.5" y="423.2" text-anchor="end">10</text><text x="373.5" y="404.8" text-anchor="end">15</text><text x="373.5" y="386.3" text-anchor="end">20</text><text x="373.5" y="367.9" text-anchor="end">25</text><text x="373.5" y="349.5" text-anchor="end">30</text><text x="373.5" y="331.1" text-anchor="end">35</text></g>
<g font-size="10.3" class="an"><text x="380.5" y="330.5">Y=0.92×X+2.12</text><text x="380.5" y="341.8">P&lt;0.05</text><text x="511.0" y="449.5" text-anchor="end">(c3)</text></g>
<text x="448.5" y="485.5" text-anchor="middle" font-size="10.5" class="al">Met. Tem. (°C)</text>
<rect x="524" y="6" width="8.5" height="125.4" fill="url(#hsv)"/>
<g font-size="9.5" class="tk"><text x="536" y="134.6">0</text><text x="536" y="109.5">0.2</text><text x="536" y="84.4">0.4</text><text x="536" y="59.4">0.6</text><text x="536" y="34.3">0.8</text><text x="536" y="9.2">1</text></g>
<rect x="524" y="163" width="8.5" height="125" fill="url(#hsv)"/>
<g font-size="9.5" class="tk"><text x="536" y="291.2">0</text><text x="536" y="266.2">0.2</text><text x="536" y="241.2">0.4</text><text x="536" y="216.2">0.6</text><text x="536" y="191.2">0.8</text><text x="536" y="166.2">1</text></g>
<rect x="524" y="320" width="8.5" height="142.5" fill="url(#hsv)"/>
<g font-size="9.5" class="tk"><text x="536" y="465.7">0</text><text x="536" y="437.2">0.2</text><text x="536" y="408.7">0.4</text><text x="536" y="380.2">0.6</text><text x="536" y="351.7">0.8</text><text x="536" y="323.2">1</text></g>
</svg></body></html>
